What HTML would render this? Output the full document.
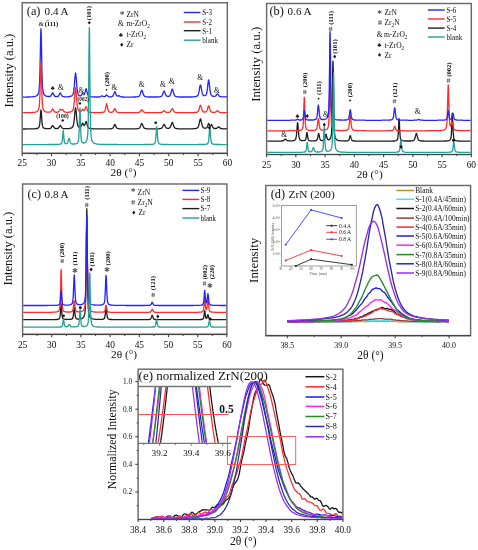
<!DOCTYPE html>
<html><head><meta charset="utf-8"><style>
html,body{margin:0;padding:0;background:#fff;}
svg{display:block;filter:blur(0.3px);font-family:"Liberation Serif",serif;}
</style></head><body>
<svg width="478" height="550" viewBox="0 0 478 550">
<rect width="478" height="550" fill="#fff"/>
<defs>
<clipPath id="ca"><rect x="23" y="3.5" width="203.8" height="149.3"/></clipPath>
<clipPath id="cb"><rect x="267.3" y="4.2" width="203.3" height="149.6"/></clipPath>
<clipPath id="cc"><rect x="23.3" y="184.7" width="202.9" height="149"/></clipPath>
<clipPath id="cd"><rect x="266.5" y="186.2" width="203.4" height="148.7"/></clipPath>
<clipPath id="ce"><rect x="138.8" y="369.9" width="203.4" height="148.9"/></clipPath>
<clipPath id="ci"><rect x="138.8" y="387.1" width="92.3" height="55.7"/></clipPath>
</defs>
<rect x="22.2" y="2.75" width="205.1" height="150.65" stroke="#6a6a6a" stroke-width="1.45" fill="none"/>
<line x1="22.2" y1="153.4" x2="227.3" y2="153.4" stroke="#444" stroke-width="1.2"/>
<line x1="22.2" y1="153.4" x2="22.2" y2="156.2" stroke="#444" stroke-width="1.1"/>
<text x="22.2" y="166.3" font-size="9.4" text-anchor="middle" fill="#111">25</text>
<line x1="51.52" y1="153.4" x2="51.52" y2="156.2" stroke="#444" stroke-width="1.1"/>
<text x="51.52" y="166.3" font-size="9.4" text-anchor="middle" fill="#111">30</text>
<line x1="80.83" y1="153.4" x2="80.83" y2="156.2" stroke="#444" stroke-width="1.1"/>
<text x="80.83" y="166.3" font-size="9.4" text-anchor="middle" fill="#111">35</text>
<line x1="110.15" y1="153.4" x2="110.15" y2="156.2" stroke="#444" stroke-width="1.1"/>
<text x="110.15" y="166.3" font-size="9.4" text-anchor="middle" fill="#111">40</text>
<line x1="139.46" y1="153.4" x2="139.46" y2="156.2" stroke="#444" stroke-width="1.1"/>
<text x="139.46" y="166.3" font-size="9.4" text-anchor="middle" fill="#111">45</text>
<line x1="168.78" y1="153.4" x2="168.78" y2="156.2" stroke="#444" stroke-width="1.1"/>
<text x="168.78" y="166.3" font-size="9.4" text-anchor="middle" fill="#111">50</text>
<line x1="198.09" y1="153.4" x2="198.09" y2="156.2" stroke="#444" stroke-width="1.1"/>
<text x="198.09" y="166.3" font-size="9.4" text-anchor="middle" fill="#111">55</text>
<line x1="227.41" y1="153.4" x2="227.41" y2="156.2" stroke="#444" stroke-width="1.1"/>
<text x="227.41" y="166.3" font-size="9.4" text-anchor="middle" fill="#111">60</text>
<line x1="36.86" y1="153.4" x2="36.86" y2="155" stroke="#444" stroke-width="1"/>
<line x1="66.17" y1="153.4" x2="66.17" y2="155" stroke="#444" stroke-width="1"/>
<line x1="95.49" y1="153.4" x2="95.49" y2="155" stroke="#444" stroke-width="1"/>
<line x1="124.8" y1="153.4" x2="124.8" y2="155" stroke="#444" stroke-width="1"/>
<line x1="154.12" y1="153.4" x2="154.12" y2="155" stroke="#444" stroke-width="1"/>
<line x1="183.43" y1="153.4" x2="183.43" y2="155" stroke="#444" stroke-width="1"/>
<line x1="212.75" y1="153.4" x2="212.75" y2="155" stroke="#444" stroke-width="1"/>
<text x="123.5" y="176.4" font-size="11.3" text-anchor="middle" fill="#111">2θ (°)</text>
<text x="13.1" y="70.6" font-size="12.6" text-anchor="middle" transform="rotate(-90 13.1 70.6)" fill="#111">Intensity (a.u.)</text>
<text x="26.8" y="14.6" font-size="12.3" fill="#111">(a)</text>
<text x="44.6" y="14.6" font-size="11.1" fill="#111">0.4 A</text>
<path d="M22.2,129.0 23.2,129.0 24.2,129.0 25.2,129.0 26.2,128.9 27.2,128.9 28.2,128.9 29.2,128.9 30.2,128.9 31.2,128.9 32.2,128.9 33.2,128.8 34.2,128.8 35.2,128.7 36.2,128.6 36.9,128.5 37.0,128.5 37.2,128.5 37.2,128.4 37.3,128.4 37.5,128.4 37.7,128.3 37.8,128.2 38.0,128.1 38.2,128.1 38.2,128.0 38.3,127.9 38.5,127.8 38.7,127.6 38.8,127.4 39.0,127.1 39.2,126.7 39.2,126.6 39.3,126.2 39.5,125.5 39.6,124.5 39.8,123.2 40.0,121.5 40.1,119.5 40.2,118.4 40.3,117.1 40.5,114.6 40.6,112.3 40.8,110.6 41.0,110.0 41.1,110.6 41.2,111.5 41.3,112.3 41.5,114.6 41.6,117.1 41.8,119.4 41.9,121.5 42.1,123.1 42.2,124.0 42.3,124.5 42.4,125.4 42.6,126.2 42.8,126.7 42.9,127.1 43.1,127.4 43.2,127.6 43.3,127.6 43.4,127.8 43.6,127.9 43.8,128.0 43.9,128.1 44.1,128.2 44.2,128.2 44.2,128.3 44.4,128.3 44.6,128.4 44.7,128.4 44.9,128.4 45.1,128.5 45.2,128.5 46.2,128.6 46.8,128.7 47.1,128.7 47.2,128.7 47.3,128.7 47.5,128.7 47.8,128.7 48.0,128.7 48.2,128.7 48.2,128.7 48.5,128.7 48.7,128.7 48.9,128.6 49.2,128.6 49.2,128.6 49.4,128.6 49.6,128.6 49.9,128.5 50.1,128.5 50.2,128.4 50.3,128.4 50.6,128.2 50.8,128.1 51.0,127.8 51.2,127.6 51.3,127.6 51.5,127.2 51.7,126.8 52.0,126.4 52.2,126.0 52.2,125.9 52.5,125.7 52.7,125.6 52.9,125.7 53.2,126.0 53.2,126.1 53.4,126.4 53.6,126.8 53.9,127.2 54.1,127.5 54.2,127.7 54.3,127.8 54.4,127.9 54.6,128.0 54.7,128.1 54.8,128.2 54.9,128.3 55.0,128.3 55.2,128.4 55.2,128.4 55.3,128.4 55.4,128.5 55.5,128.5 55.6,128.5 55.7,128.5 55.9,128.5 56.0,128.5 56.1,128.5 56.2,128.6 56.2,128.6 56.3,128.6 56.4,128.6 56.6,128.6 56.7,128.6 56.8,128.6 56.9,128.5 57.0,128.5 57.1,128.5 57.2,128.5 57.3,128.5 57.4,128.5 57.5,128.5 57.6,128.4 57.7,128.4 57.8,128.4 58.0,128.3 58.1,128.3 58.2,128.2 58.2,128.2 58.3,128.1 58.4,128.0 58.6,127.9 58.7,127.8 58.9,127.5 59.1,127.2 59.2,127.0 59.4,126.8 59.6,126.4 59.8,125.9 60.1,125.7 60.2,125.5 60.3,125.5 60.5,125.7 60.8,126.0 61.0,126.4 61.2,126.8 61.2,126.8 61.5,127.2 61.7,127.5 62.0,127.8 62.2,128.1 62.2,128.1 62.4,128.2 62.7,128.3 62.9,128.4 63.1,128.5 63.2,128.5 63.4,128.6 63.6,128.6 63.8,128.6 64.1,128.6 64.2,128.6 64.3,128.6 64.5,128.7 64.8,128.7 65.0,128.7 65.2,128.7 65.2,128.7 65.5,128.7 65.7,128.7 65.9,128.7 66.2,128.7 66.2,128.7 67.2,128.6 68.2,128.6 69.2,128.5 69.7,128.4 69.9,128.4 70.2,128.3 70.2,128.3 70.4,128.3 70.6,128.2 70.9,128.2 71.1,128.1 71.2,128.0 71.3,128.0 71.6,127.9 71.8,127.8 72.0,127.6 72.3,127.4 72.3,127.4 72.5,127.2 72.7,126.9 73.0,126.4 73.2,125.8 73.3,125.7 73.4,125.0 73.7,123.9 73.9,122.5 74.1,120.6 74.3,119.6 74.4,118.4 74.6,115.8 74.8,113.0 75.1,110.5 75.3,109.0 75.3,108.6 75.6,107.8 75.8,108.5 76.0,110.4 76.3,113.0 76.3,113.0 76.5,115.7 76.7,118.3 77.0,120.5 77.2,122.4 77.3,122.8 77.4,123.8 77.7,124.9 77.9,125.7 78.1,126.2 78.3,126.5 78.4,126.6 78.6,126.9 78.8,127.1 79.1,127.3 79.3,127.4 79.3,127.4 79.5,127.4 79.8,127.5 80.0,127.4 80.2,127.3 80.3,127.3 80.5,127.2 80.7,127.0 80.9,126.7 81.2,126.3 81.3,126.1 81.4,125.7 81.7,125.1 81.9,124.5 82.1,123.9 82.3,123.6 82.4,123.4 82.6,123.2 82.8,123.3 83.1,123.7 83.3,124.2 83.3,124.3 83.5,124.8 83.8,125.2 84.0,125.5 84.2,125.6 84.3,125.6 84.5,125.4 84.7,125.1 84.9,124.6 85.2,123.9 85.3,123.5 85.4,123.1 85.6,122.3 85.9,121.7 86.1,121.5 86.3,121.7 86.3,121.8 86.6,122.5 86.8,123.4 87.0,124.3 87.3,125.1 87.3,125.2 87.5,125.9 87.7,126.6 88.0,127.1 88.2,127.5 88.3,127.5 88.5,127.7 88.7,128.0 88.9,128.1 89.2,128.2 89.3,128.3 89.4,128.3 89.6,128.4 89.9,128.4 90.1,128.5 90.3,128.5 90.3,128.5 90.6,128.6 90.8,128.6 91.0,128.6 91.3,128.6 91.3,128.7 91.5,128.7 91.7,128.7 92.0,128.7 92.3,128.7 93.3,128.8 94.3,128.8 95.3,128.8 96.3,128.9 97.3,128.9 98.3,128.9 99.3,128.9 100.3,128.9 101.3,128.9 102.3,128.9 103.3,128.9 104.3,128.9 105.3,128.9 106.3,128.9 107.3,128.9 108.3,128.9 109.0,128.8 109.2,128.8 109.3,128.8 109.4,128.8 109.7,128.8 109.9,128.8 110.1,128.8 110.3,128.8 110.4,128.8 110.6,128.8 110.8,128.7 111.1,128.7 111.3,128.7 111.3,128.7 111.6,128.6 111.8,128.6 112.0,128.5 112.3,128.4 112.3,128.4 112.5,128.3 112.7,128.1 113.0,127.9 113.2,127.6 113.3,127.4 113.4,127.2 113.7,126.7 113.9,126.2 114.1,125.6 114.3,125.2 114.4,125.0 114.6,124.6 114.8,124.5 115.1,124.6 115.3,125.0 115.3,125.0 115.5,125.6 115.8,126.2 116.0,126.7 116.2,127.2 116.3,127.3 116.5,127.6 116.7,127.9 116.9,128.1 117.2,128.3 117.3,128.4 117.4,128.4 117.6,128.5 117.9,128.6 118.1,128.6 118.3,128.7 118.4,128.7 118.6,128.7 118.8,128.7 119.1,128.8 119.3,128.8 119.3,128.8 119.5,128.8 119.8,128.8 120.0,128.8 120.2,128.8 120.3,128.8 120.5,128.8 120.7,128.9 121.3,128.9 122.3,128.9 123.3,128.9 124.3,128.9 125.3,128.9 126.3,128.9 127.3,128.9 128.3,128.9 129.3,128.9 130.3,128.9 131.3,128.9 132.3,128.9 133.3,128.9 134.3,128.9 135.2,128.8 135.3,128.8 135.5,128.8 135.7,128.8 136.0,128.8 136.3,128.8 136.3,128.8 136.5,128.8 136.8,128.8 137.1,128.7 137.3,128.7 137.3,128.7 137.6,128.7 137.8,128.6 138.1,128.6 138.3,128.5 138.4,128.5 138.6,128.4 138.9,128.3 139.2,128.2 139.3,128.1 139.4,128.0 139.7,127.7 140.0,127.3 140.2,126.8 140.3,126.6 140.5,126.2 140.7,125.5 141.0,124.8 141.3,124.2 141.3,124.1 141.5,123.7 141.8,123.5 142.1,123.7 142.3,124.1 142.3,124.2 142.6,124.8 142.9,125.5 143.1,126.2 143.3,126.7 143.4,126.8 143.7,127.3 143.9,127.7 144.2,128.0 144.3,128.1 144.4,128.2 144.7,128.3 145.0,128.4 145.2,128.5 145.3,128.5 145.5,128.6 145.8,128.6 146.0,128.7 146.3,128.7 146.3,128.7 146.6,128.7 146.8,128.7 147.1,128.8 147.3,128.8 147.3,128.8 147.6,128.8 147.9,128.8 148.1,128.8 148.3,128.8 148.4,128.8 149.3,128.9 150.3,128.9 151.3,128.9 152.3,128.9 153.3,128.9 154.3,128.9 155.3,128.9 156.3,128.9 157.3,128.8 157.5,128.8 157.8,128.8 158.0,128.8 158.3,128.8 158.3,128.8 158.5,128.8 158.8,128.8 159.1,128.8 159.3,128.7 159.3,128.7 159.6,128.7 159.9,128.7 160.1,128.6 160.3,128.6 160.4,128.6 160.7,128.6 160.9,128.5 161.2,128.4 161.3,128.3 161.4,128.3 161.7,128.1 162.0,127.8 162.2,127.5 162.3,127.4 162.5,127.1 162.8,126.6 163.0,126.1 163.3,125.5 163.3,125.4 163.6,124.9 163.8,124.5 164.1,124.4 164.3,124.5 164.3,124.5 164.6,124.9 164.9,125.5 165.1,126.0 165.3,126.5 165.4,126.6 165.7,127.1 165.7,127.1 165.9,127.4 166.0,127.5 166.2,127.7 166.2,127.8 166.3,127.9 166.5,128.0 166.5,128.0 166.7,128.1 166.8,128.1 167.0,128.2 167.0,128.2 167.3,128.3 167.3,128.3 167.3,128.3 167.5,128.3 167.5,128.3 167.8,128.4 167.8,128.4 168.0,128.4 168.1,128.4 168.3,128.3 168.3,128.3 168.3,128.3 168.6,128.3 168.6,128.3 168.8,128.3 168.9,128.3 169.1,128.2 169.1,128.2 169.3,128.1 169.4,128.1 169.4,128.1 169.6,127.9 169.7,127.9 169.9,127.7 169.9,127.6 170.2,127.4 170.2,127.3 170.3,127.1 170.4,126.9 170.4,126.9 170.7,126.4 170.7,126.3 171.0,125.6 171.2,124.8 171.3,124.5 171.5,124.0 171.8,123.2 172.0,122.6 172.3,122.4 172.4,122.4 172.6,122.6 172.8,123.2 173.1,124.0 173.3,124.9 173.4,124.9 173.6,125.7 173.9,126.4 174.1,126.9 174.4,127.3 174.4,127.4 174.7,127.7 174.9,128.0 175.2,128.2 175.4,128.3 175.5,128.3 175.7,128.4 176.0,128.5 176.3,128.5 176.4,128.6 176.5,128.6 176.8,128.6 177.0,128.7 177.3,128.7 177.4,128.7 177.6,128.7 177.8,128.7 178.1,128.7 178.4,128.8 178.4,128.8 178.6,128.8 178.9,128.8 179.4,128.8 180.4,128.8 181.4,128.9 182.4,128.9 183.4,128.9 184.4,128.9 185.4,128.9 186.4,128.9 187.4,128.9 188.4,128.9 189.4,128.9 190.4,128.8 191.4,128.8 192.4,128.8 193.4,128.7 193.8,128.7 194.1,128.7 194.4,128.7 194.4,128.7 194.6,128.7 194.9,128.6 195.2,128.6 195.4,128.6 195.4,128.6 195.7,128.5 196.0,128.5 196.2,128.4 196.4,128.4 196.5,128.3 196.7,128.2 197.0,128.1 197.3,128.0 197.4,127.9 197.5,127.8 197.8,127.5 198.1,127.1 198.3,126.6 198.4,126.4 198.6,125.9 198.9,125.0 199.1,123.9 199.4,122.7 199.4,122.7 199.6,121.4 199.9,120.2 200.2,119.3 200.4,118.9 200.4,118.9 200.7,119.2 201.0,120.1 201.2,121.4 201.4,122.1 201.5,122.7 201.8,123.9 202.0,124.9 202.3,125.8 202.4,126.1 202.5,126.5 202.8,127.0 203.1,127.4 203.3,127.7 203.4,127.7 203.5,127.8 203.6,127.9 203.7,127.9 203.9,128.0 203.9,128.0 204.1,128.1 204.3,128.1 204.4,128.1 204.4,128.1 204.5,128.2 204.7,128.2 204.7,128.2 204.9,128.2 204.9,128.2 205.2,128.2 205.2,128.2 205.4,128.2 205.4,128.2 205.4,128.2 205.6,128.2 205.7,128.2 205.8,128.2 206.0,128.2 206.2,128.1 206.2,128.1 206.4,128.0 206.4,128.0 206.4,128.0 206.5,127.9 206.6,127.9 206.6,127.8 206.8,127.7 206.8,127.7 206.9,127.6 207.0,127.4 207.0,127.4 207.1,127.3 207.2,127.1 207.3,127.0 207.4,126.7 207.4,126.7 207.5,126.5 207.6,126.1 207.7,125.9 207.8,125.5 207.9,125.3 208.0,124.8 208.1,124.6 208.2,124.2 208.3,124.1 208.4,123.8 208.4,123.7 208.5,123.6 208.6,123.5 208.7,123.5 208.8,123.7 208.9,123.8 209.1,124.1 209.1,124.2 209.3,124.6 209.3,124.8 209.4,125.0 209.5,125.2 209.5,125.3 209.7,125.6 209.7,125.8 209.9,126.0 209.9,126.1 210.1,126.2 210.1,126.2 210.3,126.2 210.3,126.2 210.4,126.1 210.5,126.1 210.5,126.0 210.7,125.8 210.8,125.7 210.9,125.4 211.0,125.3 211.1,125.0 211.2,124.9 211.3,124.7 211.4,124.6 211.4,124.6 211.5,124.5 211.6,124.5 211.7,124.6 211.8,124.7 211.9,125.0 212.0,125.1 212.0,125.2 212.1,125.5 212.2,125.6 212.3,125.8 212.3,126.0 212.4,126.1 212.4,126.2 212.5,126.5 212.6,126.7 212.7,127.0 212.8,127.1 213.0,127.4 213.0,127.5 213.1,127.6 213.2,127.7 213.2,127.8 213.3,127.9 213.4,127.9 213.4,127.9 213.4,128.0 213.6,128.1 213.6,128.1 213.6,128.1 213.8,128.2 213.8,128.3 213.9,128.3 214.0,128.3 214.1,128.4 214.2,128.4 214.4,128.4 214.4,128.4 214.4,128.4 214.7,128.5 214.9,128.5 214.9,128.5 215.1,128.5 215.2,128.5 215.3,128.5 215.4,128.5 215.4,128.5 215.5,128.5 215.7,128.5 215.7,128.5 215.9,128.5 216.0,128.5 216.1,128.4 216.2,128.4 216.3,128.4 216.4,128.3 216.5,128.3 216.7,128.2 216.8,128.2 217.0,128.0 217.3,127.8 217.4,127.7 217.6,127.6 217.8,127.3 218.1,127.1 218.3,126.9 218.4,126.9 218.6,126.9 218.9,126.9 219.1,127.1 219.4,127.4 219.4,127.4 219.7,127.6 219.9,127.9 220.2,128.1 220.4,128.2 220.5,128.3 220.7,128.4 221.0,128.5 221.2,128.6 221.4,128.6 221.5,128.6 221.8,128.7 222.0,128.7 222.3,128.7 222.4,128.7 222.6,128.8 222.8,128.8 223.0,128.8 223.1,128.8 223.3,128.8 223.4,128.8 223.4,128.8 223.6,128.8 223.6,128.8 223.9,128.8 224.2,128.8 224.2,128.8 224.4,128.8 224.4,128.8 224.5,128.8 224.7,128.8 224.8,128.8 224.9,128.8 225.1,128.8 225.2,128.8 225.4,128.8 225.4,128.8 225.6,128.8 225.9,128.7 226.2,128.7 226.4,128.7 226.5,128.7 226.8,128.6 227.1,128.6 227.4,128.5" stroke="#1e1e1e" stroke-width="1.3" fill="none" stroke-linejoin="round" clip-path="url(#ca)"/>
<path d="M22.2,97.1 23.2,97.1 24.2,97.1 25.2,97.1 26.2,97.1 27.2,97.0 28.2,97.0 29.2,97.0 30.2,96.9 31.2,96.9 32.2,96.8 33.2,96.7 34.2,96.6 35.2,96.3 36.2,96.0 36.9,95.6 37.0,95.4 37.2,95.3 37.2,95.3 37.3,95.1 37.5,95.0 37.7,94.7 37.8,94.5 38.0,94.2 38.2,93.9 38.2,93.8 38.3,93.5 38.5,93.0 38.7,92.4 38.8,91.6 39.0,90.6 39.2,89.2 39.2,88.5 39.3,87.2 39.5,84.6 39.6,81.0 39.8,76.2 40.0,70.2 40.1,62.9 40.2,59.1 40.3,54.5 40.5,45.6 40.6,37.2 40.8,31.0 41.0,28.6 41.1,31.0 41.2,34.1 41.3,37.2 41.5,45.6 41.6,54.5 41.8,62.9 41.9,70.2 42.1,76.2 42.2,79.5 42.3,80.9 42.4,84.5 42.6,87.2 42.8,89.1 42.9,90.5 43.1,91.6 43.2,92.2 43.3,92.4 43.4,93.0 43.6,93.4 43.8,93.8 43.9,94.2 44.1,94.5 44.2,94.7 44.2,94.7 44.4,94.9 44.6,95.1 44.7,95.2 44.9,95.4 45.1,95.5 45.2,95.6 46.2,96.1 46.8,96.3 47.1,96.3 47.2,96.3 47.3,96.4 47.5,96.4 47.8,96.4 48.0,96.4 48.2,96.5 48.2,96.5 48.5,96.5 48.7,96.5 48.9,96.5 49.2,96.5 49.2,96.5 49.4,96.5 49.6,96.4 49.9,96.4 50.1,96.3 50.2,96.3 50.3,96.2 50.6,96.1 50.8,95.9 51.0,95.6 51.2,95.4 51.3,95.3 51.5,94.9 51.7,94.4 52.0,93.9 52.2,93.4 52.2,93.4 52.5,93.0 52.7,92.9 52.9,93.0 53.2,93.4 53.2,93.5 53.4,93.9 53.6,94.4 53.9,94.9 54.1,95.3 54.2,95.5 54.3,95.7 54.4,95.8 54.6,95.9 54.7,96.1 54.8,96.2 54.9,96.2 55.0,96.3 55.2,96.4 55.2,96.4 55.3,96.4 55.4,96.5 55.5,96.5 55.6,96.5 55.7,96.5 55.9,96.6 56.0,96.6 56.1,96.6 56.2,96.6 56.2,96.6 56.3,96.6 56.4,96.6 56.6,96.6 56.7,96.6 56.8,96.6 56.9,96.6 57.0,96.6 57.1,96.6 57.2,96.6 57.3,96.5 57.4,96.5 57.5,96.5 57.6,96.5 57.7,96.4 57.8,96.4 58.0,96.3 58.1,96.3 58.2,96.2 58.2,96.2 58.3,96.1 58.4,96.0 58.6,95.9 58.7,95.7 58.9,95.4 59.1,94.9 59.2,94.7 59.4,94.5 59.6,93.9 59.8,93.5 60.1,93.1 60.2,93.0 60.3,93.0 60.5,93.1 60.8,93.5 61.0,94.0 61.2,94.5 61.2,94.5 61.5,95.0 61.7,95.4 62.0,95.7 62.2,96.0 62.2,96.1 62.4,96.2 62.7,96.4 62.9,96.5 63.1,96.6 63.2,96.6 63.4,96.6 63.6,96.7 63.8,96.7 64.1,96.7 64.2,96.7 64.3,96.8 64.5,96.8 64.8,96.8 65.0,96.8 65.2,96.8 65.2,96.8 65.5,96.8 65.7,96.8 65.9,96.8 66.2,96.8 66.2,96.8 67.2,96.8 68.2,96.7 69.2,96.6 69.7,96.5 69.9,96.5 70.2,96.4 70.2,96.4 70.4,96.4 70.6,96.3 70.9,96.2 71.1,96.1 71.2,96.1 71.3,96.0 71.6,95.9 71.8,95.8 72.0,95.6 72.3,95.4 72.3,95.4 72.5,95.1 72.7,94.8 73.0,94.3 73.2,93.6 73.3,93.4 73.4,92.7 73.7,91.4 73.9,89.7 74.1,87.6 74.3,86.5 74.4,85.1 74.6,82.1 74.8,79.0 75.1,76.1 75.3,74.4 75.3,73.9 75.6,73.0 75.8,73.9 76.0,76.0 76.3,78.9 76.3,79.0 76.5,82.1 76.7,85.0 77.0,87.6 77.2,89.7 77.3,90.1 77.4,91.3 77.5,91.5 77.7,92.6 77.9,93.4 77.9,93.5 78.1,94.0 78.1,94.2 78.3,94.4 78.3,94.5 78.4,94.6 78.5,94.8 78.6,95.0 78.7,95.1 78.8,95.2 78.9,95.3 79.1,95.4 79.1,95.4 79.3,95.5 79.3,95.6 79.5,95.7 79.5,95.7 79.7,95.7 79.8,95.7 79.9,95.8 80.0,95.8 80.1,95.8 80.2,95.8 80.3,95.8 80.3,95.8 80.5,95.8 80.5,95.8 80.7,95.7 80.7,95.7 80.9,95.6 81.2,95.4 81.2,95.3 81.3,95.3 81.4,95.1 81.4,95.1 81.6,94.8 81.7,94.7 81.8,94.5 81.9,94.2 82.0,94.1 82.1,93.8 82.2,93.7 82.3,93.6 82.4,93.4 82.4,93.4 82.6,93.3 82.8,93.3 82.8,93.4 83.0,93.6 83.1,93.6 83.2,93.8 83.3,93.9 83.3,94.0 83.4,94.1 83.5,94.3 83.6,94.3 83.8,94.4 83.8,94.5 84.0,94.5 84.0,94.5 84.2,94.3 84.3,94.3 84.4,94.0 84.5,93.9 84.6,93.5 84.7,93.4 84.8,92.9 84.9,92.6 85.1,92.2 85.2,91.7 85.3,91.3 85.3,91.3 85.4,90.7 85.5,90.5 85.6,89.8 85.7,89.7 85.9,89.1 86.1,88.8 86.1,88.8 86.3,89.0 86.3,89.0 86.3,89.1 86.5,89.6 86.6,89.9 86.7,90.4 86.8,90.9 86.9,91.3 87.0,91.9 87.1,92.2 87.3,92.9 87.3,92.9 87.3,93.0 87.5,93.8 87.7,94.4 87.7,94.5 88.0,95.1 88.2,95.5 88.3,95.6 88.5,95.8 88.7,96.1 88.9,96.2 89.2,96.4 89.3,96.4 89.4,96.5 89.6,96.5 89.9,96.6 90.1,96.6 90.3,96.7 90.3,96.7 90.6,96.7 90.8,96.8 91.0,96.8 91.3,96.8 91.3,96.8 91.5,96.8 91.7,96.9 92.0,96.9 92.3,96.9 93.3,96.9 94.3,97.0 95.3,97.0 96.1,97.0 96.3,97.0 96.3,97.0 96.5,97.0 96.8,97.0 97.0,97.0 97.2,97.0 97.3,97.0 97.5,97.0 97.7,97.0 97.9,97.0 98.2,97.0 98.3,97.0 98.4,97.0 98.7,97.0 98.9,97.0 99.1,96.9 99.3,96.9 99.4,96.9 99.6,96.9 99.8,96.8 100.1,96.8 100.3,96.7 100.3,96.7 100.5,96.6 100.8,96.4 101.0,96.3 101.2,96.1 101.3,96.1 101.5,96.0 101.5,96.0 101.7,95.9 101.9,95.8 101.9,95.8 102.1,95.8 102.2,95.9 102.3,95.9 102.3,95.9 102.4,96.0 102.5,96.0 102.6,96.1 102.7,96.2 102.9,96.2 102.9,96.3 103.1,96.4 103.1,96.4 103.3,96.5 103.3,96.5 103.5,96.6 103.6,96.6 103.8,96.6 103.8,96.6 104.0,96.7 104.0,96.7 104.2,96.7 104.3,96.7 104.4,96.7 104.5,96.6 104.6,96.6 104.8,96.6 104.8,96.6 105.0,96.5 105.2,96.3 105.2,96.3 105.3,96.2 105.4,96.1 105.5,96.1 105.6,95.9 105.7,95.8 105.8,95.6 105.9,95.5 106.0,95.4 106.2,95.2 106.2,95.1 106.3,95.0 106.4,94.9 106.4,94.9 106.6,94.8 106.8,94.9 106.9,94.9 107.0,95.1 107.1,95.2 107.2,95.4 107.3,95.4 107.3,95.5 107.4,95.7 107.6,95.8 107.7,95.9 107.8,96.1 107.9,96.2 108.1,96.3 108.3,96.5 108.3,96.5 108.5,96.6 108.7,96.7 108.9,96.7 109.0,96.8 109.1,96.8 109.2,96.8 109.3,96.8 109.3,96.8 109.4,96.8 109.5,96.8 109.7,96.8 109.7,96.8 109.9,96.8 110.1,96.8 110.1,96.8 110.3,96.8 110.3,96.8 110.4,96.8 110.5,96.8 110.6,96.8 110.7,96.8 110.8,96.8 110.9,96.8 111.1,96.8 111.1,96.8 111.3,96.7 111.3,96.7 111.3,96.7 111.6,96.7 111.8,96.6 111.8,96.6 112.0,96.5 112.3,96.4 112.3,96.4 112.5,96.3 112.7,96.1 113.0,95.8 113.1,95.6 113.2,95.4 113.3,95.2 113.3,95.2 113.4,94.9 113.5,94.6 113.7,94.3 113.8,94.0 113.9,93.7 114.0,93.3 114.1,92.9 114.2,92.6 114.3,92.5 114.4,92.3 114.5,92.0 114.6,91.8 114.7,91.6 114.8,91.6 115.0,91.6 115.1,91.8 115.2,92.0 115.3,92.2 115.3,92.2 115.4,92.6 115.5,92.9 115.7,93.3 115.8,93.6 115.9,94.0 116.0,94.3 116.1,94.6 116.2,94.8 116.3,95.0 116.4,95.1 116.5,95.3 116.6,95.5 116.7,95.6 116.8,95.8 116.9,95.9 117.1,96.0 117.2,96.0 117.3,96.1 117.3,96.1 117.4,96.1 117.5,96.1 117.6,96.1 117.8,96.1 117.9,96.0 118.0,96.0 118.1,95.9 118.2,95.9 118.3,95.8 118.4,95.8 118.5,95.8 118.6,95.7 118.7,95.7 118.8,95.7 118.9,95.7 119.1,95.7 119.2,95.8 119.3,95.8 119.3,95.8 119.4,95.9 119.5,96.0 119.6,96.1 119.8,96.1 119.9,96.2 120.0,96.3 120.1,96.4 120.2,96.5 120.3,96.5 120.3,96.5 120.5,96.6 120.6,96.6 120.7,96.7 120.8,96.7 121.1,96.8 121.3,96.9 121.3,96.9 121.5,96.9 121.8,96.9 122.0,97.0 122.2,97.0 122.3,97.0 122.5,97.0 122.7,97.0 122.9,97.0 123.2,97.0 123.3,97.0 123.4,97.0 123.6,97.0 123.9,97.0 124.1,97.1 124.3,97.1 124.3,97.1 124.6,97.1 124.8,97.1 125.3,97.1 126.3,97.1 127.3,97.1 128.3,97.1 129.3,97.1 130.3,97.1 131.3,97.1 132.3,97.1 133.3,97.0 134.3,97.0 135.2,97.0 135.3,97.0 135.5,97.0 135.7,97.0 136.0,96.9 136.3,96.9 136.3,96.9 136.5,96.9 136.8,96.9 137.1,96.8 137.3,96.8 137.3,96.8 137.6,96.8 137.8,96.7 138.1,96.7 138.3,96.6 138.4,96.6 138.6,96.5 138.9,96.3 139.2,96.1 139.3,96.0 139.4,95.9 139.7,95.5 140.0,95.0 140.2,94.4 140.3,94.1 140.5,93.7 140.7,92.8 141.0,91.9 141.3,91.0 141.3,90.9 141.5,90.4 141.8,90.1 142.1,90.4 142.3,91.0 142.3,91.0 142.6,91.9 142.9,92.8 143.1,93.6 143.3,94.2 143.4,94.4 143.7,95.0 143.9,95.5 144.2,95.9 144.3,96.0 144.4,96.1 144.7,96.3 145.0,96.5 145.2,96.6 145.3,96.6 145.5,96.7 145.8,96.7 146.0,96.8 146.3,96.8 146.3,96.8 146.6,96.8 146.8,96.9 147.1,96.9 147.3,96.9 147.3,96.9 147.6,96.9 147.9,96.9 148.1,97.0 148.3,97.0 148.4,97.0 149.3,97.0 150.3,97.0 151.3,97.0 152.3,97.0 153.3,97.0 154.3,97.0 155.3,97.0 156.3,97.0 157.3,97.0 157.5,97.0 157.8,97.0 158.0,96.9 158.3,96.9 158.3,96.9 158.5,96.9 158.8,96.9 159.1,96.9 159.3,96.8 159.3,96.8 159.6,96.8 159.9,96.8 160.1,96.7 160.3,96.7 160.4,96.7 160.7,96.6 160.9,96.5 161.2,96.4 161.3,96.3 161.4,96.2 161.7,96.0 162.0,95.7 162.2,95.2 162.3,95.0 162.5,94.7 162.8,94.1 163.0,93.3 163.3,92.5 163.3,92.4 163.6,91.8 163.8,91.2 164.1,91.0 164.3,91.2 164.3,91.2 164.6,91.8 164.9,92.5 165.1,93.3 165.3,93.8 165.4,94.0 165.7,94.6 165.7,94.7 165.9,95.1 166.0,95.2 166.2,95.5 166.2,95.6 166.3,95.7 166.5,95.8 166.5,95.8 166.7,96.0 166.8,96.1 167.0,96.2 167.0,96.2 167.3,96.3 167.3,96.3 167.3,96.3 167.5,96.3 167.5,96.3 167.8,96.4 167.8,96.4 168.0,96.4 168.1,96.4 168.3,96.4 168.3,96.4 168.3,96.4 168.6,96.3 168.6,96.3 168.8,96.3 168.9,96.3 169.1,96.2 169.1,96.2 169.3,96.0 169.4,96.0 169.4,96.0 169.6,95.8 169.7,95.8 169.9,95.5 169.9,95.5 170.2,95.2 170.2,95.1 170.3,94.8 170.4,94.6 170.4,94.6 170.7,94.0 170.7,93.9 171.0,93.0 171.2,92.1 171.3,91.6 171.5,91.0 171.8,90.0 172.0,89.3 172.3,89.1 172.4,89.1 172.6,89.3 172.8,90.1 173.1,91.1 173.3,92.1 173.4,92.1 173.6,93.1 173.9,93.9 174.1,94.6 174.4,95.1 174.4,95.2 174.7,95.6 174.9,95.9 175.2,96.2 175.4,96.3 175.5,96.3 175.7,96.5 176.0,96.5 176.3,96.6 176.4,96.6 176.5,96.7 176.8,96.7 177.0,96.8 177.3,96.8 177.4,96.8 177.6,96.8 177.8,96.9 178.1,96.9 178.4,96.9 178.4,96.9 178.6,96.9 178.9,96.9 179.4,97.0 180.4,97.0 181.4,97.0 182.4,97.0 183.4,97.0 184.4,97.0 185.4,97.0 186.4,97.0 187.4,97.0 188.4,97.0 189.4,97.0 190.4,97.0 191.4,97.0 192.4,96.9 193.4,96.9 193.8,96.8 194.1,96.8 194.4,96.8 194.4,96.8 194.6,96.7 194.9,96.7 195.2,96.7 195.4,96.6 195.4,96.6 195.7,96.6 196.0,96.5 196.2,96.4 196.4,96.4 196.5,96.3 196.7,96.2 197.0,96.1 197.3,95.9 197.4,95.8 197.5,95.6 197.8,95.3 198.1,94.8 198.3,94.2 198.4,94.0 198.6,93.4 198.9,92.3 199.1,91.0 199.4,89.5 199.4,89.5 199.6,88.0 199.9,86.5 200.2,85.4 200.4,85.0 200.4,85.0 200.7,85.3 201.0,86.4 201.2,87.9 201.4,88.8 201.5,89.4 201.8,90.9 202.0,92.1 202.3,93.2 202.4,93.5 202.5,94.0 202.8,94.5 202.8,94.6 203.0,94.9 203.1,95.0 203.2,95.2 203.3,95.3 203.4,95.3 203.5,95.4 203.6,95.5 203.7,95.5 203.9,95.6 204.0,95.6 204.1,95.7 204.2,95.7 204.4,95.7 204.4,95.7 204.4,95.7 204.7,95.7 204.9,95.7 204.9,95.6 205.1,95.6 205.2,95.6 205.4,95.5 205.4,95.5 205.4,95.4 205.6,95.3 205.7,95.2 205.8,95.1 206.0,94.9 206.1,94.8 206.2,94.5 206.3,94.3 206.4,94.1 206.5,93.8 206.5,93.7 206.8,92.8 207.0,91.7 207.0,91.5 207.2,90.2 207.4,89.1 207.5,88.4 207.7,86.3 207.9,84.1 208.2,82.1 208.4,80.6 208.4,80.5 208.6,79.9 208.9,80.5 209.1,82.1 209.3,84.2 209.4,84.5 209.6,86.4 209.8,88.5 210.1,90.3 210.3,91.8 210.4,92.3 210.5,93.0 210.8,93.9 210.8,94.1 211.0,94.5 211.1,94.8 211.2,95.0 211.4,95.2 211.4,95.3 211.5,95.3 211.6,95.5 211.7,95.6 211.9,95.8 211.9,95.8 212.2,95.9 212.4,96.0 212.4,96.0 212.4,96.1 212.6,96.1 212.7,96.2 212.9,96.2 213.0,96.2 213.1,96.3 213.2,96.3 213.3,96.3 213.4,96.3 213.5,96.3 213.6,96.4 213.7,96.4 213.8,96.4 214.0,96.4 214.0,96.4 214.3,96.4 214.4,96.4 214.5,96.4 214.5,96.4 214.8,96.3 215.1,96.2 215.3,96.1 215.4,96.0 215.6,95.9 215.9,95.7 216.1,95.4 216.4,95.0 216.4,95.0 216.6,94.6 216.9,94.3 217.2,94.0 217.4,93.9 217.4,93.9 217.7,94.0 218.0,94.3 218.2,94.7 218.4,94.9 218.5,95.1 218.8,95.5 219.0,95.8 219.3,96.1 219.4,96.2 219.5,96.3 219.8,96.4 220.1,96.6 220.3,96.6 220.4,96.7 220.6,96.7 220.9,96.7 221.1,96.8 221.4,96.8 221.4,96.8 221.7,96.8 221.9,96.8 222.2,96.9 222.4,96.9 222.5,96.9 222.7,96.9 223.0,96.9 223.2,96.9 223.4,96.9 223.5,96.9 223.6,96.9 223.8,96.9 223.9,96.9 224.0,96.9 224.2,96.9 224.4,96.9 224.5,96.9 224.8,96.9 225.1,96.9 225.4,96.8 225.4,96.8 225.6,96.8 225.9,96.8 226.2,96.8 226.4,96.7 226.5,96.7 226.8,96.7 227.1,96.6 227.4,96.5" stroke="#2424ff" stroke-width="1.3" fill="none" stroke-linejoin="round" clip-path="url(#ca)"/>
<path d="M22.2,112.7 23.2,112.7 24.2,112.7 25.2,112.7 26.2,112.7 27.2,112.7 28.2,112.7 29.2,112.6 30.2,112.6 31.2,112.6 32.2,112.5 33.2,112.4 34.2,112.3 35.2,112.2 36.2,111.9 36.9,111.6 37.0,111.5 37.2,111.4 37.2,111.4 37.3,111.3 37.5,111.1 37.7,111.0 37.8,110.8 38.0,110.6 38.2,110.3 38.2,110.3 38.3,110.0 38.5,109.7 38.7,109.2 38.8,108.7 39.0,107.9 39.2,106.9 39.2,106.4 39.3,105.4 39.5,103.5 39.6,100.8 39.8,97.3 40.0,92.9 40.1,87.5 40.2,84.7 40.3,81.3 40.5,74.7 40.6,68.5 40.8,64.0 41.0,62.2 41.1,64.0 41.2,66.3 41.3,68.5 41.5,74.7 41.6,81.3 41.8,87.5 41.9,92.9 42.1,97.3 42.2,99.7 42.3,100.8 42.4,103.5 42.6,105.4 42.8,106.8 42.9,107.9 43.1,108.6 43.2,109.1 43.3,109.2 43.4,109.7 43.6,110.0 43.8,110.3 43.9,110.5 44.1,110.8 44.2,110.9 44.2,110.9 44.4,111.1 44.6,111.2 44.7,111.3 44.9,111.4 45.1,111.5 45.2,111.6 46.2,112.0 46.8,112.1 47.1,112.1 47.2,112.1 47.3,112.1 47.5,112.2 47.8,112.2 48.0,112.2 48.2,112.2 48.2,112.2 48.5,112.2 48.7,112.2 48.9,112.2 49.2,112.2 49.2,112.2 49.4,112.2 49.6,112.2 49.9,112.1 50.1,112.1 50.2,112.0 50.3,112.0 50.6,111.9 50.8,111.7 51.0,111.4 51.2,111.2 51.3,111.1 51.5,110.8 51.7,110.4 52.0,109.9 52.2,109.5 52.2,109.5 52.5,109.2 52.7,109.0 52.9,109.2 53.2,109.5 53.2,109.6 53.4,109.9 53.6,110.4 53.9,110.8 54.1,111.2 54.2,111.4 54.3,111.5 54.4,111.6 54.6,111.7 54.7,111.8 54.8,111.9 54.9,112.0 55.0,112.0 55.2,112.1 55.2,112.1 55.3,112.1 55.4,112.1 55.5,112.2 55.6,112.2 55.7,112.2 55.9,112.2 56.0,112.2 56.1,112.3 56.2,112.3 56.2,112.3 56.3,112.3 56.4,112.3 56.6,112.3 56.7,112.3 56.8,112.3 56.9,112.3 57.0,112.2 57.1,112.2 57.2,112.2 57.3,112.2 57.4,112.2 57.5,112.2 57.6,112.2 57.7,112.1 57.8,112.1 58.0,112.1 58.1,112.0 58.2,111.9 58.2,111.9 58.3,111.9 58.4,111.8 58.6,111.7 58.7,111.6 58.9,111.3 59.1,111.0 59.2,110.9 59.4,110.7 59.6,110.3 59.8,109.9 60.1,109.6 60.2,109.5 60.3,109.4 60.5,109.4 60.8,109.6 61.0,109.7 61.2,109.9 61.2,109.9 61.5,109.9 61.7,109.9 62.0,109.9 62.2,109.7 62.2,109.7 62.4,109.7 62.7,109.7 62.9,109.8 63.1,110.1 63.2,110.3 63.4,110.5 63.6,110.8 63.8,111.1 64.1,111.4 64.2,111.6 64.3,111.7 64.5,111.8 64.8,112.0 65.0,112.1 65.2,112.2 65.2,112.2 65.5,112.2 65.7,112.2 65.9,112.3 66.2,112.3 66.2,112.3 66.4,112.3 66.6,112.3 66.9,112.3 67.1,112.3 67.2,112.3 67.3,112.3 67.6,112.3 67.8,112.3 68.0,112.3 68.2,112.3 68.3,112.3 68.5,112.2 69.2,112.2 69.7,112.1 69.9,112.0 70.2,112.0 70.2,112.0 70.4,111.9 70.6,111.9 70.9,111.8 71.1,111.7 71.2,111.6 71.3,111.6 71.6,111.5 71.8,111.3 72.0,111.2 72.3,111.0 72.3,110.9 72.5,110.7 72.7,110.3 73.0,109.8 73.2,109.1 73.3,108.9 73.4,108.1 73.7,106.8 73.9,105.0 74.1,102.8 74.3,101.7 74.4,100.2 74.6,97.1 74.8,93.9 75.1,90.8 75.3,89.0 75.3,88.5 75.6,87.7 75.8,88.5 76.0,90.8 76.3,93.8 76.3,93.8 76.5,97.1 76.7,100.1 77.0,102.8 77.2,105.0 77.3,105.5 77.4,106.7 77.5,106.9 77.7,108.0 77.9,108.9 77.9,109.0 78.1,109.5 78.1,109.7 78.3,110.0 78.3,110.0 78.4,110.2 78.5,110.4 78.6,110.5 78.7,110.7 78.8,110.8 78.9,110.9 79.1,111.0 79.1,111.0 79.3,111.1 79.3,111.2 79.5,111.3 79.5,111.3 79.7,111.3 79.8,111.4 79.9,111.4 80.0,111.4 80.1,111.4 80.2,111.4 80.3,111.4 80.3,111.4 80.5,111.4 80.5,111.4 80.7,111.4 80.7,111.4 80.9,111.3 81.2,111.1 81.2,111.1 81.3,111.0 81.4,110.9 81.4,110.8 81.6,110.6 81.7,110.5 81.8,110.3 81.9,110.1 82.0,109.9 82.1,109.7 82.2,109.6 82.3,109.5 82.4,109.3 82.4,109.3 82.6,109.2 82.8,109.3 82.8,109.3 83.0,109.5 83.1,109.6 83.2,109.8 83.3,109.9 83.3,109.9 83.4,110.1 83.5,110.2 83.6,110.3 83.8,110.5 83.8,110.5 84.0,110.5 84.0,110.5 84.2,110.5 84.3,110.5 84.4,110.3 84.5,110.3 84.6,110.0 84.7,109.9 84.8,109.6 84.9,109.4 85.1,109.1 85.2,108.7 85.3,108.5 85.3,108.5 85.4,108.1 85.5,107.9 85.6,107.4 85.7,107.3 85.9,106.9 86.1,106.7 86.1,106.7 86.3,106.8 86.3,106.9 86.3,107.0 86.5,107.3 86.6,107.5 86.7,107.8 86.8,108.2 86.9,108.5 87.0,109.0 87.1,109.2 87.3,109.6 87.3,109.7 87.3,109.8 87.5,110.3 87.7,110.8 87.7,110.8 88.0,111.2 88.2,111.5 88.3,111.6 88.5,111.8 88.7,111.9 88.9,112.1 89.2,112.1 89.3,112.2 89.4,112.2 89.6,112.3 89.9,112.3 90.1,112.4 90.3,112.4 90.3,112.4 90.6,112.4 90.8,112.4 91.0,112.5 91.3,112.5 91.3,112.5 91.5,112.5 91.7,112.5 92.0,112.5 92.3,112.5 93.3,112.6 94.3,112.6 95.3,112.6 96.3,112.6 97.3,112.6 98.3,112.6 99.3,112.6 100.3,112.6 101.3,112.5 101.5,112.5 101.7,112.5 101.9,112.5 102.1,112.4 102.3,112.4 102.3,112.4 102.5,112.4 102.7,112.4 102.9,112.3 103.1,112.3 103.3,112.2 103.3,112.2 103.5,112.2 103.8,112.1 104.0,112.0 104.2,111.8 104.3,111.8 104.4,111.7 104.6,111.4 104.8,111.1 105.0,110.6 105.2,110.0 105.3,109.6 105.4,109.2 105.6,108.2 105.8,107.1 106.0,105.9 106.2,104.8 106.3,104.5 106.4,104.0 106.6,103.7 106.8,104.0 107.0,104.8 107.2,105.9 107.3,106.2 107.4,107.1 107.7,108.2 107.9,109.1 108.1,109.9 108.3,110.6 108.3,110.6 108.5,111.0 108.7,111.4 108.9,111.6 109.0,111.7 109.1,111.8 109.2,111.9 109.3,111.9 109.3,111.9 109.4,112.0 109.5,112.0 109.7,112.1 109.7,112.1 109.9,112.1 110.1,112.2 110.1,112.2 110.3,112.2 110.3,112.2 110.4,112.2 110.5,112.2 110.6,112.3 110.7,112.3 110.8,112.3 110.9,112.3 111.1,112.3 111.1,112.3 111.3,112.3 111.3,112.3 111.3,112.3 111.6,112.3 111.8,112.2 111.8,112.2 112.0,112.2 112.3,112.1 112.3,112.1 112.5,112.0 112.7,111.9 113.0,111.7 113.2,111.4 113.3,111.3 113.4,111.1 113.7,110.7 113.9,110.2 114.1,109.7 114.3,109.3 114.4,109.2 114.6,108.8 114.8,108.7 115.1,108.8 115.3,109.2 115.3,109.2 115.5,109.7 115.8,110.2 116.0,110.7 116.2,111.1 116.3,111.2 116.5,111.5 116.7,111.8 116.9,112.0 117.2,112.1 117.3,112.2 117.4,112.3 117.6,112.3 117.9,112.4 118.1,112.4 118.3,112.5 118.4,112.5 118.6,112.5 118.8,112.5 119.1,112.6 119.3,112.6 119.3,112.6 119.5,112.6 119.8,112.6 120.0,112.6 120.2,112.6 120.3,112.6 120.5,112.6 120.7,112.6 121.3,112.7 122.3,112.7 123.3,112.7 124.3,112.7 125.3,112.7 126.3,112.7 127.3,112.7 128.3,112.7 129.3,112.7 130.3,112.7 131.3,112.7 132.3,112.7 133.3,112.7 134.3,112.7 135.2,112.7 135.3,112.7 135.5,112.7 135.7,112.7 136.0,112.7 136.3,112.7 136.3,112.7 136.5,112.7 136.8,112.6 137.1,112.6 137.3,112.6 137.3,112.6 137.6,112.6 137.8,112.6 138.1,112.6 138.3,112.5 138.4,112.5 138.6,112.5 138.9,112.4 139.2,112.3 139.3,112.3 139.4,112.2 139.7,112.1 140.0,111.9 140.2,111.6 140.3,111.5 140.5,111.3 140.7,110.9 141.0,110.5 141.3,110.1 141.3,110.1 141.5,109.9 141.8,109.8 142.1,109.9 142.3,110.1 142.3,110.1 142.6,110.5 142.9,110.9 143.1,111.3 143.3,111.5 143.4,111.6 143.7,111.9 143.9,112.1 144.2,112.2 144.3,112.3 144.4,112.3 144.7,112.4 145.0,112.5 145.2,112.5 145.3,112.5 145.5,112.6 145.8,112.6 146.0,112.6 146.3,112.6 146.3,112.6 146.6,112.6 146.8,112.7 147.1,112.7 147.3,112.7 147.3,112.7 147.6,112.7 147.9,112.7 148.1,112.7 148.3,112.7 148.4,112.7 149.3,112.7 150.3,112.7 151.3,112.7 152.3,112.7 153.3,112.7 154.3,112.7 155.3,112.7 156.3,112.7 157.3,112.7 157.5,112.7 157.8,112.7 158.0,112.7 158.3,112.7 158.3,112.7 158.5,112.7 158.8,112.7 159.1,112.7 159.3,112.7 159.3,112.7 159.6,112.7 159.9,112.6 160.1,112.6 160.3,112.6 160.4,112.6 160.7,112.6 160.9,112.5 161.2,112.5 161.3,112.5 161.4,112.4 161.7,112.4 162.0,112.3 162.2,112.1 162.3,112.1 162.5,111.9 162.8,111.7 163.0,111.5 163.3,111.2 163.3,111.2 163.6,111.0 163.8,110.8 164.1,110.7 164.3,110.8 164.3,110.8 164.6,111.0 164.9,111.2 165.1,111.5 165.3,111.6 165.4,111.7 165.7,111.9 165.7,111.9 165.9,112.1 166.0,112.1 166.2,112.2 166.2,112.2 166.3,112.3 166.5,112.3 166.5,112.3 166.7,112.4 166.8,112.4 167.0,112.4 167.0,112.4 167.3,112.4 167.3,112.4 167.3,112.4 167.5,112.4 167.5,112.4 167.8,112.4 167.8,112.4 168.0,112.4 168.1,112.4 168.3,112.4 168.3,112.4 168.3,112.4 168.6,112.4 168.6,112.4 168.8,112.4 168.9,112.4 169.1,112.3 169.1,112.3 169.3,112.3 169.4,112.2 169.4,112.2 169.6,112.1 169.7,112.1 169.9,112.0 169.9,112.0 170.2,111.8 170.2,111.8 170.3,111.6 170.4,111.5 170.4,111.5 170.7,111.2 170.7,111.2 171.0,110.7 171.2,110.2 171.3,110.0 171.5,109.7 171.8,109.2 172.0,108.9 172.3,108.7 172.4,108.8 172.6,108.9 172.8,109.2 173.1,109.7 173.3,110.3 173.4,110.3 173.6,110.8 173.9,111.2 174.1,111.5 174.4,111.8 174.4,111.8 174.7,112.0 174.9,112.2 175.2,112.3 175.4,112.3 175.5,112.4 175.7,112.4 176.0,112.5 176.3,112.5 176.4,112.5 176.5,112.5 176.8,112.6 177.0,112.6 177.3,112.6 177.4,112.6 177.6,112.6 177.8,112.6 178.1,112.6 178.4,112.6 178.4,112.6 178.6,112.7 178.9,112.7 179.4,112.7 180.4,112.7 181.4,112.7 182.4,112.7 183.4,112.7 184.4,112.7 185.4,112.7 186.4,112.7 187.4,112.7 188.4,112.7 189.4,112.7 190.4,112.7 191.4,112.7 192.4,112.6 193.4,112.6 193.8,112.6 194.1,112.6 194.4,112.5 194.4,112.5 194.6,112.5 194.9,112.5 195.2,112.5 195.4,112.5 195.4,112.5 195.7,112.4 196.0,112.4 196.2,112.3 196.4,112.3 196.5,112.3 196.7,112.2 197.0,112.1 197.3,112.0 197.4,112.0 197.5,111.9 197.8,111.6 198.1,111.4 198.3,111.0 198.4,110.9 198.6,110.4 198.9,109.8 199.1,109.0 199.4,108.1 199.4,108.0 199.6,107.1 199.9,106.1 200.2,105.5 200.4,105.2 200.4,105.2 200.7,105.4 201.0,106.1 201.2,107.0 201.4,107.6 201.5,108.0 201.8,108.9 202.0,109.7 202.3,110.4 202.4,110.6 202.5,110.9 202.8,111.2 202.8,111.2 203.0,111.5 203.1,111.5 203.2,111.7 203.3,111.7 203.4,111.7 203.5,111.8 203.6,111.8 203.7,111.9 203.9,111.9 204.0,112.0 204.1,112.0 204.2,112.0 204.4,112.0 204.4,112.0 204.4,112.0 204.7,112.0 204.9,112.0 204.9,112.0 205.1,112.0 205.2,112.0 205.4,112.0 205.4,112.0 205.4,112.0 205.6,111.9 205.7,111.9 205.8,111.8 206.0,111.8 206.1,111.7 206.2,111.6 206.3,111.5 206.4,111.5 206.5,111.3 206.5,111.3 206.8,110.9 207.0,110.5 207.0,110.4 207.2,109.9 207.4,109.4 207.5,109.1 207.7,108.3 207.9,107.4 208.2,106.5 208.4,105.9 208.4,105.9 208.6,105.7 208.9,105.9 209.1,106.5 209.3,107.4 209.4,107.5 209.6,108.3 209.8,109.2 210.1,109.9 210.3,110.5 210.4,110.8 210.5,111.0 210.8,111.4 210.8,111.5 211.0,111.7 211.1,111.8 211.2,111.9 211.4,112.0 211.4,112.0 211.5,112.0 211.6,112.1 211.7,112.1 211.9,112.2 211.9,112.2 212.2,112.2 212.4,112.3 212.4,112.3 212.4,112.3 212.6,112.3 212.7,112.3 212.9,112.3 213.0,112.4 213.1,112.4 213.2,112.4 213.3,112.4 213.4,112.4 213.5,112.4 213.6,112.4 213.7,112.4 213.8,112.4 214.0,112.4 214.0,112.4 214.3,112.4 214.4,112.4 214.5,112.4 214.5,112.4 214.8,112.3 215.1,112.3 215.3,112.2 215.4,112.1 215.6,112.0 215.9,111.9 216.1,111.7 216.4,111.4 216.4,111.4 216.6,111.2 216.9,110.9 217.2,110.8 217.4,110.7 217.4,110.7 217.7,110.8 218.0,111.0 218.2,111.2 218.4,111.4 218.5,111.5 218.8,111.7 219.0,111.9 219.3,112.1 219.4,112.2 219.5,112.3 219.8,112.4 220.1,112.4 220.3,112.5 220.4,112.5 220.6,112.5 220.9,112.6 221.1,112.6 221.4,112.6 221.4,112.6 221.7,112.6 221.9,112.6 222.2,112.7 222.4,112.7 222.5,112.7 222.7,112.7 223.0,112.7 223.2,112.7 223.4,112.7 223.5,112.7 223.8,112.7 224.0,112.7 224.4,112.7 225.4,112.7 226.4,112.7 227.4,112.7" stroke="#ff2a2a" stroke-width="1.3" fill="none" stroke-linejoin="round" clip-path="url(#ca)"/>
<path d="M22.2,144.6 23.2,144.6 24.2,144.6 25.2,144.6 26.2,144.6 27.2,144.6 28.2,144.6 29.2,144.6 30.2,144.6 31.2,144.6 32.2,144.6 33.2,144.6 34.2,144.6 35.2,144.6 36.2,144.6 37.2,144.6 38.2,144.6 39.2,144.6 40.2,144.6 41.2,144.6 42.2,144.6 43.2,144.6 44.2,144.6 45.2,144.6 46.2,144.6 47.2,144.6 48.2,144.5 49.2,144.5 50.2,144.5 51.2,144.5 52.2,144.5 53.2,144.5 54.2,144.5 55.2,144.5 56.2,144.5 57.2,144.4 58.2,144.4 59.2,144.3 60.0,144.2 60.1,144.1 60.2,144.1 60.3,144.1 60.4,144.1 60.5,144.0 60.7,144.0 60.8,143.9 60.9,143.9 61.0,143.8 61.2,143.7 61.2,143.7 61.3,143.6 61.4,143.5 61.6,143.3 61.7,143.1 61.8,142.8 62.0,142.4 62.1,141.9 62.2,141.1 62.2,140.9 62.3,140.2 62.5,138.9 62.6,137.4 62.7,135.7 62.9,133.9 63.0,132.2 63.1,130.9 63.2,130.4 63.4,130.9 63.5,132.2 63.6,133.9 63.8,135.7 63.9,137.4 64.0,138.4 64.0,138.9 64.1,140.1 64.2,140.4 64.2,140.8 64.3,141.1 64.4,141.7 64.4,141.8 64.5,142.3 64.6,142.5 64.7,142.7 64.8,143.0 64.8,143.0 64.9,143.2 65.0,143.3 65.0,143.3 65.2,143.4 65.2,143.4 65.2,143.5 65.3,143.5 65.4,143.6 65.4,143.6 65.6,143.6 65.6,143.6 65.7,143.7 65.8,143.7 65.9,143.7 66.0,143.7 66.1,143.7 66.2,143.7 66.2,143.7 66.2,143.7 66.3,143.7 66.4,143.7 66.5,143.7 66.6,143.6 66.8,143.5 67.1,143.4 67.2,143.2 67.3,143.2 67.5,142.9 67.7,142.5 67.9,142.0 68.1,141.3 68.2,140.7 68.3,140.6 68.5,139.8 68.7,139.1 68.9,138.6 69.1,138.4 69.2,138.5 69.3,138.6 69.5,139.1 69.7,139.8 69.9,140.6 70.1,141.4 70.2,141.7 70.3,142.0 70.5,142.5 70.7,142.9 71.0,143.2 71.2,143.5 71.2,143.6 71.4,143.6 71.6,143.8 71.8,143.8 72.0,143.9 72.2,143.9 72.3,144.0 72.4,144.0 72.6,144.0 72.8,144.0 73.0,144.0 73.2,144.0 73.3,144.0 73.4,144.0 73.6,144.0 73.8,144.0 74.0,144.0 74.2,144.0 74.3,144.0 75.3,143.9 76.3,143.7 76.7,143.5 76.9,143.4 77.0,143.4 77.1,143.3 77.2,143.2 77.3,143.2 77.4,143.1 77.5,142.9 77.6,142.8 77.8,142.6 77.9,142.4 78.0,142.1 78.1,141.8 78.3,141.4 78.3,141.4 78.4,140.8 78.5,140.1 78.7,139.1 78.8,137.7 78.9,135.8 79.0,133.3 79.2,130.1 79.3,127.8 79.3,126.3 79.4,121.8 79.6,117.1 79.7,112.7 79.8,109.5 80.0,108.2 80.1,109.4 80.2,112.7 80.3,114.3 80.3,117.1 80.5,121.8 80.6,126.2 80.7,130.0 80.9,133.2 81.0,135.6 81.1,137.5 81.2,138.9 81.3,139.1 81.4,139.9 81.5,140.6 81.6,141.2 81.8,141.6 81.9,141.9 82.0,142.1 82.1,142.3 82.3,142.4 82.3,142.4 82.4,142.6 82.5,142.7 82.7,142.8 82.8,142.8 82.9,142.9 83.0,142.9 83.2,143.0 83.3,143.0 84.3,143.0 85.3,142.5 86.1,141.6 86.2,141.4 86.3,141.4 86.4,141.2 86.5,140.9 86.6,140.6 86.8,140.3 86.9,139.8 87.0,139.4 87.1,138.8 87.3,138.1 87.3,138.1 87.4,137.3 87.5,136.3 87.7,135.0 87.8,133.2 87.9,130.8 88.0,127.5 88.2,122.9 88.3,118.6 88.3,116.8 88.4,108.7 88.6,98.4 88.7,86.0 88.8,71.6 88.9,56.4 89.1,42.1 89.2,31.5 89.3,28.5 89.3,27.5 89.5,31.5 89.6,42.1 89.7,56.4 89.8,71.7 90.0,86.0 90.1,98.5 90.2,108.8 90.3,111.1 90.4,116.8 90.5,123.0 90.6,127.5 90.8,130.9 90.9,133.3 91.0,135.0 91.1,136.4 91.3,137.4 91.3,137.4 91.4,138.2 91.5,138.9 91.7,139.5 91.8,140.0 91.9,140.4 92.0,140.8 92.2,141.1 92.3,141.3 92.3,141.4 92.4,141.6 92.6,141.8 93.3,142.7 94.3,143.4 95.3,143.7 96.3,144.0 97.3,144.1 98.3,144.2 99.3,144.3 100.3,144.3 101.3,144.4 102.3,144.4 103.3,144.4 104.3,144.4 105.3,144.5 106.3,144.5 107.3,144.5 108.3,144.5 109.3,144.5 110.3,144.5 111.3,144.5 112.3,144.5 113.3,144.5 114.3,144.5 115.3,144.5 116.3,144.5 117.3,144.5 118.3,144.6 119.3,144.6 120.3,144.6 121.3,144.6 122.3,144.6 123.3,144.6 124.3,144.6 125.3,144.6 126.3,144.6 127.3,144.6 128.3,144.6 129.3,144.6 130.3,144.6 131.3,144.6 132.3,144.6 133.3,144.6 134.3,144.6 135.3,144.6 136.3,144.6 137.3,144.6 138.3,144.6 139.3,144.6 140.3,144.6 141.3,144.6 142.3,144.6 143.3,144.6 144.3,144.5 145.3,144.5 146.3,144.5 147.3,144.5 148.3,144.5 149.3,144.5 150.3,144.4 151.3,144.4 152.3,144.3 153.1,144.2 153.2,144.1 153.3,144.1 153.4,144.1 153.5,144.1 153.7,144.0 153.8,144.0 154.0,143.9 154.1,143.8 154.3,143.7 154.3,143.7 154.4,143.6 154.6,143.5 154.7,143.3 154.9,143.1 155.0,142.9 155.1,142.5 155.3,142.0 155.3,141.8 155.4,141.3 155.6,140.3 155.7,139.1 155.9,137.5 156.0,135.6 156.2,133.4 156.3,131.0 156.3,130.8 156.5,128.8 156.6,127.2 156.8,126.6 156.9,127.2 157.0,128.8 157.2,131.0 157.3,133.3 157.3,133.4 157.5,135.6 157.6,137.5 157.8,139.1 157.9,140.3 158.1,141.3 158.2,142.0 158.3,142.4 158.4,142.5 158.5,142.9 158.7,143.1 158.8,143.3 159.0,143.5 159.1,143.6 159.2,143.7 159.3,143.8 159.4,143.8 159.5,143.9 159.7,144.0 159.8,144.0 160.0,144.1 160.1,144.1 160.3,144.1 160.3,144.2 160.4,144.2 161.3,144.3 162.3,144.4 163.3,144.5 164.3,144.5 165.3,144.5 166.3,144.5 167.3,144.5 168.3,144.5 169.3,144.6 170.3,144.6 171.3,144.6 172.4,144.6 173.4,144.6 174.4,144.6 175.4,144.6 176.4,144.6 177.4,144.6 178.4,144.6 179.4,144.6 180.4,144.6 181.4,144.6 182.4,144.6 183.4,144.6 184.4,144.6 185.4,144.6 186.4,144.6 187.4,144.6 188.4,144.6 189.4,144.6 190.4,144.6 191.4,144.6 192.4,144.6 193.4,144.6 194.4,144.6 195.4,144.6 196.4,144.6 197.4,144.6 198.4,144.5 199.4,144.5 200.4,144.5 201.4,144.5 202.4,144.5 203.4,144.5 204.4,144.4 205.4,144.3 206.2,144.2 206.3,144.1 206.4,144.1 206.4,144.1 206.6,144.1 206.7,144.0 206.9,144.0 207.0,143.9 207.2,143.8 207.3,143.7 207.4,143.7 207.5,143.6 207.6,143.5 207.8,143.3 207.9,143.1 208.1,142.9 208.2,142.5 208.4,142.0 208.4,141.8 208.5,141.3 208.6,140.3 208.8,139.1 208.9,137.5 209.1,135.6 209.2,133.4 209.4,131.0 209.4,130.9 209.5,128.8 209.7,127.2 209.8,126.6 210.0,127.2 210.1,128.8 210.3,131.0 210.4,133.2 210.4,133.4 210.5,135.6 210.7,137.5 210.8,139.1 211.0,140.3 211.1,141.3 211.3,142.0 211.4,142.4 211.4,142.5 211.6,142.9 211.7,143.1 211.9,143.3 212.0,143.5 212.2,143.6 212.3,143.7 212.4,143.8 212.5,143.8 212.6,143.9 212.7,144.0 212.9,144.0 213.0,144.1 213.2,144.1 213.3,144.1 213.4,144.2 213.5,144.2 214.4,144.3 215.4,144.4 216.4,144.5 217.4,144.5 218.4,144.5 219.4,144.5 220.4,144.5 221.4,144.6 222.4,144.6 223.4,144.6 224.4,144.6 225.4,144.6 226.4,144.6 227.4,144.6" stroke="#22a198" stroke-width="1.3" fill="none" stroke-linejoin="round" clip-path="url(#ca)"/>
<text x="122" y="18.43" font-size="9.5" text-anchor="middle" fill="#111">*</text>
<text x="126.4" y="16.5" font-size="7.5" fill="#111">ZrN</text>
<text x="121" y="25.88" font-size="7.5" text-anchor="middle" fill="#111">&amp;</text>
<text x="126.4" y="26.2" font-size="7.5" fill="#111">m-ZrO<tspan font-size="5.2" dy="2">2</tspan></text>
<text x="121" y="36.67" font-size="6.5" text-anchor="middle" fill="#111">♣</text>
<text x="126.4" y="37.3" font-size="7.5" fill="#111">t-ZrO<tspan font-size="5.2" dy="2">2</tspan></text>
<path d="M121.7,42.76 L123.25,44.7 L121.7,46.64 L120.15,44.7Z" fill="#111"/>
<text x="126.4" y="47.4" font-size="7.5" fill="#111">Zr</text>
<line x1="183.8" y1="12.5" x2="200.5" y2="12.5" stroke="#2424ff" stroke-width="1.4"/>
<text x="0" y="0" font-size="8.1" transform="translate(202.3 15.3) scale(0.87 1)" fill="#111">S-3</text>
<line x1="183.8" y1="22" x2="200.5" y2="22" stroke="#ff2a2a" stroke-width="1.4"/>
<text x="0" y="0" font-size="8.1" transform="translate(202.3 24.8) scale(0.87 1)" fill="#111">S-2</text>
<line x1="183.8" y1="30.7" x2="200.5" y2="30.7" stroke="#1e1e1e" stroke-width="1.4"/>
<text x="0" y="0" font-size="8.1" transform="translate(202.3 33.5) scale(0.87 1)" fill="#111">S-1</text>
<line x1="183.8" y1="40.2" x2="200.5" y2="40.2" stroke="#22a198" stroke-width="1.4"/>
<text x="0" y="0" font-size="8.1" transform="translate(202.3 43) scale(0.87 1)" fill="#111">blank</text>
<text x="41.2" y="25.81" font-size="7" text-anchor="middle" fill="#111">&amp;</text>
<text x="51.45" y="25.8" font-size="6.6" text-anchor="middle" font-weight="bold" fill="#111">(111)</text>
<line x1="46.6" y1="20.3" x2="49" y2="20.3" stroke="#222" stroke-width="0.6"/>
<text x="91.18" y="13.1" font-size="6.6" text-anchor="middle" font-weight="bold" transform="rotate(-90 91.18 13.1)" fill="#111">(101)</text>
<path d="M89.3,20.99 L90.75,22.8 L89.3,24.61 L87.85,22.8Z" fill="#111"/>
<text x="52.6" y="89.9" font-size="6" text-anchor="middle" fill="#111">♣</text>
<text x="60.8" y="90.27" font-size="7.5" text-anchor="middle" fill="#111">&amp;</text>
<text x="81.5" y="92.67" font-size="7.5" text-anchor="middle" fill="#111">&amp;</text>
<text x="83.2" y="101" font-size="5.2" text-anchor="middle" font-weight="bold" fill="#111">(002)</text>
<circle cx="79.9" cy="103.4" r="1.2" fill="#111"/>
<text x="62.45" y="118.1" font-size="5.8" text-anchor="middle" font-weight="bold" fill="#111">(100)</text>
<circle cx="62.7" cy="120.4" r="1.2" fill="#111"/>
<text x="109.18" y="79.1" font-size="6.6" text-anchor="middle" font-weight="bold" transform="rotate(-90 109.18 79.1)" fill="#111">(200)</text>
<circle cx="106.5" cy="89.9" r="0.8" fill="#111"/>
<text x="114.5" y="90.47" font-size="7.5" text-anchor="middle" fill="#111">&amp;</text>
<text x="141.6" y="87.38" font-size="7.5" text-anchor="middle" fill="#111">&amp;</text>
<text x="162.8" y="87.38" font-size="7.5" text-anchor="middle" fill="#111">&amp;</text>
<text x="171.8" y="84.47" font-size="7.5" text-anchor="middle" fill="#111">&amp;</text>
<text x="200.1" y="80.27" font-size="7.5" text-anchor="middle" fill="#111">&amp;</text>
<text x="217" y="92.97" font-size="7.5" text-anchor="middle" fill="#111">&amp;</text>
<circle cx="155.7" cy="122.7" r="1.3" fill="#111"/>
<path d="M209.4,125.86 L210.95,127.8 L209.4,129.74 L207.85,127.8Z" fill="#111"/>
<rect x="266.6" y="3.5" width="204.7" height="151" stroke="#6a6a6a" stroke-width="1.45" fill="none"/>
<line x1="266.6" y1="154.5" x2="471.3" y2="154.5" stroke="#444" stroke-width="1.2"/>
<line x1="266.6" y1="154.5" x2="266.6" y2="157.3" stroke="#444" stroke-width="1.1"/>
<text x="266.6" y="167.6" font-size="9.4" text-anchor="middle" fill="#111">25</text>
<line x1="295.85" y1="154.5" x2="295.85" y2="157.3" stroke="#444" stroke-width="1.1"/>
<text x="295.85" y="167.6" font-size="9.4" text-anchor="middle" fill="#111">30</text>
<line x1="325.1" y1="154.5" x2="325.1" y2="157.3" stroke="#444" stroke-width="1.1"/>
<text x="325.1" y="167.6" font-size="9.4" text-anchor="middle" fill="#111">35</text>
<line x1="354.35" y1="154.5" x2="354.35" y2="157.3" stroke="#444" stroke-width="1.1"/>
<text x="354.35" y="167.6" font-size="9.4" text-anchor="middle" fill="#111">40</text>
<line x1="383.6" y1="154.5" x2="383.6" y2="157.3" stroke="#444" stroke-width="1.1"/>
<text x="383.6" y="167.6" font-size="9.4" text-anchor="middle" fill="#111">45</text>
<line x1="412.85" y1="154.5" x2="412.85" y2="157.3" stroke="#444" stroke-width="1.1"/>
<text x="412.85" y="167.6" font-size="9.4" text-anchor="middle" fill="#111">50</text>
<line x1="442.1" y1="154.5" x2="442.1" y2="157.3" stroke="#444" stroke-width="1.1"/>
<text x="442.1" y="167.6" font-size="9.4" text-anchor="middle" fill="#111">55</text>
<line x1="471.35" y1="154.5" x2="471.35" y2="157.3" stroke="#444" stroke-width="1.1"/>
<text x="471.35" y="167.6" font-size="9.4" text-anchor="middle" fill="#111">60</text>
<line x1="281.23" y1="154.5" x2="281.23" y2="156.1" stroke="#444" stroke-width="1"/>
<line x1="310.48" y1="154.5" x2="310.48" y2="156.1" stroke="#444" stroke-width="1"/>
<line x1="339.73" y1="154.5" x2="339.73" y2="156.1" stroke="#444" stroke-width="1"/>
<line x1="368.98" y1="154.5" x2="368.98" y2="156.1" stroke="#444" stroke-width="1"/>
<line x1="398.23" y1="154.5" x2="398.23" y2="156.1" stroke="#444" stroke-width="1"/>
<line x1="427.48" y1="154.5" x2="427.48" y2="156.1" stroke="#444" stroke-width="1"/>
<line x1="456.73" y1="154.5" x2="456.73" y2="156.1" stroke="#444" stroke-width="1"/>
<text x="369.7" y="178.4" font-size="11.3" text-anchor="middle" fill="#111">2θ (°)</text>
<text x="260" y="64.3" font-size="12.8" text-anchor="middle" transform="rotate(-90 260 64.3)" fill="#111">Intensity (a.u.)</text>
<text x="269.4" y="14.6" font-size="12.3" fill="#111">(b)</text>
<text x="287.6" y="14.6" font-size="11.1" fill="#111">0.6 A</text>
<path d="M266.6,141.2 267.6,141.2 268.6,141.2 269.6,141.2 270.6,141.2 271.6,141.2 272.6,141.2 273.6,141.2 274.6,141.2 275.6,141.1 276.6,141.1 277.6,141.1 278.6,141.1 278.7,141.1 279.0,141.1 279.3,141.1 279.5,141.1 279.6,141.1 279.8,141.1 280.1,141.1 280.3,141.1 280.6,141.1 280.7,141.1 280.8,141.1 281.1,141.0 281.4,141.0 281.6,141.0 281.7,141.0 281.9,141.0 282.2,141.0 282.4,140.9 282.7,140.9 282.7,140.9 283.0,140.8 283.2,140.7 283.5,140.5 283.7,140.4 283.7,140.3 284.0,140.1 284.3,139.9 284.5,139.6 284.7,139.5 284.8,139.4 285.1,139.2 285.3,139.1 285.6,139.2 285.7,139.2 285.8,139.4 286.1,139.6 286.4,139.9 286.6,140.1 286.7,140.1 286.9,140.3 287.2,140.5 287.4,140.6 287.7,140.7 287.7,140.7 288.0,140.8 288.2,140.8 288.5,140.9 288.7,140.9 288.7,140.9 289.0,140.9 289.3,140.9 289.5,140.9 289.7,140.9 289.8,140.9 290.1,140.9 290.3,140.9 290.6,140.9 290.7,140.9 290.8,140.9 291.1,140.9 291.4,140.9 291.6,140.9 291.7,140.9 291.9,140.9 292.7,140.8 293.2,140.7 293.4,140.7 293.6,140.6 293.7,140.6 293.7,140.6 293.9,140.5 294.1,140.5 294.3,140.4 294.4,140.3 294.6,140.2 294.7,140.2 294.8,140.1 295.0,140.0 295.1,139.8 295.3,139.6 295.5,139.4 295.7,139.0 295.7,138.9 295.9,138.5 296.0,137.7 296.2,136.8 296.4,135.5 296.6,133.9 296.7,132.1 296.7,131.9 296.9,129.6 297.1,127.2 297.3,124.9 297.4,123.3 297.6,122.6 297.7,122.9 297.8,123.3 298.0,124.9 298.1,127.2 298.3,129.6 298.5,131.9 298.7,133.8 298.7,134.4 298.8,135.5 299.0,136.7 299.2,137.7 299.4,138.4 299.5,138.9 299.7,139.3 299.7,139.3 299.9,139.6 300.1,139.8 300.2,140.0 300.4,140.1 300.6,140.2 300.7,140.3 300.8,140.3 300.9,140.4 301.1,140.4 301.3,140.5 301.5,140.5 301.6,140.6 301.7,140.6 301.8,140.6 302.0,140.6 302.7,140.7 303.3,140.7 303.5,140.7 303.6,140.7 303.7,140.7 303.7,140.7 303.9,140.7 304.0,140.6 304.2,140.6 304.3,140.6 304.5,140.6 304.6,140.5 304.7,140.5 304.8,140.5 304.9,140.4 305.1,140.3 305.2,140.2 305.4,140.0 305.5,139.8 305.6,139.4 305.7,139.2 305.8,139.0 305.9,138.4 306.1,137.7 306.2,136.8 306.4,135.7 306.5,134.6 306.7,133.6 306.7,133.2 306.8,132.8 307.0,132.5 307.1,132.8 307.3,133.6 307.4,134.6 307.6,135.7 307.7,136.8 307.8,137.1 307.8,137.7 308.0,138.4 308.1,139.0 308.3,139.5 308.4,139.8 308.6,140.1 308.7,140.2 308.8,140.3 308.9,140.4 309.0,140.5 309.2,140.5 309.3,140.6 309.5,140.6 309.6,140.7 309.7,140.7 309.8,140.7 309.9,140.7 310.0,140.8 310.2,140.8 310.3,140.8 310.5,140.8 310.6,140.8 310.8,140.9 311.8,140.9 312.8,140.9 313.8,140.9 314.3,140.9 314.5,140.8 314.6,140.8 314.8,140.8 314.8,140.8 315.0,140.8 315.2,140.8 315.3,140.7 315.5,140.7 315.7,140.7 315.8,140.7 315.9,140.6 316.0,140.6 316.2,140.5 316.4,140.4 316.6,140.3 316.7,140.2 316.8,140.1 316.9,139.9 317.1,139.6 317.3,139.3 317.4,138.7 317.6,138.1 317.8,137.3 318.0,136.3 318.1,135.4 318.3,134.4 318.5,133.8 318.7,133.5 318.8,133.6 318.8,133.8 319.0,134.4 319.2,135.3 319.4,136.3 319.5,137.2 319.7,138.0 319.8,138.3 319.9,138.7 320.1,139.2 320.2,139.6 320.4,139.9 320.6,140.1 320.8,140.2 320.8,140.2 320.9,140.3 321.1,140.4 321.3,140.4 321.5,140.5 321.6,140.5 321.6,140.5 321.8,140.5 321.8,140.5 321.8,140.5 321.9,140.5 322.0,140.5 322.1,140.5 322.2,140.5 322.3,140.5 322.4,140.5 322.5,140.5 322.5,140.5 322.6,140.5 322.7,140.5 322.8,140.5 322.8,140.5 322.9,140.5 323.0,140.5 323.1,140.5 323.2,140.5 323.3,140.4 323.5,140.4 323.7,140.3 323.8,140.2 323.9,140.2 324.0,140.0 324.2,139.9 324.4,139.6 324.6,139.3 324.7,138.8 324.8,138.6 324.9,138.2 325.1,137.5 325.3,136.7 325.5,135.9 325.6,135.1 325.8,134.4 325.8,134.4 326.0,134.2 326.2,134.4 326.3,135.0 326.5,135.8 326.7,136.6 326.8,137.2 326.9,137.4 327.0,138.0 327.2,138.6 327.4,139.0 327.6,139.3 327.7,139.5 327.8,139.6 327.9,139.6 328.1,139.7 328.3,139.7 328.4,139.8 328.6,139.7 328.8,139.7 328.8,139.7 329.0,139.6 329.1,139.6 329.3,139.5 329.5,139.4 329.7,139.2 329.8,139.1 329.8,139.1 329.8,139.0 329.9,139.0 330.0,138.8 330.0,138.8 330.2,138.6 330.2,138.6 330.3,138.4 330.4,138.3 330.4,138.2 330.6,137.9 330.7,137.6 330.8,137.2 330.8,137.1 330.9,136.7 331.1,136.2 331.2,135.5 331.3,134.6 331.5,133.4 331.6,131.7 331.7,129.5 331.8,126.4 332.0,122.2 332.1,116.6 332.2,109.6 332.4,101.1 332.5,91.3 332.6,80.9 332.7,71.1 332.8,65.0 332.9,63.8 333.0,61.1 333.1,63.8 333.3,71.1 333.4,80.9 333.5,91.3 333.6,101.1 333.8,109.6 333.8,114.0 333.9,116.7 334.0,122.2 334.2,126.4 334.3,129.5 334.4,131.8 334.5,133.4 334.7,134.6 334.8,135.6 334.9,135.9 334.9,136.3 335.1,136.8 335.2,137.3 335.3,137.7 335.4,138.0 335.6,138.3 335.7,138.6 335.8,138.8 335.9,138.8 336.0,139.0 336.1,139.1 336.2,139.3 336.9,139.8 337.9,140.3 338.9,140.6 339.9,140.7 340.9,140.8 341.9,140.9 342.9,140.9 343.9,140.9 344.9,141.0 345.9,140.9 345.9,140.9 346.0,140.9 346.2,140.9 346.4,140.9 346.6,140.9 346.7,140.9 346.9,140.9 346.9,140.9 347.1,140.8 347.3,140.8 347.4,140.8 347.6,140.8 347.8,140.7 347.9,140.7 348.0,140.6 348.1,140.6 348.3,140.5 348.5,140.3 348.7,140.1 348.9,139.8 348.9,139.7 349.0,139.4 349.2,138.9 349.4,138.4 349.6,137.7 349.7,137.0 349.9,136.3 349.9,136.3 350.1,135.8 350.3,135.6 350.4,135.8 350.6,136.3 350.8,137.0 350.9,137.5 351.0,137.7 351.1,138.4 351.3,139.0 351.5,139.4 351.7,139.8 351.8,140.1 351.9,140.2 352.0,140.3 352.2,140.5 352.4,140.6 352.5,140.7 352.7,140.7 352.9,140.8 352.9,140.8 353.1,140.8 353.2,140.9 353.4,140.9 353.6,140.9 353.8,140.9 353.9,141.0 353.9,141.0 354.1,141.0 354.3,141.0 354.5,141.0 354.6,141.0 354.9,141.0 355.9,141.1 356.9,141.1 357.9,141.1 358.9,141.1 359.9,141.1 360.9,141.1 361.9,141.1 363.0,141.1 364.0,141.2 365.0,141.2 366.0,141.2 367.0,141.2 368.0,141.2 369.0,141.2 370.0,141.2 371.0,141.2 372.0,141.2 373.0,141.2 374.0,141.2 375.0,141.2 376.0,141.2 377.0,141.2 378.0,141.2 379.0,141.2 380.0,141.2 381.0,141.2 382.0,141.2 383.0,141.2 384.0,141.2 385.0,141.2 386.0,141.1 387.0,141.1 388.0,141.1 389.0,141.1 390.1,141.1 391.1,141.1 392.1,141.1 393.1,141.0 394.1,141.0 395.1,140.8 395.9,140.7 396.0,140.6 396.1,140.6 396.1,140.6 396.3,140.5 396.4,140.4 396.5,140.4 396.7,140.3 396.8,140.2 396.9,140.1 397.0,140.0 397.1,139.9 397.2,139.8 397.3,139.6 397.4,139.3 397.6,139.0 397.7,138.5 397.8,137.9 397.9,137.0 398.1,135.9 398.1,135.8 398.2,134.3 398.3,132.3 398.5,129.9 398.6,127.2 398.7,124.2 398.8,121.5 399.0,119.4 399.1,118.7 399.1,118.7 399.2,119.4 399.4,121.5 399.5,124.2 399.6,127.2 399.7,129.9 399.9,132.3 400.0,134.3 400.1,135.4 400.1,135.8 400.3,137.0 400.4,137.9 400.5,138.5 400.6,139.0 400.8,139.3 400.9,139.6 401.0,139.8 401.1,139.9 401.2,140.0 401.3,140.1 401.4,140.2 401.5,140.3 401.7,140.4 401.8,140.4 401.9,140.5 402.1,140.5 402.1,140.6 402.2,140.6 402.3,140.6 403.1,140.8 404.1,140.9 405.1,141.0 406.1,141.0 407.1,141.0 408.1,141.0 409.1,141.0 410.1,141.0 410.5,141.0 410.7,141.0 411.0,140.9 411.1,140.9 411.2,140.9 411.4,140.9 411.7,140.9 411.9,140.9 412.1,140.8 412.1,140.8 412.4,140.8 412.6,140.7 412.9,140.7 413.1,140.6 413.1,140.6 413.3,140.5 413.6,140.4 413.8,140.3 414.0,140.0 414.1,139.9 414.3,139.7 414.5,139.3 414.7,138.8 415.0,138.1 415.1,137.5 415.2,137.3 415.4,136.4 415.7,135.4 415.9,134.4 416.1,133.7 416.1,133.7 416.4,133.5 416.6,133.7 416.8,134.4 417.1,135.4 417.2,135.8 417.3,136.4 417.5,137.3 417.8,138.1 418.0,138.8 418.2,139.2 418.2,139.4 418.5,139.8 418.7,140.1 418.9,140.3 419.2,140.4 419.2,140.4 419.4,140.6 419.6,140.6 419.9,140.7 420.1,140.8 420.2,140.8 420.3,140.8 420.6,140.8 420.8,140.9 421.0,140.9 421.2,140.9 421.3,140.9 421.5,141.0 421.7,141.0 422.0,141.0 422.2,141.0 422.2,141.0 423.2,141.0 424.2,141.1 425.2,141.1 426.2,141.1 427.2,141.1 428.2,141.1 429.2,141.1 430.2,141.1 431.2,141.1 432.2,141.1 433.2,141.2 434.2,141.2 435.2,141.2 436.2,141.1 437.2,141.1 438.2,141.1 439.2,141.1 440.2,141.1 441.2,141.1 442.2,141.1 443.2,141.1 444.3,141.1 445.3,141.0 446.3,141.0 447.3,140.9 448.3,140.8 449.1,140.5 449.2,140.5 449.3,140.5 449.4,140.4 449.5,140.4 449.6,140.3 449.8,140.2 449.9,140.1 450.0,140.0 450.1,139.8 450.3,139.7 450.3,139.7 450.4,139.5 450.5,139.2 450.7,138.9 450.8,138.5 450.9,137.9 451.1,137.1 451.2,136.0 451.3,135.0 451.3,134.6 451.4,132.6 451.6,130.2 451.7,127.2 451.8,123.8 452.0,120.1 452.1,116.7 452.2,114.1 452.3,113.4 452.3,113.2 452.5,114.1 452.6,116.7 452.7,120.1 452.9,123.8 453.0,127.2 453.1,130.2 453.2,132.6 453.3,133.4 453.4,134.6 453.5,136.0 453.6,137.1 453.8,137.9 453.9,138.5 454.0,138.9 454.1,139.2 454.3,139.5 454.3,139.5 454.4,139.7 454.5,139.9 454.7,140.0 454.8,140.1 454.9,140.2 455.0,140.3 455.2,140.4 455.3,140.4 455.3,140.4 455.4,140.5 455.6,140.5 456.3,140.8 457.3,140.9 458.3,141.0 459.3,141.1 460.3,141.1 461.3,141.1 462.3,141.1 463.3,141.1 464.3,141.1 465.3,141.2 466.3,141.2 467.3,141.2 468.3,141.2 469.3,141.2 470.3,141.2 471.4,141.2" stroke="#1e1e1e" stroke-width="1.3" fill="none" stroke-linejoin="round" clip-path="url(#cb)"/>
<path d="M266.6,130.8 267.6,130.8 268.6,130.8 269.6,130.8 270.6,130.8 271.6,130.8 272.6,130.8 273.6,130.8 274.6,130.8 275.6,130.8 276.6,130.8 277.6,130.8 278.6,130.8 279.6,130.8 280.7,130.8 281.7,130.8 282.7,130.8 283.7,130.8 284.7,130.8 285.7,130.8 286.7,130.8 287.7,130.8 288.7,130.7 289.7,130.7 290.7,130.7 291.7,130.7 292.7,130.7 293.7,130.7 294.7,130.7 295.7,130.7 296.7,130.6 297.7,130.6 298.7,130.5 299.7,130.4 300.7,130.1 301.1,130.0 301.2,129.9 301.4,129.9 301.5,129.8 301.6,129.7 301.7,129.6 301.8,129.6 301.9,129.5 302.0,129.3 302.1,129.2 302.3,129.0 302.4,128.7 302.5,128.4 302.7,128.0 302.7,127.8 302.8,127.5 302.9,126.8 303.0,125.9 303.2,124.6 303.3,122.8 303.4,120.5 303.6,117.6 303.7,114.0 303.7,112.6 303.8,109.9 303.9,105.5 304.1,101.4 304.2,98.4 304.3,97.2 304.5,98.4 304.6,101.4 304.7,105.5 304.7,106.2 304.8,109.9 305.0,114.0 305.1,117.6 305.2,120.5 305.4,122.8 305.5,124.6 305.6,125.9 305.7,126.8 305.7,126.8 305.9,127.5 306.0,128.0 306.1,128.4 306.3,128.7 306.4,128.9 306.5,129.1 306.6,129.3 306.7,129.4 306.8,129.4 306.9,129.5 307.0,129.6 307.2,129.7 307.3,129.8 307.4,129.9 307.6,129.9 307.8,130.0 308.8,130.3 309.8,130.4 310.8,130.5 311.8,130.5 312.8,130.5 313.8,130.4 314.0,130.4 314.2,130.3 314.3,130.3 314.5,130.3 314.7,130.3 314.8,130.2 314.9,130.2 315.0,130.2 315.2,130.1 315.4,130.1 315.6,130.0 315.7,129.9 315.8,129.9 315.9,129.8 316.1,129.7 316.3,129.5 316.4,129.3 316.6,128.9 316.8,128.5 316.8,128.4 317.0,127.8 317.1,127.0 317.3,125.9 317.5,124.6 317.7,123.2 317.8,122.1 317.8,121.6 318.0,120.1 318.2,119.0 318.4,118.6 318.5,119.0 318.7,120.1 318.8,120.7 318.9,121.6 319.1,123.2 319.2,124.6 319.4,125.9 319.6,127.0 319.8,127.8 319.8,127.9 320.0,128.4 320.1,128.9 320.3,129.2 320.5,129.4 320.7,129.6 320.8,129.7 320.8,129.7 321.0,129.8 321.2,129.9 321.4,130.0 321.5,130.0 321.7,130.1 321.8,130.1 321.9,130.1 322.1,130.1 322.2,130.2 322.4,130.2 322.6,130.2 322.8,130.2 322.8,130.2 323.8,130.2 324.8,130.1 325.8,129.9 326.8,129.3 326.9,129.3 327.0,129.2 327.1,129.0 327.2,128.9 327.4,128.7 327.5,128.5 327.6,128.3 327.8,128.1 327.8,127.9 327.9,127.8 328.0,127.4 328.1,127.0 328.3,126.5 328.4,125.8 328.5,124.9 328.7,123.6 328.8,121.9 328.8,121.2 328.9,119.5 329.0,116.3 329.2,112.1 329.3,106.7 329.4,100.2 329.6,92.7 329.7,84.8 329.8,77.3 329.8,76.5 329.9,71.8 330.1,69.7 330.2,71.8 330.3,77.3 330.5,84.8 330.6,92.8 330.7,100.2 330.8,106.3 330.8,106.7 331.0,112.1 331.1,116.3 331.2,119.5 331.4,121.9 331.5,123.6 331.6,124.9 331.7,125.8 331.8,126.3 331.9,126.5 332.0,127.0 332.1,127.5 332.3,127.8 332.4,128.1 332.5,128.4 332.6,128.6 332.8,128.8 332.8,128.9 332.9,128.9 333.0,129.1 333.2,129.2 333.3,129.3 333.8,129.7 334.9,130.1 335.9,130.3 336.9,130.4 337.9,130.5 338.9,130.5 339.9,130.6 340.9,130.6 341.9,130.6 342.9,130.6 343.9,130.5 344.9,130.5 345.9,130.4 345.9,130.4 346.0,130.3 346.2,130.3 346.4,130.3 346.6,130.2 346.7,130.2 346.9,130.1 346.9,130.1 347.1,130.1 347.3,130.0 347.4,129.9 347.6,129.8 347.8,129.7 347.9,129.6 348.0,129.5 348.1,129.3 348.3,128.9 348.5,128.5 348.7,127.9 348.9,127.1 348.9,126.8 349.0,126.0 349.2,124.6 349.4,123.0 349.6,121.1 349.7,119.1 349.9,117.2 349.9,117.2 350.1,115.8 350.3,115.3 350.4,115.8 350.6,117.2 350.8,119.1 350.9,120.6 351.0,121.1 351.1,123.0 351.3,124.7 351.5,126.0 351.7,127.1 351.8,127.9 351.9,128.2 352.0,128.5 352.2,128.9 352.4,129.3 352.5,129.5 352.7,129.7 352.9,129.8 352.9,129.8 353.1,129.9 353.2,130.0 353.4,130.1 353.6,130.2 353.8,130.2 353.9,130.3 353.9,130.3 354.1,130.3 354.3,130.3 354.5,130.4 354.6,130.4 354.9,130.4 355.9,130.5 356.9,130.6 357.9,130.7 358.9,130.7 359.9,130.7 360.9,130.7 361.9,130.7 363.0,130.7 364.0,130.7 365.0,130.7 366.0,130.7 367.0,130.8 368.0,130.8 369.0,130.8 370.0,130.8 371.0,130.8 372.0,130.8 373.0,130.8 374.0,130.8 375.0,130.8 376.0,130.8 377.0,130.8 378.0,130.8 379.0,130.8 380.0,130.8 381.0,130.8 382.0,130.8 383.0,130.8 384.0,130.8 385.0,130.8 386.0,130.8 387.0,130.7 388.0,130.7 389.0,130.7 390.1,130.7 390.3,130.7 390.5,130.7 390.7,130.7 390.9,130.7 391.0,130.6 391.1,130.6 391.2,130.6 391.4,130.6 391.6,130.6 391.7,130.6 391.9,130.5 392.1,130.5 392.1,130.5 392.3,130.5 392.4,130.4 392.6,130.4 392.8,130.3 393.0,130.1 393.1,130.0 393.1,130.0 393.3,129.7 393.5,129.4 393.7,129.0 393.8,128.5 394.0,128.0 394.1,127.8 394.2,127.4 394.4,126.8 394.5,126.4 394.7,126.3 394.9,126.4 395.1,126.8 395.1,126.9 395.2,127.4 395.4,128.0 395.6,128.5 395.8,129.0 395.9,129.4 396.1,129.6 396.1,129.7 396.3,130.0 396.5,130.1 396.6,130.3 396.8,130.4 397.0,130.4 397.1,130.4 397.2,130.5 397.3,130.5 397.5,130.5 397.7,130.6 397.9,130.6 398.0,130.6 398.1,130.6 398.2,130.6 398.4,130.6 398.6,130.7 398.8,130.7 398.9,130.7 399.1,130.7 399.1,130.7 400.1,130.7 401.1,130.7 402.1,130.7 403.1,130.8 404.1,130.8 405.1,130.8 406.1,130.8 407.1,130.8 408.1,130.8 409.1,130.8 410.1,130.8 411.1,130.8 412.1,130.8 413.1,130.8 414.1,130.8 415.1,130.8 416.1,130.8 417.2,130.8 418.2,130.8 419.2,130.8 420.2,130.8 421.2,130.8 422.2,130.8 423.2,130.8 424.2,130.8 425.2,130.8 426.2,130.8 427.2,130.8 428.2,130.7 429.2,130.7 430.2,130.7 431.2,130.7 432.2,130.7 433.2,130.7 434.2,130.7 435.2,130.7 436.2,130.7 437.2,130.7 438.2,130.6 439.2,130.6 440.2,130.5 441.2,130.5 442.2,130.3 443.2,130.2 444.3,129.8 444.6,129.7 444.7,129.6 444.9,129.5 445.0,129.4 445.2,129.2 445.3,129.1 445.3,129.1 445.5,128.9 445.6,128.7 445.8,128.5 445.9,128.2 446.0,127.9 446.2,127.5 446.3,127.3 446.3,127.0 446.5,126.3 446.6,125.3 446.8,124.0 446.9,122.2 447.1,119.8 447.1,118.7 447.2,116.7 447.3,115.6 447.3,113.5 447.4,112.6 447.5,107.8 447.5,106.7 447.7,102.2 447.7,98.6 447.8,96.2 448.0,90.6 448.1,86.4 448.2,85.5 448.2,84.9 448.3,84.9 448.4,85.9 448.4,86.4 448.5,90.5 448.6,91.5 448.7,96.1 448.8,99.6 448.8,102.0 449.0,107.5 449.1,112.3 449.2,114.0 449.3,116.3 449.3,116.3 449.4,118.8 449.4,119.4 449.6,121.7 449.6,122.0 449.7,123.3 449.8,124.1 449.9,124.5 450.0,125.3 450.1,125.7 450.2,125.9 450.3,126.0 450.3,126.0 450.4,126.1 450.4,126.1 450.6,126.0 450.6,126.0 450.7,125.8 450.8,125.6 450.9,125.5 451.0,125.0 451.2,124.5 451.2,124.3 451.3,124.1 451.3,123.9 451.4,123.4 451.5,123.3 451.6,122.7 451.6,122.6 451.8,122.2 451.8,122.0 451.9,121.9 452.0,121.8 452.2,122.2 452.3,122.3 452.5,123.0 452.7,124.0 452.9,125.1 453.1,126.2 453.3,127.1 453.3,127.1 453.5,127.8 453.7,128.4 453.9,128.9 454.1,129.2 454.3,129.5 454.3,129.5 454.5,129.7 454.7,129.8 454.9,129.9 455.1,130.0 455.3,130.1 455.3,130.1 455.5,130.1 455.7,130.2 455.9,130.2 456.1,130.3 456.3,130.3 456.3,130.3 456.5,130.4 456.8,130.4 457.0,130.4 457.2,130.4 457.3,130.4 458.3,130.5 459.3,130.6 460.3,130.6 461.3,130.7 462.3,130.7 463.3,130.7 464.3,130.7 465.3,130.7 466.3,130.7 467.3,130.7 468.3,130.7 469.3,130.7 470.3,130.8 471.4,130.8" stroke="#ff2a2a" stroke-width="1.3" fill="none" stroke-linejoin="round" clip-path="url(#cb)"/>
<path d="M266.6,120.3 267.6,120.3 268.6,120.3 269.6,120.3 270.6,120.3 271.6,120.3 272.6,120.3 273.6,120.3 274.6,120.3 275.6,120.3 276.6,120.3 277.6,120.3 278.6,120.3 279.6,120.3 280.7,120.3 281.7,120.3 282.7,120.3 283.7,120.3 284.7,120.3 285.7,120.3 286.7,120.3 287.7,120.3 288.7,120.3 289.7,120.3 290.7,120.2 291.7,120.2 292.7,120.2 293.2,120.2 293.4,120.2 293.6,120.2 293.7,120.2 293.7,120.2 293.9,120.2 294.1,120.2 294.3,120.2 294.4,120.2 294.6,120.2 294.7,120.2 294.8,120.2 295.0,120.2 295.1,120.2 295.3,120.1 295.5,120.1 295.7,120.1 295.7,120.1 295.9,120.1 296.0,120.0 296.2,120.0 296.4,119.9 296.6,119.8 296.7,119.7 296.7,119.7 296.9,119.6 297.1,119.5 297.3,119.3 297.4,119.2 297.6,119.2 297.7,119.2 297.8,119.2 298.0,119.3 298.1,119.4 298.3,119.6 298.5,119.7 298.7,119.8 298.7,119.8 298.8,119.9 299.0,119.9 299.2,120.0 299.4,120.0 299.5,120.0 299.7,120.0 299.7,120.0 299.9,120.0 300.1,120.0 300.2,120.0 300.4,120.0 300.6,120.0 300.7,120.0 300.7,120.0 300.8,120.0 300.8,120.0 300.9,120.0 301.0,120.0 301.1,119.9 301.3,119.9 301.3,119.9 301.4,119.9 301.5,119.9 301.6,119.8 301.6,119.8 301.7,119.8 301.7,119.8 301.8,119.8 301.8,119.8 302.0,119.7 302.1,119.6 302.3,119.6 302.4,119.5 302.6,119.3 302.7,119.1 302.7,119.1 302.9,118.8 303.0,118.5 303.2,118.0 303.3,117.3 303.5,116.5 303.6,115.5 303.7,114.4 303.7,114.3 303.9,113.1 304.0,111.9 304.2,111.0 304.3,110.7 304.5,111.0 304.6,111.9 304.7,112.8 304.8,113.1 304.9,114.3 305.1,115.5 305.2,116.5 305.4,117.3 305.5,118.0 305.6,118.5 305.7,118.7 305.8,118.8 305.9,119.1 306.1,119.3 306.2,119.4 306.4,119.5 306.5,119.6 306.7,119.7 306.7,119.7 306.8,119.7 307.0,119.8 307.1,119.8 307.3,119.9 307.4,119.9 307.6,119.9 307.7,119.9 307.8,119.9 307.8,119.9 308.0,120.0 308.8,120.0 309.8,120.0 310.8,120.0 311.8,120.0 312.8,120.0 313.8,119.9 314.0,119.8 314.2,119.8 314.3,119.8 314.5,119.7 314.7,119.7 314.8,119.7 314.9,119.6 315.0,119.6 315.2,119.5 315.4,119.4 315.6,119.4 315.7,119.3 315.8,119.2 315.9,119.1 316.1,118.9 316.3,118.7 316.4,118.4 316.6,118.0 316.8,117.4 316.8,117.4 317.0,116.6 317.1,115.6 317.3,114.2 317.5,112.6 317.7,110.8 317.8,109.5 317.8,108.8 318.0,107.0 318.2,105.6 318.4,105.1 318.5,105.6 318.7,107.0 318.8,107.7 318.9,108.8 319.1,110.8 319.2,112.6 319.4,114.2 319.6,115.5 319.8,116.5 319.8,116.6 320.0,117.3 320.1,117.9 320.3,118.3 320.5,118.6 320.7,118.8 320.8,119.0 320.8,119.0 321.0,119.1 321.2,119.2 321.4,119.3 321.5,119.3 321.7,119.4 321.8,119.4 321.9,119.4 322.1,119.5 322.2,119.5 322.4,119.5 322.6,119.5 322.8,119.5 322.8,119.5 323.8,119.5 324.8,119.3 325.8,119.0 326.8,118.2 326.9,118.1 327.0,118.0 327.1,117.8 327.2,117.6 327.4,117.3 327.5,117.1 327.6,116.8 327.8,116.4 327.8,116.2 327.9,116.0 328.0,115.5 328.1,114.8 328.3,114.1 328.4,113.0 328.5,111.7 328.7,109.9 328.8,107.4 328.8,106.4 328.9,103.9 329.0,99.3 329.2,93.2 329.3,85.4 329.4,76.0 329.6,65.1 329.7,53.6 329.8,42.8 329.8,41.5 329.9,34.7 330.1,31.7 330.2,34.7 330.3,42.8 330.5,53.6 330.6,65.1 330.7,76.0 330.8,84.8 330.8,85.4 331.0,93.2 331.1,99.3 331.2,104.0 331.4,107.4 331.5,109.9 331.6,111.7 331.7,113.1 331.8,113.8 331.9,114.1 332.0,114.9 332.1,115.5 332.3,116.0 332.4,116.4 332.5,116.8 332.6,117.1 332.8,117.4 332.8,117.5 332.9,117.6 333.0,117.8 333.2,118.0 333.3,118.2 333.8,118.7 334.9,119.3 335.9,119.6 336.9,119.8 337.9,119.9 338.9,120.0 339.9,120.0 340.9,120.0 341.9,120.1 342.9,120.1 343.9,120.1 344.9,120.0 345.9,120.0 345.9,120.0 346.0,119.9 346.2,119.9 346.4,119.9 346.6,119.9 346.7,119.8 346.9,119.8 346.9,119.8 347.1,119.8 347.3,119.7 347.4,119.6 347.6,119.6 347.8,119.5 347.9,119.4 348.0,119.4 348.1,119.2 348.3,119.0 348.5,118.7 348.7,118.3 348.9,117.7 348.9,117.6 349.0,117.0 349.2,116.1 349.4,115.0 349.6,113.7 349.7,112.3 349.9,111.0 349.9,111.0 350.1,110.1 350.3,109.7 350.4,110.1 350.6,111.0 350.8,112.3 350.9,113.3 351.0,113.7 351.1,115.0 351.3,116.1 351.5,117.0 351.7,117.8 351.8,118.3 351.9,118.5 352.0,118.7 352.2,119.0 352.4,119.2 352.5,119.4 352.7,119.5 352.9,119.6 352.9,119.6 353.1,119.7 353.2,119.7 353.4,119.8 353.6,119.8 353.8,119.9 353.9,119.9 353.9,119.9 354.1,119.9 354.3,120.0 354.5,120.0 354.6,120.0 354.9,120.0 355.9,120.1 356.9,120.2 357.9,120.2 358.9,120.2 359.9,120.2 360.9,120.2 361.9,120.2 363.0,120.2 364.0,120.2 365.0,120.2 366.0,120.3 367.0,120.3 368.0,120.3 369.0,120.3 370.0,120.3 371.0,120.3 372.0,120.3 373.0,120.3 374.0,120.3 375.0,120.3 376.0,120.3 377.0,120.3 378.0,120.3 379.0,120.3 380.0,120.3 381.0,120.3 382.0,120.2 383.0,120.2 384.0,120.2 385.0,120.2 386.0,120.2 387.0,120.2 388.0,120.2 389.0,120.1 390.1,120.0 390.3,120.0 390.5,120.0 390.7,119.9 390.9,119.9 391.0,119.9 391.1,119.9 391.2,119.8 391.4,119.8 391.6,119.7 391.7,119.7 391.9,119.6 392.1,119.5 392.1,119.5 392.3,119.4 392.4,119.3 392.6,119.1 392.8,118.8 393.0,118.5 393.1,118.2 393.1,118.0 393.3,117.3 393.5,116.5 393.7,115.4 393.8,114.0 394.0,112.5 394.1,112.0 394.2,110.9 394.4,109.3 394.5,108.2 394.7,107.8 394.9,108.2 395.1,109.3 395.1,109.4 395.2,110.9 395.4,112.5 395.6,114.0 395.8,115.4 395.9,116.5 396.1,117.1 396.1,117.3 396.3,118.0 396.5,118.5 396.6,118.8 396.8,119.1 397.0,119.3 397.1,119.3 397.2,119.4 397.3,119.5 397.5,119.6 397.7,119.7 397.9,119.7 398.0,119.8 398.1,119.8 398.2,119.8 398.4,119.9 398.6,119.9 398.8,119.9 398.9,120.0 399.1,120.0 399.1,120.0 400.1,120.1 401.1,120.1 402.1,120.2 403.1,120.2 404.1,120.2 405.1,120.2 406.1,120.2 407.1,120.2 408.1,120.3 409.1,120.3 410.1,120.3 411.1,120.3 412.1,120.3 412.9,120.3 413.1,120.3 413.1,120.3 413.3,120.3 413.6,120.3 413.8,120.2 414.0,120.2 414.1,120.2 414.3,120.2 414.5,120.2 414.7,120.2 415.0,120.2 415.1,120.2 415.2,120.2 415.4,120.2 415.7,120.2 415.9,120.2 416.1,120.2 416.1,120.2 416.4,120.2 416.6,120.1 416.8,120.1 417.1,120.0 417.2,120.0 417.3,120.0 417.5,119.9 417.8,119.8 418.0,119.7 418.2,119.6 418.2,119.6 418.5,119.5 418.7,119.5 418.9,119.5 419.2,119.6 419.2,119.6 419.4,119.7 419.6,119.8 419.9,119.9 420.1,120.0 420.2,120.0 420.3,120.0 420.6,120.1 420.8,120.1 421.0,120.2 421.2,120.2 421.3,120.2 421.5,120.2 421.7,120.2 422.0,120.2 422.2,120.2 422.2,120.2 422.4,120.2 422.7,120.2 422.9,120.2 423.1,120.2 423.2,120.2 423.4,120.3 423.6,120.3 423.8,120.3 424.1,120.3 424.2,120.3 424.3,120.3 424.6,120.3 425.2,120.3 426.2,120.3 427.2,120.3 428.2,120.3 429.2,120.3 430.2,120.3 431.2,120.3 432.2,120.3 433.2,120.3 434.2,120.3 435.2,120.3 436.2,120.3 437.2,120.3 438.2,120.2 439.2,120.2 440.2,120.2 441.2,120.2 442.2,120.2 443.2,120.1 444.3,120.1 444.6,120.0 444.7,120.0 444.9,120.0 445.0,120.0 445.2,119.9 445.3,119.9 445.3,119.9 445.5,119.9 445.6,119.8 445.8,119.8 445.9,119.7 446.0,119.6 446.2,119.6 446.3,119.5 446.3,119.5 446.5,119.3 446.6,119.1 446.8,118.8 446.9,118.5 447.1,118.0 447.2,117.3 447.3,117.1 447.4,116.5 447.5,115.4 447.7,114.3 447.8,113.0 448.0,111.9 448.1,111.0 448.2,110.7 448.3,110.7 448.4,111.0 448.5,111.8 448.7,113.0 448.7,113.2 448.8,114.2 448.9,114.7 449.0,115.3 449.1,116.0 449.1,116.3 449.2,117.0 449.3,117.2 449.3,117.2 449.4,117.8 449.6,118.3 449.6,118.4 449.7,118.6 449.8,118.7 449.9,118.9 449.9,119.0 450.0,119.0 450.1,119.1 450.1,119.1 450.3,119.2 450.3,119.2 450.4,119.2 450.5,119.2 450.6,119.2 450.6,119.2 450.7,119.2 450.8,119.2 450.9,119.2 451.0,119.1 451.0,119.1 451.2,118.9 451.3,118.8 451.3,118.8 451.3,118.7 451.5,118.5 451.5,118.4 451.6,118.2 451.7,117.9 451.8,117.7 451.9,117.3 451.9,117.2 452.0,116.6 452.2,115.8 452.3,115.4 452.4,114.9 452.6,114.0 452.7,113.4 452.9,113.2 453.1,113.4 453.3,114.1 453.3,114.1 453.4,114.9 453.6,115.8 453.8,116.7 454.0,117.5 454.2,118.1 454.3,118.5 454.3,118.6 454.5,118.9 454.7,119.2 454.9,119.4 455.0,119.6 455.2,119.7 455.3,119.7 455.4,119.7 455.6,119.8 455.7,119.9 455.9,119.9 456.1,119.9 456.3,120.0 456.3,120.0 456.4,120.0 456.6,120.0 456.8,120.0 457.0,120.1 457.1,120.1 457.3,120.1 457.3,120.1 458.3,120.2 459.3,120.2 460.3,120.2 461.3,120.2 462.3,120.2 463.3,120.3 464.3,120.3 465.3,120.3 466.3,120.3 467.3,120.3 468.3,120.3 469.3,120.3 470.3,120.3 471.4,120.3" stroke="#2424ff" stroke-width="1.3" fill="none" stroke-linejoin="round" clip-path="url(#cb)"/>
<path d="M266.6,152.4 267.6,152.4 268.6,152.4 269.6,152.4 270.6,152.4 271.6,152.4 272.6,152.4 273.6,152.4 274.6,152.4 275.6,152.4 276.6,152.4 277.6,152.4 278.6,152.4 279.6,152.4 280.7,152.4 281.7,152.4 282.7,152.4 283.7,152.4 284.7,152.4 285.7,152.4 286.7,152.4 287.7,152.4 288.7,152.4 289.7,152.4 290.7,152.4 291.7,152.4 292.7,152.4 293.7,152.4 294.7,152.4 295.7,152.4 296.7,152.3 297.7,152.3 298.7,152.3 299.7,152.3 300.7,152.3 301.7,152.3 302.7,152.2 303.7,152.1 304.0,152.1 304.2,152.1 304.3,152.1 304.4,152.0 304.6,152.0 304.7,152.0 304.7,152.0 304.8,151.9 304.9,151.9 305.1,151.8 305.2,151.8 305.3,151.7 305.5,151.6 305.6,151.5 305.7,151.3 305.7,151.3 305.8,151.1 306.0,150.9 306.1,150.5 306.2,149.9 306.4,149.2 306.5,148.4 306.6,147.3 306.7,146.1 306.7,146.0 306.9,144.8 307.0,143.5 307.1,142.6 307.3,142.3 307.4,142.6 307.5,143.5 307.6,144.7 307.8,145.8 307.8,146.0 307.9,147.3 308.0,148.3 308.2,149.2 308.3,149.8 308.3,149.9 308.4,150.4 308.5,150.6 308.5,150.8 308.7,151.1 308.7,151.1 308.8,151.2 308.8,151.3 308.9,151.4 308.9,151.4 309.1,151.5 309.1,151.5 309.2,151.6 309.3,151.6 309.3,151.6 309.4,151.7 309.5,151.7 309.6,151.7 309.7,151.8 309.7,151.8 309.8,151.8 309.8,151.8 309.9,151.8 310.0,151.8 310.1,151.8 310.1,151.8 310.2,151.8 310.3,151.8 310.3,151.8 310.5,151.8 310.5,151.8 310.7,151.8 310.8,151.8 310.9,151.7 311.1,151.6 311.4,151.5 311.6,151.4 311.8,151.1 311.8,151.1 312.0,150.8 312.2,150.4 312.4,150.0 312.6,149.4 312.8,148.9 312.8,148.8 313.0,148.3 313.2,147.9 313.4,147.7 313.6,147.9 313.8,148.2 313.8,148.3 314.0,148.8 314.2,149.4 314.4,150.0 314.6,150.5 314.8,150.8 314.8,150.9 315.0,151.2 315.2,151.4 315.4,151.6 315.7,151.7 315.8,151.8 315.9,151.8 316.1,151.8 316.3,151.9 316.5,151.9 316.7,152.0 316.8,152.0 316.9,152.0 317.1,152.0 317.3,152.0 317.5,152.0 317.7,152.0 317.8,152.0 317.9,152.0 318.1,152.0 318.3,152.0 318.5,152.0 318.8,152.0 319.8,151.9 320.8,151.7 321.0,151.6 321.1,151.6 321.3,151.5 321.4,151.5 321.5,151.4 321.6,151.3 321.8,151.2 321.8,151.2 321.9,151.1 322.0,151.0 322.2,150.9 322.3,150.7 322.4,150.5 322.5,150.2 322.7,149.8 322.8,149.3 322.8,149.3 322.9,148.6 323.1,147.6 323.2,146.3 323.3,144.5 323.5,142.3 323.6,139.7 323.7,136.6 323.8,134.0 323.8,133.3 324.0,130.3 324.1,128.0 324.2,127.1 324.4,128.0 324.5,130.2 324.6,133.3 324.7,136.6 324.8,138.4 324.9,139.6 325.0,142.3 325.1,144.5 325.3,146.2 325.4,147.5 325.5,148.4 325.6,149.1 325.8,149.6 325.8,149.8 325.9,150.0 326.0,150.3 326.2,150.5 326.3,150.7 326.4,150.8 326.5,150.9 326.7,151.0 326.8,151.1 326.8,151.1 326.9,151.1 327.1,151.2 327.2,151.2 327.3,151.3 327.4,151.3 327.8,151.3 328.8,151.2 329.8,150.8 330.4,150.4 330.5,150.2 330.6,150.1 330.8,149.9 330.8,149.8 330.9,149.7 331.0,149.4 331.1,149.2 331.3,148.8 331.4,148.5 331.5,148.0 331.7,147.4 331.8,146.7 331.8,146.4 331.9,145.8 332.0,144.6 332.2,143.0 332.3,140.8 332.4,137.7 332.6,133.5 332.7,128.0 332.8,121.0 332.8,119.1 332.9,112.6 333.1,102.8 333.2,92.5 333.3,82.7 333.5,75.5 333.6,72.8 333.7,75.5 333.8,82.7 333.8,83.2 334.0,92.5 334.1,102.8 334.2,112.6 334.4,121.1 334.5,128.0 334.6,133.5 334.7,137.7 334.9,140.4 334.9,140.8 335.0,143.1 335.1,144.7 335.3,145.9 335.4,146.8 335.5,147.5 335.6,148.1 335.8,148.5 335.9,148.8 335.9,148.9 336.0,149.3 336.2,149.5 336.3,149.8 336.4,150.0 336.5,150.2 336.7,150.4 336.8,150.5 336.9,150.6 337.9,151.3 338.9,151.7 339.9,151.9 340.9,152.0 341.9,152.1 342.9,152.1 343.9,152.2 344.9,152.2 345.9,152.3 346.9,152.3 347.9,152.3 348.9,152.3 349.9,152.3 350.9,152.3 351.9,152.3 352.9,152.3 353.9,152.3 354.9,152.3 355.9,152.3 356.9,152.4 357.9,152.4 358.9,152.4 359.9,152.4 360.9,152.4 361.9,152.4 363.0,152.4 364.0,152.4 365.0,152.4 366.0,152.4 367.0,152.4 368.0,152.4 369.0,152.4 370.0,152.4 371.0,152.4 372.0,152.4 373.0,152.4 374.0,152.4 375.0,152.4 376.0,152.4 377.0,152.4 378.0,152.4 379.0,152.4 380.0,152.4 381.0,152.4 382.0,152.4 383.0,152.4 384.0,152.4 385.0,152.4 386.0,152.4 387.0,152.4 388.0,152.4 389.0,152.4 390.1,152.4 391.1,152.3 392.1,152.3 393.1,152.3 394.1,152.3 395.1,152.3 396.1,152.2 397.1,152.1 397.2,152.1 397.3,152.1 397.5,152.1 397.6,152.0 397.8,152.0 397.9,152.0 398.1,151.9 398.1,151.9 398.2,151.9 398.4,151.8 398.5,151.7 398.7,151.6 398.8,151.5 399.0,151.4 399.1,151.2 399.1,151.2 399.2,150.9 399.4,150.6 399.5,150.1 399.7,149.4 399.8,148.6 400.0,147.5 400.1,146.5 400.1,146.1 400.3,144.6 400.4,143.0 400.6,141.5 400.7,140.3 400.9,139.9 401.0,140.3 401.1,140.9 401.1,141.5 401.3,143.0 401.4,144.6 401.6,146.1 401.7,147.5 401.9,148.6 402.0,149.4 402.1,149.8 402.2,150.1 402.3,150.6 402.5,150.9 402.6,151.2 402.8,151.4 402.9,151.5 403.1,151.6 403.1,151.7 403.2,151.7 403.3,151.8 403.5,151.9 403.6,151.9 403.8,152.0 403.9,152.0 404.1,152.0 404.1,152.0 404.2,152.1 404.4,152.1 404.5,152.1 405.1,152.2 406.1,152.3 407.1,152.3 408.1,152.3 409.1,152.3 410.1,152.3 411.1,152.4 412.1,152.4 413.1,152.4 414.1,152.4 415.1,152.4 416.1,152.4 417.2,152.4 418.2,152.4 419.2,152.4 420.2,152.4 421.2,152.4 422.2,152.4 423.2,152.4 424.2,152.4 425.2,152.4 426.2,152.4 427.2,152.4 428.2,152.4 429.2,152.4 430.2,152.4 431.2,152.4 432.2,152.4 433.2,152.4 434.2,152.4 435.2,152.4 436.2,152.4 437.2,152.4 438.2,152.4 439.2,152.4 440.2,152.4 441.2,152.4 442.2,152.4 443.2,152.4 444.3,152.4 445.3,152.3 446.3,152.3 447.3,152.3 448.3,152.3 449.3,152.2 450.1,152.2 450.3,152.1 450.3,152.1 450.4,152.1 450.6,152.1 450.7,152.1 450.9,152.0 451.0,152.0 451.2,151.9 451.3,151.9 451.3,151.9 451.5,151.8 451.6,151.8 451.8,151.7 451.9,151.5 452.0,151.4 452.2,151.2 452.3,151.0 452.3,150.9 452.5,150.5 452.6,149.9 452.8,149.2 452.9,148.3 453.1,147.1 453.2,145.9 453.3,145.2 453.4,144.5 453.5,143.2 453.7,142.3 453.8,141.9 453.9,142.3 454.1,143.2 454.2,144.5 454.3,144.9 454.4,145.9 454.5,147.1 454.7,148.3 454.8,149.2 455.0,149.9 455.1,150.5 455.3,150.9 455.3,150.9 455.4,151.2 455.6,151.4 455.7,151.5 455.8,151.7 456.0,151.8 456.1,151.8 456.3,151.9 456.3,151.9 456.4,151.9 456.6,152.0 456.7,152.0 456.9,152.1 457.0,152.1 457.2,152.1 457.3,152.1 457.3,152.1 457.5,152.2 458.3,152.2 459.3,152.3 460.3,152.3 461.3,152.3 462.3,152.4 463.3,152.4 464.3,152.4 465.3,152.4 466.3,152.4 467.3,152.4 468.3,152.4 469.3,152.4 470.3,152.4 471.4,152.4" stroke="#22a198" stroke-width="1.3" fill="none" stroke-linejoin="round" clip-path="url(#cb)"/>
<text x="379.6" y="17.23" font-size="9.5" text-anchor="middle" fill="#111">*</text>
<text x="384.5" y="15.1" font-size="7.5" fill="#111">ZrN</text>
<path d="M379.32,20.26 L378.93,24.94 M381.07,20.26 L380.68,24.94 M378.05,21.78 L381.95,21.78 M378.05,23.42 L381.95,23.42" stroke="#6a6a6a" stroke-width="0.75" fill="none"/>
<text x="384.5" y="25.3" font-size="7.5" fill="#111">Zr<tspan font-size="5.2" dy="2">2</tspan><tspan dy="-2">N</tspan></text>
<text x="379.6" y="36.77" font-size="7.5" text-anchor="middle" fill="#111">&amp;</text>
<text x="384" y="37" font-size="7.5" fill="#111">m-ZrO<tspan font-size="5.2" dy="2">2</tspan></text>
<text x="379.5" y="47.48" font-size="6.5" text-anchor="middle" fill="#111">♣</text>
<text x="384.5" y="47.9" font-size="7.5" fill="#111">t-ZrO<tspan font-size="5.2" dy="2">2</tspan></text>
<path d="M379.5,52.96 L381.05,54.9 L379.5,56.84 L377.95,54.9Z" fill="#111"/>
<text x="384.5" y="57.6" font-size="7.5" fill="#111">Zr</text>
<line x1="427.9" y1="10" x2="444.7" y2="10" stroke="#2424ff" stroke-width="1.4"/>
<text x="0" y="0" font-size="8.1" transform="translate(446.6 12.8) scale(0.87 1)" fill="#111">S-6</text>
<line x1="427.9" y1="19" x2="444.7" y2="19" stroke="#ff2a2a" stroke-width="1.4"/>
<text x="0" y="0" font-size="8.1" transform="translate(446.6 21.8) scale(0.87 1)" fill="#111">S-5</text>
<line x1="427.9" y1="28.1" x2="444.7" y2="28.1" stroke="#1e1e1e" stroke-width="1.4"/>
<text x="0" y="0" font-size="8.1" transform="translate(446.6 30.9) scale(0.87 1)" fill="#111">S-4</text>
<line x1="427.9" y1="37" x2="444.7" y2="37" stroke="#22a198" stroke-width="1.4"/>
<text x="0" y="0" font-size="8.1" transform="translate(446.6 39.8) scale(0.87 1)" fill="#111">blank</text>
<text x="333.08" y="17.9" font-size="6.6" text-anchor="middle" font-weight="bold" transform="rotate(-90 333.08 17.9)" fill="#111">(111)</text>
<path d="M329.97,26.74 L329.61,31.06 M331.59,26.74 L331.23,31.06 M328.8,28.14 L332.4,28.14 M328.8,29.66 L332.4,29.66" stroke="#6a6a6a" stroke-width="0.75" fill="none"/>
<text x="337.48" y="46.5" font-size="6.6" text-anchor="middle" font-weight="bold" transform="rotate(-90 337.48 46.5)" fill="#111">(101)</text>
<path d="M334.7,54.66 L336.25,56.6 L334.7,58.54 L333.15,56.6Z" fill="#111"/>
<text x="307.48" y="80" font-size="6.6" text-anchor="middle" font-weight="bold" transform="rotate(-90 307.48 80)" fill="#111">(200)</text>
<path d="M304.17,89.84 L303.81,94.16 M305.79,89.84 L305.43,94.16 M303,91.24 L306.6,91.24 M303,92.76 L306.6,92.76" stroke="#6a6a6a" stroke-width="0.75" fill="none"/>
<text x="321.18" y="88.1" font-size="6.6" text-anchor="middle" font-weight="bold" transform="rotate(-90 321.18 88.1)" fill="#111">(111)</text>
<circle cx="318.6" cy="98.6" r="0.9" fill="#111"/>
<text x="352.18" y="90" font-size="6.6" text-anchor="middle" font-weight="bold" transform="rotate(-90 352.18 90)" fill="#111">(200)</text>
<circle cx="350" cy="100.5" r="0.9" fill="#111"/>
<text x="396.88" y="90" font-size="6.6" text-anchor="middle" font-weight="bold" transform="rotate(-90 396.88 90)" fill="#111">(121)</text>
<path d="M393.87,99.04 L393.51,103.36 M395.49,99.04 L395.13,103.36 M392.7,100.44 L396.3,100.44 M392.7,101.96 L396.3,101.96" stroke="#6a6a6a" stroke-width="0.75" fill="none"/>
<text x="450.88" y="69.6" font-size="6.6" text-anchor="middle" font-weight="bold" transform="rotate(-90 450.88 69.6)" fill="#111">(002)</text>
<path d="M447.87,78.34 L447.51,82.66 M449.49,78.34 L449.13,82.66 M446.7,79.74 L450.3,79.74 M446.7,81.26 L450.3,81.26" stroke="#6a6a6a" stroke-width="0.75" fill="none"/>
<text x="297.5" y="118.1" font-size="6" text-anchor="middle" fill="#111">♣</text>
<path d="M307.2,114.06 L308.75,116 L307.2,117.94 L305.65,116Z" fill="#111"/>
<text x="326" y="117.27" font-size="7.5" text-anchor="middle" fill="#111">&amp;</text>
<path d="M324.3,122.86 L325.85,124.8 L324.3,126.74 L322.75,124.8Z" fill="#111"/>
<text x="417.7" y="114.47" font-size="7.5" text-anchor="middle" fill="#111">&amp;</text>
<text x="284.2" y="137.47" font-size="7.5" text-anchor="middle" fill="#111">&amp;</text>
<circle cx="401" cy="147" r="1.4" fill="#111"/>
<circle cx="453.4" cy="140.4" r="1.4" fill="#111"/>
<rect x="22.6" y="184" width="204.3" height="150.4" stroke="#6a6a6a" stroke-width="1.45" fill="none"/>
<line x1="22.6" y1="334.4" x2="226.9" y2="334.4" stroke="#444" stroke-width="1.2"/>
<line x1="22.6" y1="334.4" x2="22.6" y2="337.2" stroke="#444" stroke-width="1.1"/>
<text x="22.6" y="347.6" font-size="9.4" text-anchor="middle" fill="#111">25</text>
<line x1="51.78" y1="334.4" x2="51.78" y2="337.2" stroke="#444" stroke-width="1.1"/>
<text x="51.78" y="347.6" font-size="9.4" text-anchor="middle" fill="#111">30</text>
<line x1="80.97" y1="334.4" x2="80.97" y2="337.2" stroke="#444" stroke-width="1.1"/>
<text x="80.97" y="347.6" font-size="9.4" text-anchor="middle" fill="#111">35</text>
<line x1="110.16" y1="334.4" x2="110.16" y2="337.2" stroke="#444" stroke-width="1.1"/>
<text x="110.16" y="347.6" font-size="9.4" text-anchor="middle" fill="#111">40</text>
<line x1="139.34" y1="334.4" x2="139.34" y2="337.2" stroke="#444" stroke-width="1.1"/>
<text x="139.34" y="347.6" font-size="9.4" text-anchor="middle" fill="#111">45</text>
<line x1="168.52" y1="334.4" x2="168.52" y2="337.2" stroke="#444" stroke-width="1.1"/>
<text x="168.52" y="347.6" font-size="9.4" text-anchor="middle" fill="#111">50</text>
<line x1="197.71" y1="334.4" x2="197.71" y2="337.2" stroke="#444" stroke-width="1.1"/>
<text x="197.71" y="347.6" font-size="9.4" text-anchor="middle" fill="#111">55</text>
<line x1="226.89" y1="334.4" x2="226.89" y2="337.2" stroke="#444" stroke-width="1.1"/>
<text x="226.89" y="347.6" font-size="9.4" text-anchor="middle" fill="#111">60</text>
<line x1="37.19" y1="334.4" x2="37.19" y2="336" stroke="#444" stroke-width="1"/>
<line x1="66.38" y1="334.4" x2="66.38" y2="336" stroke="#444" stroke-width="1"/>
<line x1="95.56" y1="334.4" x2="95.56" y2="336" stroke="#444" stroke-width="1"/>
<line x1="124.75" y1="334.4" x2="124.75" y2="336" stroke="#444" stroke-width="1"/>
<line x1="153.93" y1="334.4" x2="153.93" y2="336" stroke="#444" stroke-width="1"/>
<line x1="183.12" y1="334.4" x2="183.12" y2="336" stroke="#444" stroke-width="1"/>
<line x1="212.3" y1="334.4" x2="212.3" y2="336" stroke="#444" stroke-width="1"/>
<text x="124" y="358" font-size="11.3" text-anchor="middle" fill="#111">2θ (°)</text>
<text x="11.8" y="248.6" font-size="12.6" text-anchor="middle" transform="rotate(-90 11.8 248.6)" fill="#111">Intensity (a.u.)</text>
<text x="27.5" y="197.7" font-size="12.3" fill="#111">(c)</text>
<text x="44.6" y="197.7" font-size="11.1" fill="#111">0.8 A</text>
<path d="M22.6,319.7 23.6,319.7 24.6,319.7 25.6,319.7 26.6,319.7 27.6,319.7 28.6,319.7 29.6,319.7 30.6,319.7 31.6,319.7 32.6,319.7 33.6,319.7 34.6,319.7 35.6,319.7 36.6,319.7 37.6,319.7 38.6,319.7 39.6,319.7 40.6,319.7 41.6,319.7 42.6,319.7 43.6,319.7 44.6,319.7 45.6,319.7 46.6,319.7 47.6,319.7 48.6,319.6 49.6,319.6 50.6,319.6 51.6,319.6 52.6,319.6 53.6,319.6 54.6,319.6 55.6,319.5 56.6,319.5 57.7,319.3 57.9,319.3 58.0,319.3 58.2,319.2 58.3,319.2 58.4,319.1 58.6,319.1 58.7,319.1 58.7,319.0 58.8,319.0 58.9,318.9 59.1,318.8 59.2,318.7 59.3,318.6 59.5,318.4 59.6,318.1 59.7,318.0 59.7,317.8 59.8,317.4 60.0,316.8 60.1,315.9 60.2,314.8 60.4,313.5 60.5,311.8 60.6,309.9 60.7,309.2 60.7,307.8 60.9,305.9 61.0,304.5 61.1,303.9 61.3,304.5 61.4,305.9 61.5,307.8 61.6,309.9 61.7,310.1 61.8,311.8 61.9,313.5 62.0,314.8 62.2,315.9 62.3,316.7 62.4,317.3 62.5,317.8 62.7,318.1 62.7,318.1 62.8,318.3 62.9,318.5 63.1,318.7 63.2,318.8 63.3,318.9 63.4,318.9 63.6,319.0 63.7,319.0 63.7,319.1 63.8,319.1 63.9,319.1 64.1,319.2 64.2,319.2 64.3,319.2 64.7,319.3 65.7,319.4 66.7,319.4 67.7,319.4 68.7,319.4 69.7,319.4 70.6,319.3 70.7,319.3 70.8,319.2 70.9,319.2 71.0,319.2 71.2,319.2 71.3,319.1 71.5,319.1 71.6,319.0 71.7,319.0 71.8,319.0 71.9,318.9 72.1,318.8 72.2,318.7 72.4,318.6 72.5,318.4 72.7,318.1 72.7,318.1 72.8,317.8 72.9,317.3 73.1,316.7 73.2,315.9 73.4,314.8 73.5,313.5 73.7,312.0 73.8,310.5 74.0,309.0 74.1,307.9 74.3,307.5 74.4,307.9 74.5,309.0 74.7,310.2 74.7,310.5 74.8,312.0 75.0,313.5 75.1,314.8 75.3,315.8 75.4,316.6 75.6,317.3 75.7,317.6 75.7,317.7 75.9,318.0 76.0,318.3 76.2,318.5 76.3,318.6 76.4,318.7 76.6,318.8 76.7,318.8 76.7,318.8 76.9,318.9 77.0,318.9 77.2,319.0 77.3,319.0 77.5,319.0 77.6,319.0 77.7,319.0 77.8,319.0 77.9,319.1 78.7,319.1 79.7,319.0 80.7,318.9 81.7,318.6 82.7,318.1 83.6,317.1 83.7,316.9 83.7,316.9 83.9,316.6 84.0,316.4 84.1,316.1 84.2,315.7 84.4,315.3 84.5,314.9 84.6,314.3 84.7,314.0 84.8,313.7 84.9,312.9 85.0,311.9 85.1,310.7 85.3,309.0 85.4,306.7 85.5,303.6 85.7,299.2 85.7,297.6 85.8,293.4 85.9,285.7 86.0,276.0 86.2,264.2 86.3,250.6 86.4,236.1 86.6,222.5 86.7,212.4 86.7,211.7 86.8,208.7 86.9,212.4 87.1,222.5 87.2,236.1 87.3,250.6 87.4,264.2 87.6,276.0 87.7,285.0 87.7,285.7 87.8,293.4 88.0,299.3 88.1,303.6 88.2,306.7 88.3,309.0 88.5,310.7 88.6,311.9 88.7,312.6 88.7,312.9 88.9,313.7 89.0,314.3 89.1,314.9 89.2,315.3 89.4,315.7 89.5,316.1 89.6,316.4 89.7,316.5 89.8,316.7 89.9,316.9 90.0,317.1 90.7,317.9 91.7,318.5 92.7,318.9 93.7,319.1 94.7,319.2 95.7,319.3 96.7,319.4 97.7,319.4 98.7,319.4 99.7,319.4 100.7,319.4 101.7,319.4 102.4,319.3 102.6,319.3 102.7,319.2 102.7,319.2 102.9,319.2 103.0,319.2 103.2,319.1 103.3,319.1 103.4,319.0 103.6,319.0 103.7,318.9 103.7,318.9 103.9,318.8 104.0,318.7 104.2,318.6 104.3,318.4 104.5,318.1 104.6,317.8 104.7,317.4 104.8,317.3 104.9,316.6 105.0,315.7 105.2,314.6 105.3,313.3 105.5,311.7 105.6,310.1 105.7,309.1 105.8,308.5 105.9,307.3 106.1,306.9 106.2,307.4 106.4,308.5 106.5,310.1 106.7,311.7 106.7,312.5 106.8,313.3 106.9,314.6 107.1,315.7 107.2,316.6 107.4,317.3 107.5,317.8 107.7,318.1 107.7,318.2 107.8,318.4 108.0,318.6 108.1,318.7 108.3,318.9 108.4,319.0 108.5,319.0 108.7,319.1 108.7,319.1 108.8,319.1 109.0,319.2 109.1,319.2 109.3,319.3 109.4,319.3 109.6,319.3 109.7,319.3 109.7,319.3 110.7,319.5 111.7,319.5 112.7,319.6 113.7,319.6 114.7,319.6 115.7,319.6 116.7,319.6 117.7,319.6 118.7,319.6 119.7,319.6 120.7,319.7 121.7,319.7 122.7,319.7 123.7,319.7 124.7,319.7 125.7,319.7 126.8,319.7 127.8,319.7 128.8,319.7 129.8,319.7 130.8,319.7 131.8,319.7 132.8,319.7 133.8,319.7 134.8,319.7 135.8,319.7 136.8,319.7 137.8,319.7 138.8,319.7 139.8,319.7 140.8,319.7 141.8,319.7 142.8,319.7 143.8,319.7 144.8,319.7 145.8,319.6 146.8,319.6 147.8,319.6 147.8,319.6 148.0,319.6 148.2,319.6 148.3,319.6 148.5,319.5 148.7,319.5 148.8,319.5 148.9,319.5 149.0,319.5 149.2,319.5 149.4,319.5 149.6,319.4 149.7,319.4 149.8,319.4 149.9,319.3 150.1,319.3 150.3,319.2 150.4,319.1 150.6,318.9 150.8,318.6 150.8,318.6 151.0,318.3 151.1,318.0 151.3,317.5 151.5,316.9 151.7,316.4 151.8,316.0 151.8,315.8 152.0,315.4 152.2,315.3 152.4,315.4 152.5,315.8 152.7,316.4 152.8,316.6 152.9,317.0 153.1,317.5 153.2,318.0 153.4,318.3 153.6,318.6 153.8,318.9 153.8,318.9 153.9,319.1 154.1,319.2 154.3,319.3 154.5,319.3 154.6,319.4 154.8,319.4 154.8,319.4 155.0,319.5 155.2,319.5 155.3,319.5 155.5,319.5 155.7,319.5 155.8,319.5 155.9,319.5 156.0,319.6 156.2,319.6 156.4,319.6 156.6,319.6 156.8,319.6 157.8,319.6 158.8,319.6 159.8,319.7 160.8,319.7 161.8,319.7 162.8,319.7 163.8,319.7 164.8,319.7 165.8,319.7 166.8,319.7 167.8,319.7 168.8,319.7 169.8,319.7 170.8,319.7 171.8,319.7 172.8,319.7 173.8,319.7 174.8,319.7 175.8,319.7 176.8,319.7 177.8,319.7 178.8,319.7 179.8,319.7 180.8,319.7 181.8,319.7 182.8,319.7 183.8,319.7 184.8,319.7 185.8,319.7 186.8,319.7 187.8,319.7 188.8,319.7 189.8,319.7 190.8,319.7 191.8,319.7 192.8,319.7 193.8,319.7 194.8,319.7 195.9,319.7 196.9,319.6 197.9,319.6 198.9,319.6 199.9,319.6 200.9,319.5 201.5,319.5 201.6,319.4 201.8,319.4 201.9,319.4 201.9,319.4 202.0,319.4 202.1,319.3 202.3,319.3 202.4,319.3 202.5,319.2 202.7,319.2 202.8,319.1 202.9,319.0 202.9,319.0 203.0,318.9 203.2,318.8 203.3,318.6 203.4,318.3 203.6,318.0 203.7,317.5 203.8,316.9 203.9,316.6 203.9,316.1 204.1,315.1 204.2,314.0 204.3,313.3 204.3,312.8 204.4,312.0 204.5,311.7 204.6,311.0 204.6,310.9 204.7,310.6 204.8,310.8 204.9,310.9 204.9,310.9 205.0,311.7 205.0,311.9 205.1,312.7 205.2,313.2 205.2,313.9 205.3,314.5 205.4,315.0 205.4,315.6 205.5,315.9 205.6,316.6 205.6,316.7 205.7,317.3 205.7,317.3 205.9,317.7 205.9,317.7 205.9,317.7 206.0,318.0 206.0,318.1 206.1,318.2 206.2,318.3 206.3,318.3 206.3,318.3 206.4,318.4 206.5,318.3 206.5,318.3 206.6,318.3 206.6,318.2 206.8,318.1 206.8,318.1 206.9,317.9 206.9,317.8 206.9,317.8 207.0,317.5 207.0,317.4 207.2,317.1 207.2,317.0 207.3,316.6 207.3,316.4 207.4,316.1 207.5,315.8 207.5,315.6 207.6,315.2 207.7,315.1 207.8,314.8 207.8,314.8 207.9,314.7 207.9,314.7 208.1,314.9 208.2,315.3 208.4,315.9 208.5,316.6 208.7,317.2 208.8,317.7 208.9,317.9 208.9,318.1 209.1,318.4 209.2,318.7 209.4,318.9 209.5,319.0 209.7,319.1 209.8,319.2 209.9,319.2 210.0,319.3 210.1,319.3 210.3,319.4 210.4,319.4 210.6,319.4 210.7,319.4 210.8,319.5 210.9,319.5 211.0,319.5 211.1,319.5 211.3,319.5 211.4,319.5 211.6,319.5 211.9,319.6 212.9,319.6 213.9,319.6 214.9,319.6 215.9,319.7 216.9,319.7 217.9,319.7 218.9,319.7 219.9,319.7 220.9,319.7 221.9,319.7 222.9,319.7 223.9,319.7 224.9,319.7 225.9,319.7 226.9,319.7" stroke="#1e1e1e" stroke-width="1.3" fill="none" stroke-linejoin="round" clip-path="url(#cc)"/>
<path d="M22.6,312.4 23.6,312.4 24.6,312.4 25.6,312.4 26.6,312.4 27.6,312.4 28.6,312.4 29.6,312.4 30.6,312.4 31.6,312.4 32.6,312.4 33.6,312.4 34.6,312.4 35.6,312.4 36.6,312.4 37.6,312.4 38.6,312.4 39.6,312.4 40.6,312.4 41.6,312.4 42.6,312.4 43.6,312.4 44.6,312.3 45.6,312.3 46.6,312.3 47.6,312.3 48.6,312.3 49.6,312.3 50.6,312.3 51.6,312.3 52.6,312.2 53.6,312.2 54.6,312.2 55.6,312.1 56.6,311.9 57.7,311.7 58.2,311.4 58.3,311.3 58.4,311.2 58.6,311.1 58.7,311.0 58.7,311.0 58.8,310.8 58.9,310.7 59.0,310.5 59.1,310.3 59.3,310.1 59.4,309.7 59.5,309.4 59.6,308.9 59.7,308.6 59.7,308.2 59.8,307.4 60.0,306.1 60.1,304.5 60.2,302.2 60.3,299.3 60.4,295.5 60.5,290.9 60.7,285.8 60.7,285.7 60.8,280.1 60.9,274.9 61.0,271.0 61.1,269.5 61.2,271.0 61.4,274.9 61.5,280.1 61.6,285.7 61.7,288.7 61.7,290.9 61.8,295.5 61.9,299.3 62.1,302.2 62.2,304.5 62.3,306.1 62.4,307.3 62.5,308.2 62.6,308.9 62.7,308.9 62.8,309.4 62.9,309.7 63.0,310.0 63.1,310.3 63.2,310.5 63.3,310.7 63.5,310.8 63.6,310.9 63.7,311.0 63.7,311.1 63.8,311.2 63.9,311.3 64.0,311.3 64.7,311.6 65.7,311.9 66.7,312.0 67.7,312.0 68.7,312.1 69.7,312.0 70.6,311.9 70.7,311.9 70.8,311.9 70.9,311.9 71.0,311.9 71.2,311.8 71.3,311.8 71.5,311.8 71.6,311.7 71.7,311.7 71.8,311.7 71.9,311.6 72.1,311.5 72.2,311.4 72.4,311.3 72.5,311.1 72.7,310.9 72.7,310.8 72.8,310.6 72.9,310.1 73.1,309.5 73.2,308.7 73.4,307.7 73.5,306.5 73.7,305.1 73.8,303.6 74.0,302.2 74.1,301.2 74.3,300.8 74.4,301.2 74.5,302.2 74.7,303.4 74.7,303.6 74.8,305.1 75.0,306.5 75.1,307.7 75.3,308.7 75.4,309.5 75.6,310.1 75.7,310.4 75.7,310.5 75.9,310.8 76.0,311.1 76.2,311.2 76.3,311.4 76.4,311.4 76.6,311.5 76.7,311.6 76.7,311.6 76.9,311.6 77.0,311.7 77.2,311.7 77.3,311.7 77.5,311.8 77.6,311.8 77.7,311.8 77.8,311.8 77.9,311.8 78.7,311.8 79.7,311.8 80.7,311.7 81.7,311.4 82.7,311.0 83.6,310.1 83.7,310.0 83.7,310.0 83.9,309.8 84.0,309.5 84.1,309.3 84.2,309.0 84.4,308.6 84.5,308.3 84.6,307.8 84.7,307.5 84.8,307.2 84.9,306.6 85.0,305.7 85.1,304.7 85.3,303.2 85.4,301.3 85.5,298.6 85.7,294.9 85.7,293.5 85.8,289.9 85.9,283.3 86.0,275.0 86.2,264.9 86.3,253.2 86.4,240.8 86.6,229.2 86.7,220.6 86.7,219.9 86.8,217.4 86.9,220.6 87.1,229.2 87.2,240.8 87.3,253.2 87.4,264.9 87.6,275.0 87.7,282.7 87.7,283.3 87.8,289.9 88.0,294.9 88.1,298.6 88.2,301.3 88.3,303.2 88.5,304.7 88.6,305.7 88.7,306.4 88.7,306.6 88.9,307.3 89.0,307.8 89.1,308.3 89.2,308.7 89.4,309.0 89.5,309.3 89.6,309.6 89.7,309.7 89.8,309.8 89.9,310.0 90.0,310.2 90.7,310.9 91.7,311.4 92.7,311.7 93.7,311.9 94.7,312.0 95.7,312.1 96.7,312.1 97.7,312.2 98.7,312.2 99.7,312.2 100.7,312.2 101.7,312.2 102.4,312.1 102.6,312.1 102.7,312.1 102.7,312.1 102.9,312.1 103.0,312.1 103.2,312.1 103.3,312.0 103.4,312.0 103.6,312.0 103.7,311.9 103.7,311.9 103.9,311.9 104.0,311.8 104.2,311.7 104.3,311.6 104.5,311.5 104.6,311.3 104.7,311.1 104.8,311.0 104.9,310.7 105.0,310.2 105.2,309.6 105.3,308.8 105.5,308.0 105.6,307.1 105.7,306.5 105.8,306.2 105.9,305.6 106.1,305.3 106.2,305.6 106.4,306.2 106.5,307.1 106.7,308.0 106.7,308.4 106.8,308.8 106.9,309.6 107.1,310.2 107.2,310.7 107.4,311.0 107.5,311.3 107.7,311.5 107.7,311.6 107.8,311.7 108.0,311.8 108.1,311.9 108.3,311.9 108.4,312.0 108.5,312.0 108.7,312.0 108.7,312.0 108.8,312.1 109.0,312.1 109.1,312.1 109.3,312.1 109.4,312.2 109.6,312.2 109.7,312.2 109.7,312.2 110.7,312.3 111.7,312.3 112.7,312.3 113.7,312.3 114.7,312.3 115.7,312.3 116.7,312.3 117.7,312.4 118.7,312.4 119.7,312.4 120.7,312.4 121.7,312.4 122.7,312.4 123.7,312.4 124.7,312.4 125.7,312.4 126.8,312.4 127.8,312.4 128.8,312.4 129.8,312.4 130.8,312.4 131.8,312.4 132.8,312.4 133.8,312.4 134.8,312.4 135.8,312.4 136.8,312.4 137.8,312.4 138.8,312.4 139.8,312.4 140.8,312.4 141.8,312.4 142.8,312.4 143.8,312.4 144.8,312.4 145.8,312.4 146.8,312.3 147.8,312.3 147.8,312.3 148.0,312.3 148.2,312.3 148.3,312.3 148.5,312.3 148.7,312.3 148.8,312.3 148.9,312.3 149.0,312.3 149.2,312.2 149.4,312.2 149.6,312.2 149.7,312.2 149.8,312.2 149.9,312.1 150.1,312.1 150.3,312.0 150.4,311.9 150.6,311.8 150.8,311.6 150.8,311.6 151.0,311.4 151.1,311.1 151.3,310.8 151.5,310.4 151.7,310.0 151.8,309.7 151.8,309.6 152.0,309.3 152.2,309.2 152.4,309.3 152.5,309.6 152.7,310.0 152.8,310.2 152.9,310.4 153.1,310.8 153.2,311.1 153.4,311.4 153.6,311.6 153.8,311.8 153.8,311.8 153.9,311.9 154.1,312.0 154.3,312.1 154.5,312.1 154.6,312.2 154.8,312.2 154.8,312.2 155.0,312.2 155.2,312.2 155.3,312.3 155.5,312.3 155.7,312.3 155.8,312.3 155.9,312.3 156.0,312.3 156.2,312.3 156.4,312.3 156.6,312.3 156.8,312.3 157.8,312.3 158.8,312.4 159.8,312.4 160.8,312.4 161.8,312.4 162.8,312.4 163.8,312.4 164.8,312.4 165.8,312.4 166.8,312.4 167.8,312.4 168.8,312.4 169.8,312.4 170.8,312.4 171.8,312.4 172.8,312.4 173.8,312.4 174.8,312.4 175.8,312.4 176.8,312.4 177.8,312.4 178.8,312.4 179.8,312.4 180.8,312.4 181.8,312.4 182.8,312.4 183.8,312.4 184.8,312.4 185.8,312.4 186.8,312.4 187.8,312.4 188.8,312.4 189.8,312.4 190.8,312.4 191.8,312.4 192.8,312.4 193.8,312.3 194.8,312.3 195.9,312.3 196.9,312.3 197.9,312.3 198.9,312.2 199.9,312.2 200.9,312.1 201.5,312.0 201.6,312.0 201.8,311.9 201.9,311.9 201.9,311.9 202.0,311.8 202.1,311.8 202.3,311.7 202.4,311.7 202.5,311.6 202.7,311.5 202.8,311.4 202.9,311.3 202.9,311.3 203.0,311.1 203.2,310.9 203.3,310.6 203.4,310.2 203.6,309.6 203.7,308.9 203.8,307.9 203.9,307.5 203.9,306.7 204.1,305.2 204.2,303.5 204.3,302.4 204.3,301.6 204.4,300.4 204.5,299.9 204.6,298.8 204.6,298.6 204.7,298.1 204.8,298.6 204.9,298.7 204.9,298.7 205.0,299.8 205.0,300.2 205.1,301.5 205.2,302.2 205.2,303.2 205.3,304.2 205.4,304.9 205.4,305.9 205.5,306.3 205.6,307.3 205.6,307.5 205.7,308.3 205.7,308.4 205.9,309.0 205.9,309.0 205.9,309.0 206.0,309.4 206.0,309.5 206.1,309.6 206.2,309.7 206.3,309.7 206.3,309.7 206.4,309.7 206.5,309.6 206.5,309.5 206.6,309.2 206.6,309.2 206.8,308.7 206.8,308.7 206.9,308.2 206.9,308.0 206.9,307.9 207.0,307.1 207.0,306.9 207.2,306.0 207.2,305.7 207.3,304.8 207.3,304.2 207.4,303.5 207.5,302.6 207.5,302.1 207.6,301.2 207.7,300.8 207.8,300.1 207.8,300.0 207.9,299.7 207.9,299.7 208.1,300.1 208.2,301.3 208.4,302.8 208.5,304.4 208.7,306.0 208.8,307.3 208.9,307.9 208.9,308.4 209.1,309.3 209.2,310.0 209.4,310.4 209.5,310.8 209.7,311.1 209.8,311.3 209.9,311.3 210.0,311.4 210.1,311.5 210.3,311.6 210.4,311.7 210.6,311.8 210.7,311.8 210.8,311.9 210.9,311.9 211.0,311.9 211.1,311.9 211.3,312.0 211.4,312.0 211.6,312.0 211.9,312.1 212.9,312.2 213.9,312.2 214.9,312.3 215.9,312.3 216.9,312.3 217.9,312.3 218.9,312.3 219.9,312.4 220.9,312.4 221.9,312.4 222.9,312.4 223.9,312.4 224.9,312.4 225.9,312.4 226.9,312.4" stroke="#ff2a2a" stroke-width="1.3" fill="none" stroke-linejoin="round" clip-path="url(#cc)"/>
<path d="M22.6,305.5 23.6,305.5 24.6,305.5 25.6,305.5 26.6,305.5 27.6,305.5 28.6,305.5 29.6,305.5 30.6,305.5 31.6,305.5 32.6,305.5 33.6,305.5 34.6,305.5 35.6,305.5 36.6,305.5 37.6,305.5 38.6,305.5 39.6,305.5 40.6,305.5 41.6,305.5 42.6,305.5 43.6,305.5 44.6,305.5 45.6,305.5 46.6,305.5 47.6,305.4 48.6,305.4 49.6,305.4 50.6,305.4 51.6,305.4 52.6,305.4 53.6,305.4 54.6,305.4 55.6,305.3 56.6,305.3 57.7,305.1 57.9,305.1 58.0,305.1 58.2,305.0 58.3,305.0 58.4,305.0 58.6,304.9 58.7,304.9 58.7,304.9 58.8,304.8 58.9,304.7 59.1,304.6 59.2,304.5 59.3,304.4 59.5,304.2 59.6,304.0 59.7,303.9 59.7,303.7 59.8,303.3 60.0,302.7 60.1,302.0 60.2,301.0 60.4,299.7 60.5,298.1 60.6,296.3 60.7,295.7 60.7,294.4 60.9,292.6 61.0,291.3 61.1,290.8 61.3,291.3 61.4,292.6 61.5,294.4 61.6,296.3 61.7,296.6 61.8,298.1 61.9,299.7 62.0,300.9 62.2,301.9 62.3,302.7 62.4,303.3 62.5,303.7 62.7,304.0 62.7,304.0 62.8,304.2 62.9,304.4 63.1,304.5 63.2,304.6 63.3,304.7 63.4,304.7 63.6,304.8 63.7,304.8 63.7,304.9 63.8,304.9 63.9,304.9 64.1,305.0 64.2,305.0 64.3,305.0 64.7,305.1 65.7,305.1 66.7,305.2 67.7,305.1 68.7,305.1 69.7,304.9 70.6,304.7 70.7,304.6 70.8,304.6 70.9,304.5 71.0,304.5 71.2,304.4 71.3,304.3 71.5,304.2 71.6,304.1 71.7,304.0 71.8,303.9 71.9,303.7 72.1,303.5 72.2,303.2 72.4,302.9 72.5,302.4 72.7,301.8 72.7,301.7 72.8,301.0 72.9,299.8 73.1,298.2 73.2,296.1 73.4,293.4 73.5,290.2 73.7,286.5 73.8,282.5 74.0,278.8 74.1,276.1 74.3,275.0 74.4,276.1 74.5,278.8 74.7,282.0 74.7,282.5 74.8,286.5 75.0,290.2 75.1,293.4 75.3,296.0 75.4,298.1 75.6,299.7 75.7,300.6 75.7,300.9 75.9,301.8 76.0,302.4 76.2,302.8 76.3,303.2 76.4,303.4 76.6,303.6 76.7,303.7 76.7,303.8 76.9,303.9 77.0,304.1 77.2,304.2 77.3,304.3 77.5,304.3 77.6,304.4 77.7,304.4 77.8,304.4 77.9,304.5 78.7,304.7 79.7,304.7 80.7,304.7 81.7,304.5 82.7,304.1 83.6,303.3 83.7,303.2 83.7,303.1 83.9,302.9 84.0,302.7 84.1,302.5 84.2,302.2 84.4,301.9 84.5,301.5 84.6,301.1 84.7,300.8 84.8,300.6 84.9,299.9 85.0,299.1 85.1,298.1 85.3,296.7 85.4,294.9 85.5,292.3 85.7,288.8 85.7,287.5 85.8,284.1 85.9,277.9 86.0,270.0 86.2,260.4 86.3,249.4 86.4,237.6 86.6,226.6 86.7,218.5 86.7,217.9 86.8,215.4 86.9,218.5 87.1,226.6 87.2,237.7 87.3,249.4 87.4,260.4 87.6,270.0 87.7,277.3 87.7,277.9 87.8,284.1 88.0,288.9 88.1,292.4 88.2,294.9 88.3,296.8 88.5,298.1 88.6,299.2 88.7,299.7 88.7,299.9 88.9,300.6 89.0,301.1 89.1,301.5 89.2,301.9 89.4,302.2 89.5,302.5 89.6,302.8 89.7,302.9 89.8,303.0 89.9,303.2 90.0,303.3 90.7,304.0 91.7,304.5 92.7,304.8 93.7,304.9 94.7,305.0 95.7,305.1 96.7,305.1 97.7,305.2 98.7,305.1 99.7,305.1 100.7,305.0 101.7,304.9 102.4,304.7 102.6,304.6 102.7,304.6 102.7,304.6 102.9,304.5 103.0,304.4 103.2,304.3 103.3,304.2 103.4,304.1 103.6,304.0 103.7,303.8 103.7,303.8 103.9,303.6 104.0,303.3 104.2,303.0 104.3,302.5 104.5,301.9 104.6,301.1 104.7,300.2 104.8,299.9 104.9,298.3 105.0,296.3 105.2,293.6 105.3,290.4 105.5,286.7 105.6,282.8 105.7,280.5 105.8,279.2 105.9,276.4 106.1,275.4 106.2,276.4 106.4,279.2 106.5,282.8 106.7,286.8 106.7,288.5 106.8,290.4 106.9,293.6 107.1,296.3 107.2,298.3 107.4,299.9 107.5,301.1 107.7,301.9 107.7,302.2 107.8,302.6 108.0,303.0 108.1,303.4 108.3,303.6 108.4,303.8 108.5,304.0 108.7,304.2 108.7,304.2 108.8,304.3 109.0,304.4 109.1,304.5 109.3,304.6 109.4,304.6 109.6,304.7 109.7,304.8 109.7,304.8 110.7,305.0 111.7,305.2 112.7,305.2 113.7,305.3 114.7,305.3 115.7,305.4 116.7,305.4 117.7,305.4 118.7,305.4 119.7,305.4 120.7,305.4 121.7,305.4 122.7,305.4 123.7,305.4 124.7,305.4 125.7,305.5 126.8,305.5 127.8,305.5 128.8,305.5 129.8,305.5 130.8,305.5 131.8,305.5 132.8,305.5 133.8,305.5 134.8,305.5 135.8,305.5 136.8,305.5 137.8,305.5 138.8,305.5 139.8,305.5 140.8,305.5 141.8,305.5 142.8,305.5 143.8,305.5 144.8,305.5 145.8,305.4 146.8,305.4 147.8,305.4 147.8,305.4 148.0,305.4 148.2,305.4 148.3,305.4 148.5,305.4 148.7,305.4 148.8,305.4 148.9,305.4 149.0,305.3 149.2,305.3 149.4,305.3 149.6,305.3 149.7,305.3 149.8,305.3 149.9,305.2 150.1,305.2 150.3,305.1 150.4,305.0 150.6,304.9 150.8,304.7 150.8,304.7 151.0,304.5 151.1,304.2 151.3,303.9 151.5,303.5 151.7,303.1 151.8,302.8 151.8,302.7 152.0,302.4 152.2,302.3 152.4,302.4 152.5,302.7 152.7,303.1 152.8,303.3 152.9,303.5 153.1,303.9 153.2,304.2 153.4,304.5 153.6,304.7 153.8,304.9 153.8,304.9 153.9,305.0 154.1,305.1 154.3,305.2 154.5,305.2 154.6,305.3 154.8,305.3 154.8,305.3 155.0,305.3 155.2,305.3 155.3,305.3 155.5,305.4 155.7,305.4 155.8,305.4 155.9,305.4 156.0,305.4 156.2,305.4 156.4,305.4 156.6,305.4 156.8,305.4 157.8,305.4 158.8,305.5 159.8,305.5 160.8,305.5 161.8,305.5 162.8,305.5 163.8,305.5 164.8,305.5 165.8,305.5 166.8,305.5 167.8,305.5 168.8,305.5 169.8,305.5 170.8,305.5 171.8,305.5 172.8,305.5 173.8,305.5 174.8,305.5 175.8,305.5 176.8,305.5 177.8,305.5 178.8,305.5 179.8,305.5 180.8,305.5 181.8,305.5 182.8,305.5 183.8,305.5 184.8,305.5 185.8,305.5 186.8,305.5 187.8,305.5 188.8,305.5 189.8,305.5 190.8,305.5 191.8,305.5 192.8,305.5 193.8,305.4 194.8,305.4 195.9,305.4 196.9,305.4 197.9,305.4 198.9,305.3 199.9,305.3 200.9,305.2 201.5,305.1 201.6,305.0 201.8,305.0 201.9,305.0 201.9,305.0 202.0,304.9 202.1,304.9 202.3,304.8 202.4,304.7 202.5,304.7 202.7,304.6 202.8,304.5 202.9,304.4 202.9,304.3 203.0,304.2 203.2,303.9 203.3,303.6 203.4,303.2 203.6,302.6 203.7,301.8 203.8,300.8 203.9,300.4 203.9,299.5 204.1,297.9 204.2,296.1 204.3,294.9 204.3,294.2 204.4,292.8 204.5,292.3 204.6,291.1 204.6,291.0 204.7,290.5 204.8,290.9 204.9,291.1 204.9,291.1 205.0,292.2 205.0,292.7 205.1,294.0 205.2,294.8 205.2,295.9 205.3,296.9 205.4,297.6 205.4,298.7 205.5,299.1 205.6,300.2 205.6,300.4 205.7,301.3 205.7,301.3 205.9,302.0 205.9,302.0 205.9,302.1 206.0,302.5 206.0,302.5 206.1,302.7 206.2,302.8 206.3,302.9 206.3,302.9 206.4,302.8 206.5,302.7 206.5,302.7 206.6,302.5 206.6,302.4 206.8,302.0 206.8,301.9 206.9,301.5 206.9,301.3 206.9,301.3 207.0,300.5 207.0,300.4 207.2,299.5 207.2,299.2 207.3,298.4 207.3,297.8 207.4,297.1 207.5,296.4 207.5,295.9 207.6,295.0 207.7,294.7 207.8,294.0 207.8,293.9 207.9,293.7 207.9,293.7 208.1,294.1 208.2,295.1 208.4,296.6 208.5,298.1 208.7,299.5 208.8,300.8 208.9,301.3 208.9,301.8 209.1,302.6 209.2,303.2 209.4,303.7 209.5,304.0 209.7,304.2 209.8,304.4 209.9,304.5 210.0,304.6 210.1,304.7 210.3,304.8 210.4,304.8 210.6,304.9 210.7,304.9 210.8,305.0 210.9,305.0 211.0,305.0 211.1,305.1 211.3,305.1 211.4,305.1 211.6,305.2 211.9,305.2 212.9,305.3 213.9,305.4 214.9,305.4 215.9,305.4 216.9,305.4 217.9,305.4 218.9,305.4 219.9,305.5 220.9,305.5 221.9,305.5 222.9,305.5 223.9,305.5 224.9,305.5 225.9,305.5 226.9,305.5" stroke="#2424ff" stroke-width="1.3" fill="none" stroke-linejoin="round" clip-path="url(#cc)"/>
<path d="M22.6,327.2 23.6,327.2 24.6,327.2 25.6,327.2 26.6,327.2 27.6,327.2 28.6,327.2 29.6,327.2 30.6,327.2 31.6,327.2 32.6,327.2 33.6,327.2 34.6,327.2 35.6,327.2 36.6,327.2 37.6,327.2 38.6,327.2 39.6,327.2 40.6,327.2 41.6,327.2 42.6,327.2 43.6,327.2 44.6,327.2 45.6,327.2 46.6,327.2 47.6,327.2 48.6,327.2 49.6,327.2 50.6,327.2 51.6,327.2 52.6,327.2 53.6,327.2 54.6,327.1 55.6,327.1 56.6,327.1 57.7,327.1 58.7,327.1 59.7,327.0 60.2,327.0 60.4,327.0 60.5,326.9 60.6,326.9 60.7,326.9 60.8,326.9 60.9,326.9 61.0,326.8 61.1,326.8 61.3,326.8 61.4,326.7 61.5,326.7 61.7,326.6 61.7,326.6 61.8,326.5 61.9,326.4 62.0,326.2 62.2,326.0 62.3,325.7 62.4,325.3 62.6,324.7 62.7,324.2 62.7,324.1 62.8,323.2 62.9,322.3 63.1,321.3 63.2,320.3 63.3,319.6 63.5,319.3 63.6,319.6 63.7,319.9 63.7,320.3 63.8,321.2 64.0,322.2 64.1,323.2 64.2,323.8 64.2,324.0 64.4,324.7 64.4,324.9 64.5,325.2 64.6,325.6 64.6,325.7 64.7,325.8 64.7,326.0 64.8,326.1 64.9,326.2 65.0,326.3 65.0,326.3 65.1,326.4 65.2,326.5 65.3,326.5 65.4,326.6 65.4,326.6 65.5,326.6 65.6,326.7 65.6,326.7 65.7,326.7 65.8,326.7 65.8,326.7 65.9,326.7 66.0,326.7 66.2,326.7 66.2,326.8 66.3,326.8 66.4,326.8 66.4,326.8 66.5,326.8 66.6,326.7 66.7,326.7 66.7,326.7 66.8,326.7 67.0,326.7 67.3,326.6 67.5,326.5 67.7,326.4 67.7,326.4 67.9,326.2 68.1,326.0 68.3,325.7 68.5,325.4 68.7,325.1 68.7,325.0 68.9,324.7 69.1,324.5 69.3,324.4 69.5,324.5 69.7,324.7 69.7,324.7 69.9,325.0 70.1,325.4 70.3,325.7 70.5,326.0 70.7,326.2 70.7,326.3 70.9,326.4 71.1,326.6 71.3,326.7 71.5,326.8 71.7,326.8 71.7,326.8 72.0,326.8 72.2,326.9 72.4,326.9 72.6,326.9 72.7,326.9 72.8,326.9 73.0,326.9 73.2,326.9 73.4,326.9 73.6,326.9 73.7,326.9 73.8,326.9 74.0,326.9 74.2,326.9 74.4,326.9 74.7,326.9 75.7,326.9 76.7,326.7 76.9,326.7 77.0,326.6 77.1,326.6 77.3,326.6 77.4,326.5 77.5,326.5 77.7,326.4 77.7,326.4 77.8,326.3 77.9,326.2 78.0,326.1 78.2,326.0 78.3,325.9 78.4,325.7 78.6,325.4 78.7,325.0 78.7,325.0 78.8,324.6 78.9,323.9 79.1,323.0 79.2,321.8 79.3,320.2 79.5,318.4 79.6,316.3 79.7,314.5 79.7,314.0 79.8,311.9 80.0,310.3 80.1,309.7 80.2,310.3 80.4,311.9 80.5,314.0 80.6,316.2 80.7,317.5 80.7,318.4 80.9,320.2 81.0,321.7 81.1,322.9 81.3,323.8 81.4,324.5 81.5,325.0 81.6,325.3 81.7,325.4 81.8,325.6 81.9,325.8 82.0,325.9 82.1,326.0 82.3,326.1 82.4,326.2 82.5,326.3 82.7,326.3 82.7,326.3 82.8,326.4 82.9,326.4 83.0,326.4 83.2,326.4 83.3,326.5 83.7,326.5 84.7,326.5 85.7,326.2 86.5,325.8 86.6,325.7 86.7,325.7 86.8,325.6 86.9,325.5 87.0,325.4 87.2,325.2 87.3,325.0 87.4,324.8 87.5,324.5 87.7,324.2 87.7,324.1 87.8,323.8 87.9,323.3 88.1,322.7 88.2,321.9 88.3,320.8 88.4,319.3 88.6,317.1 88.7,314.4 88.7,314.3 88.8,310.5 89.0,305.8 89.1,300.0 89.2,293.3 89.3,286.3 89.5,279.6 89.6,274.7 89.7,272.9 89.7,272.8 89.9,274.7 90.0,279.6 90.1,286.3 90.2,293.3 90.4,300.0 90.5,305.8 90.6,310.6 90.7,312.9 90.8,314.3 90.9,317.2 91.0,319.3 91.1,320.8 91.3,321.9 91.4,322.8 91.5,323.4 91.7,323.9 91.7,324.0 91.8,324.2 91.9,324.6 92.0,324.8 92.2,325.1 92.3,325.2 92.4,325.4 92.6,325.6 92.7,325.7 92.7,325.7 92.8,325.8 92.9,325.9 93.7,326.3 94.7,326.6 95.7,326.8 96.7,326.9 97.7,327.0 98.7,327.0 99.7,327.1 100.7,327.1 101.7,327.1 102.7,327.1 103.7,327.1 104.7,327.1 105.7,327.1 106.7,327.1 107.7,327.1 108.7,327.2 109.7,327.2 110.7,327.2 111.7,327.2 112.7,327.2 113.7,327.2 114.7,327.2 115.7,327.2 116.7,327.2 117.7,327.2 118.7,327.2 119.7,327.2 120.7,327.2 121.7,327.2 122.7,327.2 123.7,327.2 124.7,327.2 125.7,327.2 126.8,327.2 127.8,327.2 128.8,327.2 129.8,327.2 130.8,327.2 131.8,327.2 132.8,327.2 133.8,327.2 134.8,327.2 135.8,327.2 136.8,327.2 137.8,327.2 138.8,327.2 139.8,327.2 140.8,327.2 141.8,327.2 142.8,327.2 143.8,327.2 144.8,327.2 145.8,327.2 146.8,327.2 147.8,327.2 148.8,327.2 149.8,327.1 150.8,327.1 151.8,327.1 152.8,327.0 152.9,327.0 153.1,327.0 153.2,327.0 153.3,327.0 153.5,327.0 153.6,326.9 153.8,326.9 153.8,326.9 153.9,326.9 154.1,326.8 154.2,326.8 154.4,326.8 154.5,326.7 154.7,326.6 154.8,326.5 154.8,326.5 155.0,326.4 155.1,326.2 155.2,325.9 155.4,325.5 155.5,325.0 155.7,324.4 155.8,323.8 155.8,323.6 156.0,322.7 156.1,321.8 156.3,320.9 156.4,320.2 156.6,320.0 156.7,320.2 156.8,320.6 156.9,320.9 157.0,321.8 157.1,322.7 157.3,323.6 157.4,324.4 157.6,325.0 157.7,325.5 157.8,325.7 157.9,325.9 158.0,326.2 158.2,326.4 158.3,326.5 158.5,326.6 158.6,326.7 158.7,326.8 158.8,326.8 158.9,326.8 159.0,326.9 159.2,326.9 159.3,326.9 159.5,326.9 159.6,327.0 159.8,327.0 159.8,327.0 159.9,327.0 160.1,327.0 160.2,327.0 160.8,327.1 161.8,327.1 162.8,327.1 163.8,327.2 164.8,327.2 165.8,327.2 166.8,327.2 167.8,327.2 168.8,327.2 169.8,327.2 170.8,327.2 171.8,327.2 172.8,327.2 173.8,327.2 174.8,327.2 175.8,327.2 176.8,327.2 177.8,327.2 178.8,327.2 179.8,327.2 180.8,327.2 181.8,327.2 182.8,327.2 183.8,327.2 184.8,327.2 185.8,327.2 186.8,327.2 187.8,327.2 188.8,327.2 189.8,327.2 190.8,327.2 191.8,327.2 192.8,327.2 193.8,327.2 194.8,327.2 195.9,327.2 196.9,327.2 197.9,327.2 198.9,327.2 199.9,327.2 200.9,327.2 201.9,327.2 202.9,327.2 203.9,327.1 204.9,327.1 205.7,327.1 205.9,327.0 205.9,327.0 206.0,327.0 206.2,327.0 206.3,327.0 206.5,327.0 206.6,327.0 206.8,326.9 206.9,326.9 206.9,326.9 207.0,326.9 207.2,326.8 207.3,326.8 207.5,326.7 207.6,326.6 207.8,326.5 207.9,326.4 207.9,326.3 208.1,326.1 208.2,325.7 208.4,325.3 208.5,324.8 208.7,324.1 208.8,323.3 208.9,323.0 208.9,322.5 209.1,321.8 209.2,321.2 209.4,321.0 209.5,321.2 209.7,321.8 209.8,322.5 209.9,322.8 210.0,323.3 210.1,324.1 210.3,324.8 210.4,325.3 210.6,325.7 210.7,326.1 210.8,326.3 210.9,326.3 211.0,326.5 211.1,326.6 211.3,326.7 211.4,326.8 211.6,326.8 211.7,326.9 211.9,326.9 211.9,326.9 212.0,326.9 212.2,327.0 212.3,327.0 212.4,327.0 212.6,327.0 212.7,327.0 212.9,327.0 212.9,327.0 213.0,327.1 213.9,327.1 214.9,327.1 215.9,327.2 216.9,327.2 217.9,327.2 218.9,327.2 219.9,327.2 220.9,327.2 221.9,327.2 222.9,327.2 223.9,327.2 224.9,327.2 225.9,327.2 226.9,327.2" stroke="#22a198" stroke-width="1.3" fill="none" stroke-linejoin="round" clip-path="url(#cc)"/>
<text x="133.2" y="195.03" font-size="9.5" text-anchor="middle" fill="#111">*</text>
<text x="137.6" y="195" font-size="7.6" fill="#111">ZrN</text>
<path d="M132.52,199.96 L132.13,204.64 M134.27,199.96 L133.88,204.64 M131.25,201.48 L135.15,201.48 M131.25,203.12 L135.15,203.12" stroke="#6a6a6a" stroke-width="0.75" fill="none"/>
<text x="137.6" y="205.1" font-size="7.6" fill="#111">Zr<tspan font-size="5.2" dy="2">2</tspan><tspan dy="-2">N</tspan></text>
<path d="M133.8,210.66 L135.35,212.6 L133.8,214.54 L132.25,212.6Z" fill="#111"/>
<text x="138.4" y="215.1" font-size="7.6" fill="#111">Zr</text>
<line x1="182.4" y1="190.4" x2="199.3" y2="190.4" stroke="#2424ff" stroke-width="1.4"/>
<text x="0" y="0" font-size="8.1" transform="translate(200.5 193.2) scale(0.87 1)" fill="#111">S-9</text>
<line x1="182.4" y1="199.4" x2="199.3" y2="199.4" stroke="#ff2a2a" stroke-width="1.4"/>
<text x="0" y="0" font-size="8.1" transform="translate(200.5 202.2) scale(0.87 1)" fill="#111">S-8</text>
<line x1="182.4" y1="208.6" x2="199.3" y2="208.6" stroke="#1e1e1e" stroke-width="1.4"/>
<text x="0" y="0" font-size="8.1" transform="translate(200.5 211.4) scale(0.87 1)" fill="#111">S-7</text>
<line x1="182.4" y1="218" x2="199.3" y2="218" stroke="#22a198" stroke-width="1.4"/>
<text x="0" y="0" font-size="8.1" transform="translate(200.5 220.8) scale(0.87 1)" fill="#111">blank</text>
<text x="64.18" y="250" font-size="6.6" text-anchor="middle" font-weight="bold" transform="rotate(-90 64.18 250)" fill="#111">(200)</text>
<path d="M61.57,258.84 L61.21,263.16 M63.19,258.84 L62.83,263.16 M60.4,260.24 L64,260.24 M60.4,261.76 L64,261.76" stroke="#6a6a6a" stroke-width="0.75" fill="none"/>
<text x="76.88" y="258.6" font-size="6.6" text-anchor="middle" font-weight="bold" transform="rotate(-90 76.88 258.6)" fill="#111">(111)</text>
<text x="75.2" y="272.72" font-size="7" text-anchor="middle" fill="#5a5a5a">✱</text>
<text x="88.88" y="192.9" font-size="6.6" text-anchor="middle" font-weight="bold" transform="rotate(-90 88.88 192.9)" fill="#111">(111)</text>
<path d="M86.07,202.84 L85.71,207.16 M87.69,202.84 L87.33,207.16 M84.9,204.24 L88.5,204.24 M84.9,205.76 L88.5,205.76" stroke="#6a6a6a" stroke-width="0.75" fill="none"/>
<text x="94.38" y="259.4" font-size="6.6" text-anchor="middle" font-weight="bold" transform="rotate(-90 94.38 259.4)" fill="#111">(101)</text>
<path d="M91.1,267.56 L92.65,269.5 L91.1,271.44 L89.55,269.5Z" fill="#111"/>
<text x="109.58" y="258.4" font-size="6.6" text-anchor="middle" font-weight="bold" transform="rotate(-90 109.58 258.4)" fill="#111">(200)</text>
<text x="106.8" y="272.32" font-size="7" text-anchor="middle" fill="#5a5a5a">✱</text>
<text x="155.38" y="283.2" font-size="6.6" text-anchor="middle" font-weight="bold" transform="rotate(-90 155.38 283.2)" fill="#111">(121)</text>
<path d="M152.57,292.84 L152.21,297.16 M154.19,292.84 L153.83,297.16 M151.4,294.24 L155,294.24 M151.4,295.76 L155,295.76" stroke="#6a6a6a" stroke-width="0.75" fill="none"/>
<text x="206.88" y="272.2" font-size="6.6" text-anchor="middle" font-weight="bold" transform="rotate(-90 206.88 272.2)" fill="#111">(002)</text>
<path d="M203.87,281.34 L203.51,285.66 M205.49,281.34 L205.13,285.66 M202.7,282.74 L206.3,282.74 M202.7,284.26 L206.3,284.26" stroke="#6a6a6a" stroke-width="0.75" fill="none"/>
<text x="213.88" y="272.2" font-size="6.6" text-anchor="middle" font-weight="bold" transform="rotate(-90 213.88 272.2)" fill="#111">(220)</text>
<text x="210.1" y="287.52" font-size="7" text-anchor="middle" fill="#5a5a5a">✱</text>
<circle cx="63.5" cy="315.8" r="1.4" fill="#111"/>
<circle cx="80.3" cy="307.7" r="1.4" fill="#111"/>
<path d="M157.8,314.56 L159.35,316.5 L157.8,318.44 L156.25,316.5Z" fill="#111"/>
<path d="M210.1,317.06 L211.65,319 L210.1,320.94 L208.55,319Z" fill="#111"/>
<rect x="265.8" y="185.5" width="204.8" height="150.1" stroke="#6a6a6a" stroke-width="1.45" fill="none"/>
<line x1="265.8" y1="335.6" x2="470.6" y2="335.6" stroke="#444" stroke-width="1.2"/>
<line x1="287.3" y1="335.6" x2="287.3" y2="338.2" stroke="#444" stroke-width="1.1"/>
<text x="287.3" y="347.6" font-size="7.9" text-anchor="middle" fill="#111">38.5</text>
<line x1="341.2" y1="335.6" x2="341.2" y2="338.2" stroke="#444" stroke-width="1.1"/>
<text x="341.2" y="347.6" font-size="7.9" text-anchor="middle" fill="#111">39.0</text>
<line x1="395.1" y1="335.6" x2="395.1" y2="338.2" stroke="#444" stroke-width="1.1"/>
<text x="395.1" y="347.6" font-size="7.9" text-anchor="middle" fill="#111">39.5</text>
<line x1="449" y1="335.6" x2="449" y2="338.2" stroke="#444" stroke-width="1.1"/>
<text x="449" y="347.6" font-size="7.9" text-anchor="middle" fill="#111">40.0</text>
<line x1="314.25" y1="335.6" x2="314.25" y2="337.1" stroke="#444" stroke-width="1"/>
<line x1="368.15" y1="335.6" x2="368.15" y2="337.1" stroke="#444" stroke-width="1"/>
<line x1="422.05" y1="335.6" x2="422.05" y2="337.1" stroke="#444" stroke-width="1"/>
<text x="370.5" y="359.3" font-size="11.5" text-anchor="middle" fill="#111">2θ (°)</text>
<text x="258.2" y="260.3" font-size="12.9" text-anchor="middle" transform="rotate(-90 258.2 260.3)" fill="#111">Intensity</text>
<text x="270.7" y="198" font-size="12.3" fill="#111">(d)</text>
<text x="288.6" y="198" font-size="11.3" fill="#111">ZrN (200)</text>
<path d="M287.3,321.8 288.4,321.8 289.5,321.8 290.5,321.8 291.6,321.8 292.7,321.8 293.8,321.8 294.8,321.8 295.9,321.8 297.0,321.8 298.1,321.8 299.2,321.8 300.2,321.8 301.3,321.8 302.4,321.8 303.5,321.8 304.5,321.8 305.6,321.8 306.7,321.8 307.8,321.8 308.9,321.8 309.9,321.8 311.0,321.8 312.1,321.8 313.2,321.8 314.2,321.7 315.3,321.8 316.4,321.8 317.5,321.8 318.6,321.8 319.6,321.8 320.7,321.8 321.8,321.8 322.9,321.8 324.0,321.8 325.0,321.8 326.1,321.8 327.2,321.8 328.3,321.8 329.3,321.8 330.4,321.8 331.5,321.8 332.6,321.8 333.7,321.7 334.7,321.7 335.8,321.7 336.9,321.7 338.0,321.8 339.0,321.8 340.1,321.8 341.2,321.8 342.3,321.8 343.4,321.7 344.4,321.7 345.5,321.7 346.6,321.7 347.7,321.7 348.7,321.7 349.8,321.7 350.9,321.7 352.0,321.7 353.1,321.6 354.1,321.6 355.2,321.6 356.3,321.6 357.4,321.6 358.4,321.6 359.5,321.6 360.6,321.6 361.7,321.5 362.8,321.6 363.8,321.5 364.9,321.5 366.0,321.6 367.1,321.6 368.1,321.5 369.2,321.5 370.3,321.5 371.4,321.4 372.5,321.3 373.5,321.2 374.6,321.3 375.7,321.4 376.8,321.5 377.9,321.5 378.9,321.4 380.0,321.3 381.1,321.3 382.2,321.4 383.2,321.3 384.3,321.2 385.4,321.3 386.5,321.3 387.6,321.3 388.6,321.4 389.7,321.4 390.8,321.4 391.9,321.5 392.9,321.5 394.0,321.5 395.1,321.5 396.2,321.6 397.3,321.7 398.3,321.7 399.4,321.7 400.5,321.7 401.6,321.7 402.6,321.7 403.7,321.7 404.8,321.7 405.9,321.7 407.0,321.7 408.0,321.7 409.1,321.7 410.2,321.8 411.3,321.8 412.3,321.8 413.4,321.8 414.5,321.8 415.6,321.8 416.7,321.8 417.7,321.7 418.8,321.7 419.9,321.7 421.0,321.8 422.1,321.8 423.1,321.8 424.2,321.8 425.3,321.8 426.4,321.8 427.4,321.8 428.5,321.8 429.6,321.8 430.7,321.7 431.8,321.7 432.8,321.8 433.9,321.8 435.0,321.8 436.1,321.8 437.1,321.8 438.2,321.8 439.3,321.8 440.4,321.7 441.5,321.8 442.5,321.8 443.6,321.8 444.7,321.8 445.8,321.8 446.8,321.8 447.9,321.8 449.0,321.8" stroke="#a59a1a" stroke-width="1.35" fill="none" stroke-linejoin="round" clip-path="url(#cd)"/>
<path d="M287.3,321.8 288.4,321.8 289.5,321.8 290.5,321.7 291.6,321.8 292.7,321.8 293.8,321.8 294.8,321.8 295.9,321.8 297.0,321.8 298.1,321.8 299.2,321.8 300.2,321.8 301.3,321.8 302.4,321.8 303.5,321.8 304.5,321.8 305.6,321.8 306.7,321.8 307.8,321.8 308.9,321.8 309.9,321.8 311.0,321.8 312.1,321.8 313.2,321.8 314.2,321.8 315.3,321.7 316.4,321.7 317.5,321.7 318.6,321.8 319.6,321.8 320.7,321.8 321.8,321.8 322.9,321.8 324.0,321.8 325.0,321.8 326.1,321.8 327.2,321.8 328.3,321.8 329.3,321.8 330.4,321.8 331.5,321.8 332.6,321.8 333.7,321.8 334.7,321.8 335.8,321.8 336.9,321.8 338.0,321.7 339.0,321.7 340.1,321.7 341.2,321.7 342.3,321.7 343.4,321.7 344.4,321.7 345.5,321.7 346.6,321.6 347.7,321.6 348.7,321.7 349.8,321.7 350.9,321.7 352.0,321.7 353.1,321.6 354.1,321.5 355.2,321.4 356.3,321.5 357.4,321.5 358.4,321.4 359.5,321.3 360.6,321.3 361.7,321.3 362.8,321.4 363.8,321.3 364.9,321.2 366.0,321.0 367.1,321.0 368.1,321.0 369.2,321.0 370.3,321.0 371.4,320.8 372.5,320.8 373.5,320.9 374.6,321.0 375.7,320.9 376.8,320.8 377.9,320.9 378.9,321.0 380.0,320.9 381.1,320.8 382.2,320.8 383.2,320.8 384.3,320.9 385.4,321.1 386.5,321.0 387.6,320.9 388.6,320.9 389.7,321.1 390.8,321.2 391.9,321.1 392.9,321.2 394.0,321.3 395.1,321.3 396.2,321.3 397.3,321.4 398.3,321.4 399.4,321.4 400.5,321.5 401.6,321.5 402.6,321.5 403.7,321.5 404.8,321.6 405.9,321.6 407.0,321.6 408.0,321.6 409.1,321.6 410.2,321.6 411.3,321.7 412.3,321.7 413.4,321.8 414.5,321.8 415.6,321.8 416.7,321.8 417.7,321.8 418.8,321.8 419.9,321.7 421.0,321.7 422.1,321.7 423.1,321.7 424.2,321.7 425.3,321.7 426.4,321.8 427.4,321.8 428.5,321.8 429.6,321.8 430.7,321.8 431.8,321.8 432.8,321.8 433.9,321.8 435.0,321.8 436.1,321.8 437.1,321.8 438.2,321.8 439.3,321.7 440.4,321.7 441.5,321.8 442.5,321.8 443.6,321.8 444.7,321.8 445.8,321.7 446.8,321.7 447.9,321.8 449.0,321.7" stroke="#2ee8f2" stroke-width="1.35" fill="none" stroke-linejoin="round" clip-path="url(#cd)"/>
<path d="M287.3,321.8 288.4,321.7 289.5,321.7 290.5,321.6 291.6,321.6 292.7,321.6 293.8,321.6 294.8,321.6 295.9,321.7 297.0,321.6 298.1,321.5 299.2,321.5 300.2,321.4 301.3,321.4 302.4,321.6 303.5,321.7 304.5,321.6 305.6,321.5 306.7,321.4 307.8,321.5 308.9,321.5 309.9,321.5 311.0,321.6 312.1,321.6 313.2,321.6 314.2,321.4 315.3,321.3 316.4,321.4 317.5,321.5 318.6,321.6 319.6,321.5 320.7,321.3 321.8,321.3 322.9,321.3 324.0,321.3 325.0,321.3 326.1,321.2 327.2,321.4 328.3,321.4 329.3,321.2 330.4,321.2 331.5,321.2 332.6,321.2 333.7,321.1 334.7,321.0 335.8,320.8 336.9,320.8 338.0,320.9 339.0,320.8 340.1,320.7 341.2,320.7 342.3,320.7 343.4,320.5 344.4,320.5 345.5,320.5 346.6,320.3 347.7,320.1 348.7,319.9 349.8,319.9 350.9,319.7 352.0,319.4 353.1,319.3 354.1,319.1 355.2,318.6 356.3,318.4 357.4,318.5 358.4,318.2 359.5,317.4 360.6,316.8 361.7,316.7 362.8,316.4 363.8,315.4 364.9,314.8 366.0,314.6 367.1,314.0 368.1,313.3 369.2,312.9 370.3,312.4 371.4,311.8 372.5,311.1 373.5,310.8 374.6,310.4 375.7,309.8 376.8,309.5 377.9,309.3 378.9,308.8 380.0,308.3 381.1,307.8 382.2,307.5 383.2,307.8 384.3,308.4 385.4,308.7 386.5,308.5 387.6,308.5 388.6,309.2 389.7,309.4 390.8,309.3 391.9,309.9 392.9,310.7 394.0,311.2 395.1,312.1 396.2,313.4 397.3,314.3 398.3,314.6 399.4,314.8 400.5,315.3 401.6,315.6 402.6,315.9 403.7,316.6 404.8,317.5 405.9,318.3 407.0,318.6 408.0,318.8 409.1,318.8 410.2,318.9 411.3,319.1 412.3,319.3 413.4,319.5 414.5,319.8 415.6,320.1 416.7,320.2 417.7,320.4 418.8,320.4 419.9,320.4 421.0,320.6 422.1,320.9 423.1,320.9 424.2,320.8 425.3,321.0 426.4,321.0 427.4,321.0 428.5,321.0 429.6,320.9 430.7,320.9 431.8,321.2 432.8,321.3 433.9,321.1 435.0,321.2 436.1,321.4 437.1,321.5 438.2,321.5 439.3,321.4 440.4,321.4 441.5,321.3 442.5,321.2 443.6,321.2 444.7,321.3 445.8,321.4 446.8,321.4 447.9,321.2 449.0,321.2" stroke="#151515" stroke-width="1.35" fill="none" stroke-linejoin="round" clip-path="url(#cd)"/>
<path d="M287.3,321.7 288.4,321.7 289.5,321.7 290.5,321.7 291.6,321.8 292.7,321.8 293.8,321.8 294.8,321.8 295.9,321.7 297.0,321.7 298.1,321.7 299.2,321.8 300.2,321.8 301.3,321.8 302.4,321.7 303.5,321.8 304.5,321.8 305.6,321.8 306.7,321.8 307.8,321.7 308.9,321.7 309.9,321.7 311.0,321.7 312.1,321.7 313.2,321.7 314.2,321.7 315.3,321.6 316.4,321.7 317.5,321.7 318.6,321.7 319.6,321.6 320.7,321.6 321.8,321.6 322.9,321.7 324.0,321.7 325.0,321.7 326.1,321.6 327.2,321.6 328.3,321.5 329.3,321.5 330.4,321.6 331.5,321.6 332.6,321.6 333.7,321.6 334.7,321.6 335.8,321.6 336.9,321.6 338.0,321.5 339.0,321.5 340.1,321.5 341.2,321.4 342.3,321.4 343.4,321.4 344.4,321.3 345.5,321.2 346.6,321.1 347.7,321.1 348.7,321.1 349.8,321.1 350.9,321.1 352.0,321.0 353.1,320.9 354.1,320.8 355.2,320.7 356.3,320.7 357.4,320.6 358.4,320.6 359.5,320.6 360.6,320.5 361.7,320.2 362.8,320.0 363.8,319.9 364.9,319.9 366.0,319.8 367.1,319.8 368.1,319.7 369.2,319.4 370.3,319.3 371.4,319.3 372.5,319.2 373.5,319.1 374.6,319.0 375.7,318.9 376.8,318.9 377.9,318.7 378.9,318.6 380.0,318.6 381.1,318.6 382.2,318.7 383.2,318.8 384.3,319.0 385.4,319.1 386.5,319.1 387.6,319.3 388.6,319.2 389.7,319.1 390.8,319.2 391.9,319.5 392.9,319.8 394.0,319.9 395.1,320.0 396.2,320.2 397.3,320.3 398.3,320.2 399.4,320.3 400.5,320.5 401.6,320.6 402.6,320.6 403.7,320.7 404.8,320.8 405.9,320.8 407.0,320.9 408.0,321.0 409.1,321.1 410.2,321.2 411.3,321.2 412.3,321.2 413.4,321.3 414.5,321.3 415.6,321.4 416.7,321.4 417.7,321.4 418.8,321.3 419.9,321.4 421.0,321.4 422.1,321.4 423.1,321.5 424.2,321.6 425.3,321.6 426.4,321.6 427.4,321.6 428.5,321.6 429.6,321.6 430.7,321.6 431.8,321.6 432.8,321.7 433.9,321.7 435.0,321.6 436.1,321.6 437.1,321.7 438.2,321.7 439.3,321.7 440.4,321.6 441.5,321.6 442.5,321.6 443.6,321.6 444.7,321.6 445.8,321.7 446.8,321.7 447.9,321.7 449.0,321.7" stroke="#9a3a3a" stroke-width="1.35" fill="none" stroke-linejoin="round" clip-path="url(#cd)"/>
<path d="M287.3,321.4 288.4,321.4 289.5,321.5 290.5,321.7 291.6,321.7 292.7,321.5 293.8,321.6 294.8,321.8 295.9,321.7 297.0,321.6 298.1,321.6 299.2,321.6 300.2,321.6 301.3,321.5 302.4,321.4 303.5,321.5 304.5,321.6 305.6,321.6 306.7,321.5 307.8,321.5 308.9,321.5 309.9,321.5 311.0,321.6 312.1,321.6 313.2,321.6 314.2,321.6 315.3,321.6 316.4,321.5 317.5,321.3 318.6,321.3 319.6,321.5 320.7,321.4 321.8,321.3 322.9,321.3 324.0,321.3 325.0,321.3 326.1,321.4 327.2,321.4 328.3,321.3 329.3,321.2 330.4,321.2 331.5,321.1 332.6,321.0 333.7,321.0 334.7,321.2 335.8,321.3 336.9,321.3 338.0,321.3 339.0,321.3 340.1,321.2 341.2,321.1 342.3,321.1 343.4,321.2 344.4,321.0 345.5,320.7 346.6,320.8 347.7,320.8 348.7,320.4 349.8,320.2 350.9,320.1 352.0,320.0 353.1,319.8 354.1,319.6 355.2,319.4 356.3,319.0 357.4,318.6 358.4,318.3 359.5,317.9 360.6,317.6 361.7,317.4 362.8,317.1 363.8,316.5 364.9,316.2 366.0,315.9 367.1,315.1 368.1,314.7 369.2,314.2 370.3,313.7 371.4,313.2 372.5,312.3 373.5,311.3 374.6,310.5 375.7,310.3 376.8,310.2 377.9,309.4 378.9,308.5 380.0,308.3 381.1,308.7 382.2,309.2 383.2,309.1 384.3,309.4 385.4,309.8 386.5,309.9 387.6,310.4 388.6,310.8 389.7,311.1 390.8,311.4 391.9,311.5 392.9,311.7 394.0,312.8 395.1,313.7 396.2,314.1 397.3,314.4 398.3,314.9 399.4,315.4 400.5,316.1 401.6,316.6 402.6,317.0 403.7,317.4 404.8,317.5 405.9,317.9 407.0,318.4 408.0,318.6 409.1,318.7 410.2,319.2 411.3,319.6 412.3,319.9 413.4,320.0 414.5,319.9 415.6,320.2 416.7,320.3 417.7,320.4 418.8,320.7 419.9,320.7 421.0,320.6 422.1,320.6 423.1,320.9 424.2,321.1 425.3,321.1 426.4,321.1 427.4,321.3 428.5,321.2 429.6,321.1 430.7,321.3 431.8,321.5 432.8,321.3 433.9,321.2 435.0,321.3 436.1,321.2 437.1,321.3 438.2,321.5 439.3,321.5 440.4,321.5 441.5,321.3 442.5,321.4 443.6,321.4 444.7,321.3 445.8,321.3 446.8,321.6 447.9,321.7 449.0,321.6" stroke="#ff2a2a" stroke-width="1.35" fill="none" stroke-linejoin="round" clip-path="url(#cd)"/>
<path d="M287.3,321.3 288.4,321.4 289.5,321.3 290.5,321.3 291.6,321.3 292.7,321.3 293.8,321.4 294.8,321.5 295.9,321.4 297.0,321.3 298.1,321.3 299.2,321.3 300.2,321.3 301.3,321.4 302.4,321.3 303.5,321.3 304.5,321.2 305.6,321.1 306.7,321.1 307.8,321.1 308.9,321.0 309.9,321.0 311.0,320.9 312.1,320.9 313.2,321.1 314.2,321.0 315.3,320.9 316.4,320.8 317.5,320.9 318.6,321.0 319.6,320.8 320.7,320.7 321.8,320.6 322.9,320.5 324.0,320.5 325.0,320.6 326.1,320.7 327.2,320.6 328.3,320.5 329.3,320.4 330.4,320.3 331.5,320.2 332.6,320.2 333.7,320.0 334.7,319.8 335.8,319.7 336.9,319.6 338.0,319.5 339.0,319.5 340.1,319.3 341.2,319.1 342.3,318.8 343.4,318.6 344.4,318.2 345.5,317.6 346.6,316.9 347.7,316.3 348.7,315.7 349.8,315.3 350.9,314.9 352.0,314.2 353.1,313.2 354.1,312.0 355.2,311.0 356.3,309.9 357.4,308.7 358.4,307.4 359.5,305.9 360.6,304.8 361.7,303.6 362.8,302.1 363.8,300.3 364.9,298.7 366.0,297.6 367.1,296.2 368.1,294.3 369.2,293.3 370.3,292.3 371.4,290.5 372.5,289.2 373.5,289.0 374.6,288.6 375.7,287.9 376.8,288.0 377.9,288.6 378.9,288.7 380.0,288.8 381.1,289.8 382.2,291.1 383.2,291.8 384.3,292.3 385.4,293.6 386.5,295.4 387.6,297.0 388.6,298.4 389.7,299.7 390.8,301.2 391.9,302.6 392.9,304.0 394.0,305.5 395.1,307.2 396.2,308.7 397.3,309.8 398.3,310.5 399.4,311.4 400.5,312.6 401.6,313.7 402.6,314.2 403.7,314.8 404.8,315.5 405.9,316.2 407.0,316.8 408.0,317.4 409.1,317.9 410.2,318.3 411.3,318.6 412.3,318.8 413.4,319.1 414.5,319.4 415.6,319.7 416.7,319.9 417.7,319.9 418.8,319.9 419.9,319.9 421.0,320.1 422.1,320.3 423.1,320.4 424.2,320.4 425.3,320.5 426.4,320.5 427.4,320.6 428.5,320.7 429.6,320.7 430.7,320.8 431.8,320.8 432.8,320.9 433.9,321.0 435.0,321.0 436.1,321.0 437.1,321.0 438.2,321.1 439.3,321.1 440.4,321.1 441.5,321.2 442.5,321.3 443.6,321.2 444.7,321.1 445.8,321.0 446.8,321.2 447.9,321.3 449.0,321.3" stroke="#1c1cf0" stroke-width="1.35" fill="none" stroke-linejoin="round" clip-path="url(#cd)"/>
<path d="M287.3,321.4 288.4,321.5 289.5,321.5 290.5,321.4 291.6,321.4 292.7,321.5 293.8,321.4 294.8,321.4 295.9,321.5 297.0,321.4 298.1,321.5 299.2,321.5 300.2,321.4 301.3,321.3 302.4,321.4 303.5,321.5 304.5,321.5 305.6,321.5 306.7,321.5 307.8,321.5 308.9,321.5 309.9,321.4 311.0,321.3 312.1,321.4 313.2,321.4 314.2,321.4 315.3,321.3 316.4,321.4 317.5,321.4 318.6,321.2 319.6,321.2 320.7,321.2 321.8,321.1 322.9,321.1 324.0,321.2 325.0,321.2 326.1,321.3 327.2,321.2 328.3,321.1 329.3,321.0 330.4,320.9 331.5,320.9 332.6,321.0 333.7,320.9 334.7,320.8 335.8,320.5 336.9,320.3 338.0,320.2 339.0,320.1 340.1,320.1 341.2,320.0 342.3,319.9 343.4,319.7 344.4,319.5 345.5,319.2 346.6,318.9 347.7,318.5 348.7,318.0 349.8,317.8 350.9,317.5 352.0,316.9 353.1,316.3 354.1,315.9 355.2,315.6 356.3,314.9 357.4,313.9 358.4,312.9 359.5,312.1 360.6,311.3 361.7,310.3 362.8,309.5 363.8,308.6 364.9,307.4 366.0,306.5 367.1,306.2 368.1,305.4 369.2,304.1 370.3,302.7 371.4,302.1 372.5,301.7 373.5,300.8 374.6,300.1 375.7,299.6 376.8,299.8 377.9,300.1 378.9,299.8 380.0,299.7 381.1,299.9 382.2,300.4 383.2,301.3 384.3,302.2 385.4,302.5 386.5,302.7 387.6,303.7 388.6,305.2 389.7,306.1 390.8,307.0 391.9,308.3 392.9,309.1 394.0,309.6 395.1,310.4 396.2,311.1 397.3,312.0 398.3,313.0 399.4,313.7 400.5,314.2 401.6,315.0 402.6,315.7 403.7,316.4 404.8,317.2 405.9,317.7 407.0,317.9 408.0,318.2 409.1,318.6 410.2,319.0 411.3,319.4 412.3,319.6 413.4,319.8 414.5,319.9 415.6,320.0 416.7,320.1 417.7,320.2 418.8,320.4 419.9,320.4 421.0,320.5 422.1,320.7 423.1,320.8 424.2,320.8 425.3,320.8 426.4,320.8 427.4,320.9 428.5,321.0 429.6,321.0 430.7,321.1 431.8,321.1 432.8,321.1 433.9,321.0 435.0,320.9 436.1,321.0 437.1,321.1 438.2,321.1 439.3,321.2 440.4,321.3 441.5,321.4 442.5,321.4 443.6,321.3 444.7,321.3 445.8,321.3 446.8,321.2 447.9,321.4 449.0,321.6" stroke="#ff22ff" stroke-width="1.35" fill="none" stroke-linejoin="round" clip-path="url(#cd)"/>
<path d="M287.3,321.5 288.4,321.4 289.5,321.3 290.5,321.3 291.6,321.4 292.7,321.5 293.8,321.4 294.8,321.3 295.9,321.3 297.0,321.3 298.1,321.3 299.2,321.2 300.2,321.2 301.3,321.3 302.4,321.4 303.5,321.3 304.5,321.2 305.6,321.1 306.7,321.1 307.8,321.2 308.9,321.3 309.9,321.3 311.0,321.2 312.1,321.2 313.2,321.2 314.2,321.2 315.3,321.1 316.4,321.0 317.5,320.9 318.6,320.9 319.6,320.9 320.7,320.9 321.8,320.9 322.9,320.8 324.0,320.7 325.0,320.6 326.1,320.5 327.2,320.5 328.3,320.5 329.3,320.5 330.4,320.5 331.5,320.4 332.6,320.2 333.7,320.1 334.7,319.9 335.8,319.8 336.9,319.6 338.0,319.5 339.0,319.3 340.1,319.1 341.2,318.9 342.3,318.5 343.4,318.2 344.4,317.9 345.5,317.5 346.6,316.9 347.7,316.2 348.7,315.4 349.8,314.7 350.9,313.7 352.0,312.5 353.1,311.2 354.1,309.8 355.2,308.5 356.3,307.2 357.4,305.4 358.4,303.4 359.5,301.4 360.6,299.4 361.7,297.4 362.8,295.0 363.8,292.4 364.9,290.0 366.0,287.5 367.1,285.2 368.1,283.0 369.2,281.0 370.3,279.1 371.4,277.5 372.5,276.5 373.5,276.0 374.6,275.7 375.7,275.3 376.8,275.0 377.9,275.4 378.9,276.7 380.0,278.5 381.1,280.5 382.2,282.4 383.2,284.4 384.3,286.5 385.4,288.6 386.5,290.7 387.6,292.7 388.6,294.9 389.7,297.4 390.8,299.6 391.9,301.3 392.9,303.2 394.0,305.2 395.1,307.1 396.2,308.7 397.3,310.2 398.3,311.6 399.4,312.7 400.5,313.5 401.6,314.4 402.6,315.4 403.7,316.2 404.8,316.9 405.9,317.5 407.0,318.0 408.0,318.4 409.1,318.7 410.2,319.0 411.3,319.1 412.3,319.3 413.4,319.6 414.5,319.7 415.6,319.9 416.7,320.1 417.7,320.1 418.8,320.2 419.9,320.4 421.0,320.4 422.1,320.6 423.1,320.7 424.2,320.7 425.3,320.7 426.4,320.7 427.4,320.7 428.5,320.8 429.6,320.9 430.7,321.0 431.8,321.0 432.8,320.9 433.9,320.8 435.0,320.8 436.1,321.0 437.1,321.0 438.2,321.0 439.3,321.0 440.4,321.1 441.5,321.1 442.5,321.1 443.6,321.2 444.7,321.3 445.8,321.3 446.8,321.3 447.9,321.2 449.0,321.1" stroke="#1f8f1f" stroke-width="1.35" fill="none" stroke-linejoin="round" clip-path="url(#cd)"/>
<path d="M287.3,320.8 288.4,320.7 289.5,320.6 290.5,320.7 291.6,320.7 292.7,320.7 293.8,320.7 294.8,320.7 295.9,320.6 297.0,320.5 298.1,320.5 299.2,320.5 300.2,320.3 301.3,320.3 302.4,320.3 303.5,320.3 304.5,320.2 305.6,320.1 306.7,320.1 307.8,320.0 308.9,320.0 309.9,320.0 311.0,319.9 312.1,319.8 313.2,319.8 314.2,319.7 315.3,319.6 316.4,319.4 317.5,319.4 318.6,319.4 319.6,319.3 320.7,319.2 321.8,319.0 322.9,318.9 324.0,318.8 325.0,318.7 326.1,318.6 327.2,318.6 328.3,318.4 329.3,318.2 330.4,318.1 331.5,318.0 332.6,317.8 333.7,317.6 334.7,317.4 335.8,317.2 336.9,316.9 338.0,316.6 339.0,316.3 340.1,315.9 341.2,315.5 342.3,315.1 343.4,314.7 344.4,314.1 345.5,313.4 346.6,312.6 347.7,311.7 348.7,310.6 349.8,309.5 350.9,308.2 352.0,306.5 353.1,304.4 354.1,302.2 355.2,299.8 356.3,296.8 357.4,293.6 358.4,289.9 359.5,285.7 360.6,281.2 361.7,276.4 362.8,271.2 363.8,265.5 364.9,259.5 366.0,253.3 367.1,246.8 368.1,240.0 369.2,233.2 370.3,227.1 371.4,221.5 372.5,216.2 373.5,211.5 374.6,208.1 375.7,205.9 376.8,204.6 377.9,205.0 378.9,207.3 380.0,210.5 381.1,214.3 382.2,218.9 383.2,224.8 384.3,231.2 385.4,237.4 386.5,244.0 387.6,250.8 388.6,257.2 389.7,263.0 390.8,268.7 391.9,274.2 392.9,279.3 394.0,284.1 395.1,288.5 396.2,292.3 397.3,295.7 398.3,298.6 399.4,301.2 400.5,303.6 401.6,305.7 402.6,307.4 403.7,308.9 404.8,310.2 405.9,311.3 407.0,312.4 408.0,313.1 409.1,313.8 410.2,314.4 411.3,314.9 412.3,315.4 413.4,315.9 414.5,316.3 415.6,316.5 416.7,316.7 417.7,317.0 418.8,317.3 419.9,317.5 421.0,317.7 422.1,317.9 423.1,318.1 424.2,318.2 425.3,318.3 426.4,318.6 427.4,318.7 428.5,318.7 429.6,318.8 430.7,318.9 431.8,319.0 432.8,319.2 433.9,319.3 435.0,319.4 436.1,319.4 437.1,319.5 438.2,319.6 439.3,319.7 440.4,319.8 441.5,319.8 442.5,319.9 443.6,320.0 444.7,320.1 445.8,320.0 446.8,320.0 447.9,320.1 449.0,320.1" stroke="#2a2aa8" stroke-width="1.35" fill="none" stroke-linejoin="round" clip-path="url(#cd)"/>
<path d="M287.3,320.6 288.4,320.6 289.5,320.6 290.5,320.6 291.6,320.4 292.7,320.3 293.8,320.3 294.8,320.3 295.9,320.2 297.0,320.3 298.1,320.2 299.2,320.2 300.2,320.1 301.3,320.0 302.4,319.9 303.5,319.9 304.5,319.9 305.6,320.0 306.7,319.9 307.8,319.7 308.9,319.6 309.9,319.6 311.0,319.5 312.1,319.4 313.2,319.2 314.2,319.1 315.3,319.1 316.4,319.1 317.5,319.0 318.6,319.0 319.6,318.8 320.7,318.6 321.8,318.5 322.9,318.4 324.0,318.2 325.0,317.9 326.1,317.7 327.2,317.6 328.3,317.4 329.3,317.2 330.4,316.9 331.5,316.6 332.6,316.4 333.7,316.1 334.7,315.7 335.8,315.2 336.9,314.6 338.0,314.0 339.0,313.4 340.1,312.7 341.2,311.9 342.3,310.8 343.4,309.7 344.4,308.5 345.5,307.1 346.6,305.4 347.7,303.5 348.7,301.3 349.8,299.0 350.9,296.5 352.0,293.7 353.1,290.6 354.1,287.1 355.2,283.3 356.3,279.5 357.4,275.5 358.4,271.3 359.5,266.7 360.6,261.7 361.7,256.5 362.8,251.5 363.8,246.4 364.9,241.8 366.0,237.8 367.1,233.9 368.1,229.9 369.2,226.7 370.3,224.2 371.4,222.8 372.5,221.9 373.5,221.2 374.6,221.6 375.7,222.9 376.8,224.8 377.9,227.3 378.9,230.8 380.0,235.2 381.1,239.7 382.2,244.0 383.2,248.3 384.3,253.2 385.4,258.4 386.5,263.6 387.6,268.5 388.6,272.9 389.7,277.5 390.8,282.0 391.9,286.0 392.9,289.4 394.0,292.8 395.1,295.9 396.2,298.7 397.3,301.3 398.3,303.5 399.4,305.3 400.5,306.9 401.6,308.5 402.6,310.0 403.7,311.2 404.8,312.2 405.9,313.0 407.0,313.7 408.0,314.4 409.1,314.9 410.2,315.3 411.3,315.7 412.3,316.1 413.4,316.4 414.5,316.7 415.6,317.1 416.7,317.3 417.7,317.5 418.8,317.7 419.9,317.9 421.0,318.1 422.1,318.3 423.1,318.4 424.2,318.5 425.3,318.5 426.4,318.6 427.4,318.8 428.5,318.9 429.6,319.0 430.7,319.2 431.8,319.4 432.8,319.4 433.9,319.5 435.0,319.6 436.1,319.7 437.1,319.6 438.2,319.6 439.3,319.7 440.4,319.8 441.5,319.8 442.5,319.9 443.6,320.0 444.7,320.0 445.8,320.1 446.8,320.3 447.9,320.3 449.0,320.2" stroke="#9a2cf5" stroke-width="1.35" fill="none" stroke-linejoin="round" clip-path="url(#cd)"/>
<line x1="396.4" y1="190.5" x2="414" y2="190.5" stroke="#a59a1a" stroke-width="1.5"/>
<text x="0" y="0" font-size="8.0" transform="translate(415.2 193.4) scale(0.925 1)" fill="#111">Blank</text>
<line x1="396.4" y1="199.3" x2="414" y2="199.3" stroke="#2ee8f2" stroke-width="1.5"/>
<text x="0" y="0" font-size="8.0" transform="translate(415.2 202.2) scale(0.925 1)" fill="#111">S-1(0.4A/45min)</text>
<line x1="396.4" y1="208.5" x2="414" y2="208.5" stroke="#151515" stroke-width="1.5"/>
<text x="0" y="0" font-size="8.0" transform="translate(415.2 211.4) scale(0.925 1)" fill="#111">S-2(0.4A/60min)</text>
<line x1="396.4" y1="218.1" x2="414" y2="218.1" stroke="#9a3a3a" stroke-width="1.5"/>
<text x="0" y="0" font-size="8.0" transform="translate(415.2 221) scale(0.925 1)" fill="#111">S-3(0.4A/100min)</text>
<line x1="396.4" y1="227.1" x2="414" y2="227.1" stroke="#ff2a2a" stroke-width="1.5"/>
<text x="0" y="0" font-size="8.0" transform="translate(415.2 230) scale(0.925 1)" fill="#111">S-4(0.6A/35min)</text>
<line x1="396.4" y1="236" x2="414" y2="236" stroke="#1c1cf0" stroke-width="1.5"/>
<text x="0" y="0" font-size="8.0" transform="translate(415.2 238.9) scale(0.925 1)" fill="#111">S-5(0.6A/60min)</text>
<line x1="396.4" y1="245.2" x2="414" y2="245.2" stroke="#ff22ff" stroke-width="1.5"/>
<text x="0" y="0" font-size="8.0" transform="translate(415.2 248.1) scale(0.925 1)" fill="#111">S-6(0.6A/90min)</text>
<line x1="396.4" y1="254.6" x2="414" y2="254.6" stroke="#1f8f1f" stroke-width="1.5"/>
<text x="0" y="0" font-size="8.0" transform="translate(415.2 257.5) scale(0.925 1)" fill="#111">S-7(0.8A/35min)</text>
<line x1="396.4" y1="263.8" x2="414" y2="263.8" stroke="#2a2aa8" stroke-width="1.5"/>
<text x="0" y="0" font-size="8.0" transform="translate(415.2 266.7) scale(0.925 1)" fill="#111">S-8(0.8A/60min)</text>
<line x1="396.4" y1="273" x2="414" y2="273" stroke="#9a2cf5" stroke-width="1.5"/>
<text x="0" y="0" font-size="8.0" transform="translate(415.2 275.9) scale(0.925 1)" fill="#111">S-9(0.8A/90min)</text>
<rect x="281.6" y="205.4" width="74.7" height="60.6" fill="#fff" stroke="#888" stroke-width="0.8"/>
<line x1="280.6" y1="266" x2="280.6" y2="267.2" stroke="#888" stroke-width="0.5"/>
<text x="280.6" y="270.2" font-size="3.4" text-anchor="middle" fill="#555">30</text>
<line x1="290.77" y1="266" x2="290.77" y2="267.2" stroke="#888" stroke-width="0.5"/>
<text x="290.77" y="270.2" font-size="3.4" text-anchor="middle" fill="#555">40</text>
<line x1="300.94" y1="266" x2="300.94" y2="267.2" stroke="#888" stroke-width="0.5"/>
<text x="300.94" y="270.2" font-size="3.4" text-anchor="middle" fill="#555">50</text>
<line x1="311.11" y1="266" x2="311.11" y2="267.2" stroke="#888" stroke-width="0.5"/>
<text x="311.11" y="270.2" font-size="3.4" text-anchor="middle" fill="#555">60</text>
<line x1="321.28" y1="266" x2="321.28" y2="267.2" stroke="#888" stroke-width="0.5"/>
<text x="321.28" y="270.2" font-size="3.4" text-anchor="middle" fill="#555">70</text>
<line x1="331.45" y1="266" x2="331.45" y2="267.2" stroke="#888" stroke-width="0.5"/>
<text x="331.45" y="270.2" font-size="3.4" text-anchor="middle" fill="#555">80</text>
<line x1="341.62" y1="266" x2="341.62" y2="267.2" stroke="#888" stroke-width="0.5"/>
<text x="341.62" y="270.2" font-size="3.4" text-anchor="middle" fill="#555">90</text>
<line x1="351.79" y1="266" x2="351.79" y2="267.2" stroke="#888" stroke-width="0.5"/>
<text x="351.79" y="270.2" font-size="3.4" text-anchor="middle" fill="#555">100</text>
<line x1="280.4" y1="254.38" x2="281.6" y2="254.38" stroke="#888" stroke-width="0.5"/>
<text x="280.1" y="255.38" font-size="3.2" text-anchor="end" fill="#555">1x10<tspan font-size="2.4" dy="-1.2">4</tspan></text>
<line x1="280.4" y1="242.26" x2="281.6" y2="242.26" stroke="#888" stroke-width="0.5"/>
<text x="280.1" y="243.26" font-size="3.2" text-anchor="end" fill="#555">2x10<tspan font-size="2.4" dy="-1.2">4</tspan></text>
<line x1="280.4" y1="230.14" x2="281.6" y2="230.14" stroke="#888" stroke-width="0.5"/>
<text x="280.1" y="231.14" font-size="3.2" text-anchor="end" fill="#555">3x10<tspan font-size="2.4" dy="-1.2">4</tspan></text>
<line x1="280.4" y1="218.02" x2="281.6" y2="218.02" stroke="#888" stroke-width="0.5"/>
<text x="280.1" y="219.02" font-size="3.2" text-anchor="end" fill="#555">4x10<tspan font-size="2.4" dy="-1.2">4</tspan></text>
<line x1="280.4" y1="205.9" x2="281.6" y2="205.9" stroke="#888" stroke-width="0.5"/>
<text x="280.1" y="206.9" font-size="3.2" text-anchor="end" fill="#555">5x10<tspan font-size="2.4" dy="-1.2">4</tspan></text>
<text x="318.5" y="275.3" font-size="3.8" text-anchor="middle" fill="#555">Time (min)</text>
<text x="274.5" y="236.7" font-size="3.6" text-anchor="middle" transform="rotate(-90 274.5 236.7)" fill="#555">ZrN (200) Intensity</text>
<path d="M295.9,265.9 311.1,259.2 351.8,264.7" stroke="#222" stroke-width="0.9" fill="none" stroke-linejoin="round"/>
<rect x="294.96" y="264.99" width="1.8" height="1.8" stroke="#222" stroke-width="0" fill="#222"/>
<rect x="310.21" y="258.33" width="1.8" height="1.8" stroke="#222" stroke-width="0" fill="#222"/>
<rect x="350.89" y="263.78" width="1.8" height="1.8" stroke="#222" stroke-width="0" fill="#222"/>
<path d="M285.7,260.4 311.1,250.1 341.6,256.0" stroke="#ff2a2a" stroke-width="0.9" fill="none" stroke-linejoin="round"/>
<rect x="284.79" y="259.54" width="1.8" height="1.8" stroke="#ff2a2a" stroke-width="0" fill="#ff2a2a"/>
<rect x="310.21" y="249.24" width="1.8" height="1.8" stroke="#ff2a2a" stroke-width="0" fill="#ff2a2a"/>
<rect x="340.72" y="255.06" width="1.8" height="1.8" stroke="#ff2a2a" stroke-width="0" fill="#ff2a2a"/>
<path d="M285.7,244.7 311.1,209.9 341.6,218.0" stroke="#3a3aff" stroke-width="0.9" fill="none" stroke-linejoin="round"/>
<rect x="284.79" y="243.78" width="1.8" height="1.8" stroke="#3a3aff" stroke-width="0" fill="#3a3aff"/>
<rect x="310.21" y="209" width="1.8" height="1.8" stroke="#3a3aff" stroke-width="0" fill="#3a3aff"/>
<rect x="340.72" y="217.12" width="1.8" height="1.8" stroke="#3a3aff" stroke-width="0" fill="#3a3aff"/>
<line x1="326.2" y1="225.7" x2="337.1" y2="225.7" stroke="#222" stroke-width="0.9"/>
<rect x="330.7" y="224.8" width="1.8" height="1.8" stroke="#222" stroke-width="0" fill="#222"/>
<text x="339" y="227.5" font-size="5.6" fill="#222">0.4 A</text>
<line x1="326.2" y1="232.3" x2="337.1" y2="232.3" stroke="#ff2a2a" stroke-width="0.9"/>
<rect x="330.7" y="231.4" width="1.8" height="1.8" stroke="#ff2a2a" stroke-width="0" fill="#ff2a2a"/>
<text x="339" y="234.1" font-size="5.6" fill="#222">0.6 A</text>
<line x1="326.2" y1="239.3" x2="337.1" y2="239.3" stroke="#3a3aff" stroke-width="0.9"/>
<rect x="330.7" y="238.4" width="1.8" height="1.8" stroke="#3a3aff" stroke-width="0" fill="#3a3aff"/>
<text x="339" y="241.1" font-size="5.6" fill="#222">0.8 A</text>
<rect x="138.1" y="369.2" width="204.8" height="150.3" stroke="#6a6a6a" stroke-width="1.45" fill="none"/>
<line x1="138.1" y1="519.5" x2="342.9" y2="519.5" stroke="#444" stroke-width="1.2"/>
<line x1="138.1" y1="519.5" x2="138.1" y2="522.1" stroke="#444" stroke-width="1.1"/>
<text x="138.1" y="532.8" font-size="9.3" text-anchor="middle" fill="#111">38.4</text>
<line x1="163.7" y1="519.5" x2="163.7" y2="522.1" stroke="#444" stroke-width="1.1"/>
<text x="163.7" y="532.8" font-size="9.3" text-anchor="middle" fill="#111">38.6</text>
<line x1="189.3" y1="519.5" x2="189.3" y2="522.1" stroke="#444" stroke-width="1.1"/>
<text x="189.3" y="532.8" font-size="9.3" text-anchor="middle" fill="#111">38.8</text>
<line x1="214.9" y1="519.5" x2="214.9" y2="522.1" stroke="#444" stroke-width="1.1"/>
<text x="214.9" y="532.8" font-size="9.3" text-anchor="middle" fill="#111">39.0</text>
<line x1="240.5" y1="519.5" x2="240.5" y2="522.1" stroke="#444" stroke-width="1.1"/>
<text x="240.5" y="532.8" font-size="9.3" text-anchor="middle" fill="#111">39.2</text>
<line x1="266.1" y1="519.5" x2="266.1" y2="522.1" stroke="#444" stroke-width="1.1"/>
<text x="266.1" y="532.8" font-size="9.3" text-anchor="middle" fill="#111">39.4</text>
<line x1="291.7" y1="519.5" x2="291.7" y2="522.1" stroke="#444" stroke-width="1.1"/>
<text x="291.7" y="532.8" font-size="9.3" text-anchor="middle" fill="#111">39.6</text>
<line x1="317.3" y1="519.5" x2="317.3" y2="522.1" stroke="#444" stroke-width="1.1"/>
<text x="317.3" y="532.8" font-size="9.3" text-anchor="middle" fill="#111">39.8</text>
<line x1="342.9" y1="519.5" x2="342.9" y2="522.1" stroke="#444" stroke-width="1.1"/>
<text x="342.9" y="532.8" font-size="9.3" text-anchor="middle" fill="#111">40.0</text>
<line x1="150.9" y1="519.5" x2="150.9" y2="521" stroke="#444" stroke-width="1"/>
<line x1="176.5" y1="519.5" x2="176.5" y2="521" stroke="#444" stroke-width="1"/>
<line x1="202.1" y1="519.5" x2="202.1" y2="521" stroke="#444" stroke-width="1"/>
<line x1="227.7" y1="519.5" x2="227.7" y2="521" stroke="#444" stroke-width="1"/>
<line x1="253.3" y1="519.5" x2="253.3" y2="521" stroke="#444" stroke-width="1"/>
<line x1="278.9" y1="519.5" x2="278.9" y2="521" stroke="#444" stroke-width="1"/>
<line x1="304.5" y1="519.5" x2="304.5" y2="521" stroke="#444" stroke-width="1"/>
<line x1="330.1" y1="519.5" x2="330.1" y2="521" stroke="#444" stroke-width="1"/>
<line x1="135.3" y1="491.92" x2="138.1" y2="491.92" stroke="#444" stroke-width="1.1"/>
<text x="132.2" y="494.42" font-size="7.3" text-anchor="end" fill="#111">0.2</text>
<line x1="135.3" y1="464.34" x2="138.1" y2="464.34" stroke="#444" stroke-width="1.1"/>
<text x="132.2" y="466.84" font-size="7.3" text-anchor="end" fill="#111">0.4</text>
<line x1="135.3" y1="436.76" x2="138.1" y2="436.76" stroke="#444" stroke-width="1.1"/>
<text x="132.2" y="439.26" font-size="7.3" text-anchor="end" fill="#111">0.6</text>
<line x1="135.3" y1="409.18" x2="138.1" y2="409.18" stroke="#444" stroke-width="1.1"/>
<text x="132.2" y="411.68" font-size="7.3" text-anchor="end" fill="#111">0.8</text>
<line x1="135.3" y1="381.6" x2="138.1" y2="381.6" stroke="#444" stroke-width="1.1"/>
<text x="132.2" y="384.1" font-size="7.3" text-anchor="end" fill="#111">1.0</text>
<line x1="136.6" y1="505.71" x2="138.1" y2="505.71" stroke="#444" stroke-width="1"/>
<line x1="136.6" y1="478.13" x2="138.1" y2="478.13" stroke="#444" stroke-width="1"/>
<line x1="136.6" y1="450.55" x2="138.1" y2="450.55" stroke="#444" stroke-width="1"/>
<line x1="136.6" y1="422.97" x2="138.1" y2="422.97" stroke="#444" stroke-width="1"/>
<line x1="136.6" y1="395.39" x2="138.1" y2="395.39" stroke="#444" stroke-width="1"/>
<text x="243.2" y="544.6" font-size="11.6" text-anchor="middle" fill="#111">2θ (°)</text>
<text x="116.3" y="439.3" font-size="11.8" text-anchor="middle" transform="rotate(-90 116.3 439.3)" fill="#111">Normalized Intensity</text>
<path d="M150.9,520.2 152.2,518.6 153.5,517.5 154.7,517.3 156.0,516.7 157.3,518.0 158.6,519.1 159.9,518.5 161.1,518.9 162.4,519.4 163.7,518.3 165.0,517.6 166.3,517.0 167.5,516.0 168.8,516.0 170.1,516.1 171.4,517.0 172.7,517.8 173.9,516.5 175.2,515.3 176.5,515.2 177.8,515.8 179.1,517.2 180.3,518.0 181.6,517.2 182.9,515.2 184.2,513.9 185.5,514.0 186.7,514.4 188.0,515.8 189.3,515.7 190.6,513.5 191.9,512.1 193.1,512.9 194.4,514.3 195.7,514.3 197.0,513.6 198.3,512.3 199.5,511.6 200.8,511.0 202.1,509.9 203.4,509.6 204.7,509.8 205.9,509.8 207.2,509.9 208.5,510.0 209.8,510.2 211.1,508.6 212.3,507.0 213.6,507.7 214.9,507.6 216.2,505.7 217.5,504.4 218.7,504.7 220.0,505.1 221.3,505.1 222.6,504.7 223.9,503.0 225.1,501.0 226.4,499.8 227.7,499.2 229.0,497.7 230.3,495.8 231.5,492.2 232.8,487.4 234.1,484.5 235.4,482.7 236.7,481.0 237.9,478.7 239.2,474.1 240.5,466.9 241.8,459.6 243.1,454.9 244.3,449.6 245.6,442.5 246.9,437.1 248.2,430.8 249.5,422.1 250.7,414.6 252.0,407.4 253.3,399.5 254.6,394.3 255.9,391.0 257.1,388.6 258.4,385.3 259.7,380.7 261.0,379.0 262.3,381.2 263.5,383.9 264.8,385.0 266.1,385.5 267.4,385.2 268.7,384.4 269.9,386.7 271.2,391.2 272.5,394.7 273.8,398.6 275.1,404.0 276.3,411.3 277.6,418.6 278.9,425.2 280.2,432.8 281.5,438.9 282.7,444.4 284.0,451.8 285.3,456.5 286.6,458.2 287.9,462.4 289.1,467.5 290.4,470.9 291.7,473.6 293.0,475.9 294.3,479.6 295.5,482.6 296.8,483.2 298.1,482.8 299.4,483.9 300.7,486.2 301.9,487.4 303.2,489.0 304.5,490.3 305.8,491.4 307.1,492.8 308.3,493.7 309.6,495.5 310.9,497.0 312.2,496.8 313.5,498.2 314.7,499.4 316.0,498.2 317.3,498.6 318.6,500.3 319.9,500.5 321.1,502.0 322.4,505.4 323.7,506.5 325.0,505.7 326.3,505.4 327.5,506.2 328.8,508.2 330.1,509.4 331.4,508.0 332.7,507.7 333.9,508.9 335.2,508.4 336.5,508.9 337.8,511.3 339.1,512.5 340.3,512.1 341.6,512.6 342.9,514.3" stroke="#151515" stroke-width="1.25" fill="none" stroke-linejoin="round" clip-path="url(#ce)"/>
<path d="M157.9,459.8 158.0,458.8 158.2,457.9 158.3,456.9 158.5,456.0 158.7,455.0 158.8,454.0 159.0,453.1 159.1,452.1 159.3,451.1 159.4,450.0 159.6,449.0 159.8,448.0 159.9,446.9 160.1,445.9 160.2,444.8 160.4,443.7 160.5,442.6 160.7,441.5 160.9,440.4 161.0,439.3 161.2,438.2 161.3,437.1 161.5,435.9 161.7,434.7 161.8,433.6 162.0,432.4 162.1,431.2 162.3,430.0 162.4,428.8 162.6,427.6 162.8,426.4 162.9,425.1 163.1,423.9 163.2,422.6 163.4,421.3 163.5,420.1 163.7,418.8 163.9,417.5 164.0,416.2 164.2,414.9 164.3,413.5 164.5,412.2 164.7,410.8 164.8,409.5 165.0,408.1 165.1,406.8 165.3,405.4 165.4,404.0 165.6,402.6 165.8,401.2 165.9,399.8 166.1,398.3 166.2,396.9 166.4,395.5 166.6,394.0 166.7,392.5 166.9,391.1 167.0,389.6 167.2,388.1 167.3,386.6 167.5,385.2 167.7,383.7 167.8,382.1 168.0,380.6 168.1,379.1 168.3,377.6 168.4,376.1 168.6,374.5 168.8,373.0 168.9,371.5 207.9,370.7 208.1,372.1 208.3,373.5 208.4,374.9 208.6,376.3 208.7,377.7 208.9,379.1 209.1,380.5 209.2,381.8 209.4,383.2 209.5,384.5 209.7,385.9 209.8,387.2 210.0,388.5 210.2,389.8 210.3,391.1 210.5,392.4 210.6,393.7 210.8,394.9 210.9,396.2 211.1,397.4 211.3,398.7 211.4,399.9 211.6,401.1 211.7,402.3 211.9,403.5 212.1,404.7 212.2,405.8 212.4,407.0 212.5,408.1 212.7,409.3 212.8,410.4 213.0,411.5 213.2,412.6 213.3,413.7 213.5,414.8 213.6,415.9 213.8,416.9 214.0,418.0 214.1,419.0 214.3,420.0 214.4,421.0 214.6,422.1 214.7,423.0 214.9,424.0 215.1,425.0 215.2,426.0 215.4,426.9 215.5,427.9 215.7,428.8 215.8,429.7 216.0,430.6 216.2,431.5 216.3,432.4 216.5,433.3 216.6,434.2 216.8,435.0 217.0,435.9 217.1,436.7 217.3,437.6 217.4,438.4 217.6,439.2 217.7,440.0 217.9,440.8 218.1,441.6 218.2,442.3 218.4,443.1 218.5,443.9 218.7,444.6 218.8,445.4 219.0,446.1 219.2,446.8 219.3,447.5 219.5,448.2 219.6,448.9 219.8,449.6 220.0,450.3 220.1,451.0 220.3,451.6 220.4,452.3 220.6,453.0 220.7,453.6 220.9,454.2 221.1,454.9 221.2,455.5 221.4,456.1 221.5,456.7 221.7,457.3 221.9,457.9 222.0,458.5 222.2,459.1 222.3,459.6" stroke="#151515" stroke-width="1.25" fill="none" stroke-linejoin="round" clip-path="url(#ci)"/>
<path d="M150.9,519.9 152.2,519.6 153.5,519.7 154.7,518.6 156.0,516.8 157.3,516.5 158.6,516.8 159.9,516.7 161.1,516.5 162.4,516.1 163.7,516.9 165.0,518.0 166.3,517.5 167.5,516.9 168.8,517.3 170.1,517.4 171.4,517.1 172.7,517.7 173.9,518.1 175.2,518.0 176.5,518.1 177.8,517.3 179.1,515.8 180.3,516.0 181.6,517.2 182.9,517.1 184.2,516.8 185.5,516.1 186.7,515.7 188.0,515.1 189.3,514.1 190.6,513.7 191.9,514.4 193.1,515.9 194.4,516.2 195.7,514.9 197.0,513.6 198.3,512.4 199.5,512.7 200.8,514.2 202.1,513.9 203.4,512.8 204.7,512.2 205.9,512.1 207.2,513.2 208.5,512.4 209.8,509.9 211.1,509.1 212.3,510.1 213.6,510.4 214.9,509.5 216.2,508.5 217.5,507.5 218.7,507.3 220.0,506.6 221.3,504.1 222.6,502.0 223.9,500.9 225.1,499.4 226.4,497.4 227.7,496.2 229.0,494.9 230.3,491.2 231.5,486.8 232.8,483.6 234.1,479.6 235.4,476.3 236.7,473.7 237.9,469.0 239.2,464.8 240.5,461.3 241.8,455.8 243.1,449.2 244.3,442.6 245.6,436.4 246.9,430.7 248.2,424.7 249.5,418.4 250.7,411.4 252.0,406.1 253.3,402.1 254.6,397.5 255.9,393.9 257.1,389.7 258.4,385.3 259.7,384.2 261.0,384.6 262.3,383.1 263.5,380.5 264.8,380.1 266.1,382.6 267.4,386.8 268.7,390.5 269.9,394.2 271.2,399.3 272.5,404.5 273.8,410.7 275.1,416.5 276.3,421.9 277.6,427.9 278.9,433.4 280.2,439.7 281.5,446.4 282.7,452.9 284.0,458.4 285.3,463.3 286.6,468.4 287.9,471.9 289.1,475.5 290.4,479.3 291.7,482.7 293.0,486.2 294.3,489.2 295.5,490.6 296.8,491.7 298.1,493.1 299.4,493.6 300.7,495.4 301.9,498.6 303.2,499.3 304.5,498.4 305.8,499.7 307.1,501.7 308.3,501.9 309.6,501.8 310.9,502.5 312.2,503.1 313.5,504.2 314.7,505.7 316.0,505.5 317.3,505.9 318.6,508.3 319.9,510.2 321.1,510.3 322.4,509.2 323.7,509.2 325.0,510.9 326.3,513.0 327.5,513.5 328.8,513.3 330.1,514.0 331.4,514.8 332.7,515.4 333.9,515.0 335.2,513.7 336.5,513.9 337.8,515.8 339.1,516.3 340.3,516.1 341.6,516.4 342.9,516.1" stroke="#ff2a2a" stroke-width="1.25" fill="none" stroke-linejoin="round" clip-path="url(#ce)"/>
<path d="M155.3,459.3 155.5,458.4 155.6,457.5 155.8,456.6 156.0,455.7 156.1,454.8 156.3,453.9 156.4,452.9 156.6,452.0 156.8,451.1 156.9,450.1 157.1,449.2 157.2,448.2 157.4,447.2 157.5,446.3 157.7,445.3 157.9,444.3 158.0,443.3 158.2,442.3 158.3,441.3 158.5,440.3 158.7,439.3 158.8,438.3 159.0,437.3 159.1,436.3 159.3,435.2 159.4,434.2 159.6,433.2 159.8,432.1 159.9,431.1 160.1,430.0 160.2,428.9 160.4,427.9 160.5,426.8 160.7,425.7 160.9,424.6 161.0,423.5 161.2,422.4 161.3,421.3 161.5,420.2 161.7,419.1 161.8,418.0 162.0,416.9 162.1,415.7 162.3,414.6 162.4,413.5 162.6,412.3 162.8,411.2 162.9,410.0 163.1,408.9 163.2,407.7 163.4,406.6 163.5,405.4 163.7,404.2 163.9,403.1 164.0,401.9 164.2,400.7 164.3,399.5 164.5,398.3 164.7,397.1 164.8,395.9 165.0,394.7 165.1,393.5 165.3,392.3 165.4,391.1 165.6,389.9 165.8,388.7 165.9,387.5 166.1,386.3 166.2,385.0 166.4,383.8 166.6,382.6 166.7,381.4 166.9,380.1 167.0,378.9 167.2,377.7 167.3,376.4 167.5,375.2 167.7,374.0 167.8,372.7 168.0,371.5 168.1,370.2 205.6,370.3 205.7,371.7 205.9,373.0 206.1,374.3 206.2,375.7 206.4,377.0 206.5,378.3 206.7,379.7 206.8,381.0 207.0,382.3 207.2,383.7 207.3,385.0 207.5,386.3 207.6,387.6 207.8,388.9 207.9,390.2 208.1,391.5 208.3,392.8 208.4,394.1 208.6,395.4 208.7,396.7 208.9,398.0 209.1,399.3 209.2,400.5 209.4,401.8 209.5,403.1 209.7,404.3 209.8,405.6 210.0,406.8 210.2,408.1 210.3,409.3 210.5,410.5 210.6,411.7 210.8,413.0 210.9,414.2 211.1,415.4 211.3,416.6 211.4,417.7 211.6,418.9 211.7,420.1 211.9,421.3 212.1,422.4 212.2,423.6 212.4,424.7 212.5,425.8 212.7,427.0 212.8,428.1 213.0,429.2 213.2,430.3 213.3,431.4 213.5,432.5 213.6,433.6 213.8,434.6 214.0,435.7 214.1,436.7 214.3,437.8 214.4,438.8 214.6,439.9 214.7,440.9 214.9,441.9 215.1,442.9 215.2,443.9 215.4,444.9 215.5,445.8 215.7,446.8 215.8,447.8 216.0,448.7 216.2,449.7 216.3,450.6 216.5,451.5 216.6,452.4 216.8,453.3 217.0,454.2 217.1,455.1 217.3,456.0 217.4,456.9 217.6,457.7 217.7,458.6 217.9,459.4" stroke="#ff2a2a" stroke-width="1.25" fill="none" stroke-linejoin="round" clip-path="url(#ci)"/>
<path d="M150.9,518.2 152.2,518.5 153.5,518.9 154.7,519.0 156.0,518.4 157.3,518.1 158.6,518.3 159.9,518.5 161.1,518.9 162.4,518.9 163.7,518.8 165.0,518.6 166.3,518.2 167.5,518.0 168.8,518.0 170.1,518.1 171.4,518.5 172.7,518.8 173.9,518.4 175.2,517.9 176.5,518.1 177.8,518.7 179.1,518.8 180.3,518.5 181.6,518.0 182.9,517.7 184.2,518.2 185.5,518.3 186.7,517.4 188.0,516.9 189.3,517.4 190.6,518.0 191.9,518.2 193.1,517.6 194.4,517.2 195.7,517.5 197.0,517.7 198.3,517.1 199.5,516.6 200.8,516.2 202.1,515.8 203.4,515.6 204.7,515.4 205.9,515.2 207.2,514.5 208.5,513.1 209.8,512.3 211.1,512.1 212.3,511.6 213.6,510.5 214.9,509.0 216.2,507.1 217.5,504.9 218.7,502.8 220.0,500.7 221.3,498.1 222.6,494.9 223.9,491.5 225.1,487.5 226.4,483.0 227.7,478.9 229.0,474.4 230.3,468.5 231.5,462.8 232.8,457.4 234.1,451.5 235.4,445.5 236.7,439.1 237.9,432.7 239.2,426.0 240.5,419.3 241.8,413.3 243.1,407.7 244.3,402.0 245.6,396.8 246.9,393.0 248.2,389.4 249.5,386.0 250.7,384.1 252.0,383.0 253.3,382.5 254.6,382.4 255.9,383.4 257.1,385.5 258.4,388.8 259.7,393.0 261.0,397.3 262.3,401.8 263.5,407.3 264.8,413.1 266.1,418.5 267.4,423.5 268.7,428.9 269.9,435.4 271.2,441.8 272.5,447.2 273.8,452.0 275.1,457.1 276.3,462.5 277.6,467.5 278.9,472.0 280.2,475.8 281.5,479.3 282.7,482.9 284.0,486.3 285.3,489.5 286.6,492.2 287.9,494.6 289.1,497.2 290.4,499.5 291.7,501.1 293.0,502.6 294.3,504.2 295.5,505.6 296.8,507.0 298.1,507.6 299.4,507.8 300.7,508.8 301.9,509.6 303.2,510.0 304.5,510.6 305.8,511.5 307.1,511.9 308.3,512.0 309.6,512.5 310.9,513.2 312.2,513.7 313.5,514.3 314.7,514.4 316.0,514.2 317.3,514.1 318.6,514.3 319.9,514.7 321.1,515.0 322.4,515.2 323.7,515.2 325.0,514.9 326.3,515.2 327.5,515.8 328.8,515.7 330.1,515.3 331.4,515.2 332.7,515.4 333.9,515.5 335.2,515.8 336.5,516.4 337.8,516.7 339.1,516.9 340.3,517.1 341.6,516.8 342.9,516.7" stroke="#1c1cf0" stroke-width="1.25" fill="none" stroke-linejoin="round" clip-path="url(#ce)"/>
<path d="M146.0,459.5 146.2,458.5 146.3,457.4 146.5,456.3 146.6,455.2 146.8,454.2 147.0,453.1 147.1,452.0 147.3,450.9 147.4,449.7 147.6,448.6 147.7,447.5 147.9,446.4 148.1,445.2 148.2,444.1 148.4,442.9 148.5,441.8 148.7,440.6 148.9,439.4 149.0,438.3 149.2,437.1 149.3,435.9 149.5,434.7 149.6,433.5 149.8,432.3 150.0,431.1 150.1,429.9 150.3,428.7 150.4,427.4 150.6,426.2 150.8,425.0 150.9,423.7 151.1,422.5 151.2,421.3 151.4,420.0 151.5,418.7 151.7,417.5 151.9,416.2 152.0,414.9 152.2,413.7 152.3,412.4 152.5,411.1 152.6,409.8 152.8,408.5 153.0,407.3 153.1,406.0 153.3,404.7 153.4,403.4 153.6,402.1 153.8,400.7 153.9,399.4 154.1,398.1 154.2,396.8 154.4,395.5 154.5,394.2 154.7,392.9 154.9,391.5 155.0,390.2 155.2,388.9 155.3,387.6 155.5,386.2 155.6,384.9 155.8,383.6 156.0,382.2 156.1,380.9 156.3,379.6 156.4,378.3 156.6,376.9 156.8,375.6 156.9,374.3 157.1,372.9 157.2,371.6 157.4,370.3 194.2,370.4 194.4,371.6 194.5,372.8 194.7,374.0 194.8,375.2 195.0,376.4 195.1,377.6 195.3,378.8 195.5,380.0 195.6,381.2 195.8,382.4 195.9,383.6 196.1,384.8 196.3,386.0 196.4,387.2 196.6,388.4 196.7,389.6 196.9,390.8 197.0,392.0 197.2,393.1 197.4,394.3 197.5,395.5 197.7,396.7 197.8,397.8 198.0,399.0 198.2,400.2 198.3,401.3 198.5,402.5 198.6,403.6 198.8,404.8 198.9,405.9 199.1,407.1 199.3,408.2 199.4,409.3 199.6,410.5 199.7,411.6 199.9,412.7 200.0,413.8 200.2,415.0 200.4,416.1 200.5,417.2 200.7,418.3 200.8,419.4 201.0,420.5 201.2,421.5 201.3,422.6 201.5,423.7 201.6,424.8 201.8,425.9 201.9,426.9 202.1,428.0 202.3,429.0 202.4,430.1 202.6,431.1 202.7,432.2 202.9,433.2 203.0,434.2 203.2,435.3 203.4,436.3 203.5,437.3 203.7,438.3 203.8,439.3 204.0,440.3 204.2,441.3 204.3,442.3 204.5,443.3 204.6,444.3 204.8,445.2 204.9,446.2 205.1,447.2 205.3,448.1 205.4,449.1 205.6,450.0 205.7,450.9 205.9,451.9 206.1,452.8 206.2,453.7 206.4,454.6 206.5,455.5 206.7,456.4 206.8,457.3 207.0,458.2 207.2,459.1" stroke="#1c1cf0" stroke-width="1.25" fill="none" stroke-linejoin="round" clip-path="url(#ci)"/>
<path d="M150.9,518.8 152.2,517.9 153.5,517.9 154.7,518.2 156.0,517.8 157.3,517.5 158.6,517.4 159.9,517.4 161.1,517.3 162.4,517.4 163.7,518.1 165.0,518.1 166.3,517.7 167.5,517.9 168.8,517.4 170.1,516.9 171.4,517.5 172.7,517.9 173.9,517.9 175.2,517.6 176.5,517.2 177.8,517.6 179.1,517.8 180.3,517.4 181.6,517.4 182.9,517.8 184.2,517.4 185.5,516.6 186.7,516.4 188.0,516.4 189.3,516.1 190.6,516.0 191.9,516.4 193.1,515.9 194.4,515.4 195.7,515.8 197.0,515.9 198.3,515.7 199.5,515.2 200.8,514.6 202.1,514.5 203.4,514.5 204.7,514.3 205.9,513.9 207.2,513.4 208.5,513.0 209.8,512.8 211.1,512.5 212.3,511.6 213.6,510.3 214.9,508.9 216.2,508.1 217.5,507.6 218.7,506.1 220.0,503.9 221.3,501.5 222.6,499.4 223.9,497.1 225.1,494.1 226.4,490.7 227.7,487.4 229.0,483.8 230.3,479.9 231.5,475.9 232.8,471.6 234.1,467.1 235.4,462.2 236.7,456.7 237.9,450.8 239.2,444.8 240.5,438.6 241.8,433.0 243.1,427.1 244.3,420.2 245.6,414.4 246.9,408.9 248.2,402.5 249.5,396.8 250.7,392.4 252.0,389.1 253.3,386.6 254.6,384.1 255.9,382.1 257.1,381.3 258.4,382.1 259.7,384.3 261.0,386.6 262.3,389.0 263.5,392.7 264.8,397.9 266.1,404.3 267.4,411.0 268.7,417.1 269.9,422.6 271.2,428.5 272.5,435.4 273.8,442.1 275.1,447.7 276.3,453.7 277.6,459.6 278.9,465.0 280.2,470.2 281.5,475.4 282.7,480.4 284.0,484.1 285.3,487.0 286.6,490.2 287.9,493.4 289.1,496.4 290.4,499.3 291.7,501.3 293.0,502.8 294.3,504.4 295.5,506.0 296.8,507.7 298.1,509.2 299.4,510.0 300.7,510.0 301.9,510.2 303.2,511.1 304.5,512.1 305.8,512.6 307.1,513.0 308.3,513.9 309.6,514.4 310.9,514.1 312.2,514.3 313.5,514.8 314.7,515.2 316.0,515.9 317.3,516.2 318.6,515.8 319.9,515.3 321.1,515.2 322.4,515.4 323.7,515.3 325.0,515.2 326.3,515.3 327.5,515.8 328.8,516.4 330.1,516.3 331.4,516.5 332.7,517.2 333.9,517.6 335.2,517.4 336.5,517.4 337.8,517.8 339.1,517.9 340.3,517.5 341.6,517.0 342.9,517.2" stroke="#ff22ff" stroke-width="1.25" fill="none" stroke-linejoin="round" clip-path="url(#ce)"/>
<path d="M150.3,459.1 150.4,458.1 150.6,457.1 150.8,456.1 150.9,455.1 151.1,454.1 151.2,453.1 151.4,452.0 151.5,451.0 151.7,450.0 151.9,448.9 152.0,447.9 152.2,446.8 152.3,445.8 152.5,444.7 152.6,443.6 152.8,442.5 153.0,441.5 153.1,440.4 153.3,439.3 153.4,438.2 153.6,437.1 153.8,435.9 153.9,434.8 154.1,433.7 154.2,432.6 154.4,431.4 154.5,430.3 154.7,429.1 154.9,428.0 155.0,426.8 155.2,425.6 155.3,424.5 155.5,423.3 155.6,422.1 155.8,420.9 156.0,419.8 156.1,418.6 156.3,417.4 156.4,416.2 156.6,415.0 156.8,413.7 156.9,412.5 157.1,411.3 157.2,410.1 157.4,408.8 157.5,407.6 157.7,406.4 157.9,405.1 158.0,403.9 158.2,402.7 158.3,401.4 158.5,400.2 158.7,398.9 158.8,397.6 159.0,396.4 159.1,395.1 159.3,393.8 159.4,392.6 159.6,391.3 159.8,390.0 159.9,388.7 160.1,387.5 160.2,386.2 160.4,384.9 160.5,383.6 160.7,382.3 160.9,381.1 161.0,379.8 161.2,378.5 161.3,377.2 161.5,375.9 161.7,374.6 161.8,373.3 162.0,372.0 162.1,370.7 197.5,370.9 197.7,372.3 197.8,373.6 198.0,374.9 198.2,376.2 198.3,377.6 198.5,378.9 198.6,380.2 198.8,381.5 198.9,382.8 199.1,384.2 199.3,385.5 199.4,386.8 199.6,388.1 199.7,389.4 199.9,390.7 200.0,392.0 200.2,393.3 200.4,394.6 200.5,395.9 200.7,397.2 200.8,398.5 201.0,399.8 201.2,401.1 201.3,402.4 201.5,403.6 201.6,404.9 201.8,406.2 201.9,407.5 202.1,408.7 202.3,410.0 202.4,411.2 202.6,412.5 202.7,413.7 202.9,414.9 203.0,416.2 203.2,417.4 203.4,418.6 203.5,419.9 203.7,421.1 203.8,422.3 204.0,423.5 204.2,424.7 204.3,425.9 204.5,427.1 204.6,428.2 204.8,429.4 204.9,430.6 205.1,431.7 205.3,432.9 205.4,434.0 205.6,435.2 205.7,436.3 205.9,437.5 206.1,438.6 206.2,439.7 206.4,440.8 206.5,441.9 206.7,443.0 206.8,444.1 207.0,445.2 207.2,446.3 207.3,447.4 207.5,448.4 207.6,449.5 207.8,450.5 207.9,451.6 208.1,452.6 208.3,453.7 208.4,454.7 208.6,455.7 208.7,456.7 208.9,457.7 209.1,458.7 209.2,459.7" stroke="#ff22ff" stroke-width="1.25" fill="none" stroke-linejoin="round" clip-path="url(#ci)"/>
<path d="M150.9,519.0 152.2,519.0 153.5,518.9 154.7,518.9 156.0,518.8 157.3,518.6 158.6,518.6 159.9,518.5 161.1,518.4 162.4,518.8 163.7,518.9 165.0,518.2 166.3,517.6 167.5,517.6 168.8,518.0 170.1,518.6 171.4,518.8 172.7,518.6 173.9,518.6 175.2,518.6 176.5,518.4 177.8,518.3 179.1,518.0 180.3,517.5 181.6,517.5 182.9,518.0 184.2,517.8 185.5,517.6 186.7,517.7 188.0,517.3 189.3,517.2 190.6,517.4 191.9,517.2 193.1,516.8 194.4,516.9 195.7,516.8 197.0,516.6 198.3,516.8 199.5,516.6 200.8,515.9 202.1,515.6 203.4,515.5 204.7,515.5 205.9,515.7 207.2,515.3 208.5,514.6 209.8,513.7 211.1,513.3 212.3,513.1 213.6,512.5 214.9,511.9 216.2,510.9 217.5,509.3 218.7,507.7 220.0,506.5 221.3,505.3 222.6,503.2 223.9,500.2 225.1,497.4 226.4,494.4 227.7,490.7 229.0,486.6 230.3,482.5 231.5,478.1 232.8,473.1 234.1,467.5 235.4,461.5 236.7,455.3 237.9,448.8 239.2,442.3 240.5,435.2 241.8,428.0 243.1,421.5 244.3,415.2 245.6,408.9 246.9,402.7 248.2,396.8 249.5,392.1 250.7,388.5 252.0,385.2 253.3,382.8 254.6,381.8 255.9,381.6 257.1,382.6 258.4,384.7 259.7,387.0 261.0,390.1 262.3,394.5 263.5,398.8 264.8,403.5 266.1,409.2 267.4,415.0 268.7,420.8 269.9,426.5 271.2,432.5 272.5,439.0 273.8,445.2 275.1,450.9 276.3,456.6 277.6,461.9 278.9,467.0 280.2,472.1 281.5,476.7 282.7,480.6 284.0,484.2 285.3,487.8 286.6,491.4 287.9,495.0 289.1,497.7 290.4,499.8 291.7,501.8 293.0,503.6 294.3,505.2 295.5,506.9 296.8,508.5 298.1,509.5 299.4,510.4 300.7,511.2 301.9,511.9 303.2,512.6 304.5,513.2 305.8,513.4 307.1,513.8 308.3,514.5 309.6,514.8 310.9,515.0 312.2,515.3 313.5,515.5 314.7,515.9 316.0,516.3 317.3,516.3 318.6,516.2 319.9,516.5 321.1,516.6 322.4,516.7 323.7,517.0 325.0,517.0 326.3,517.1 327.5,517.4 328.8,517.7 330.1,517.7 331.4,517.8 332.7,517.8 333.9,517.6 335.2,517.7 336.5,518.1 337.8,518.3 339.1,517.8 340.3,517.4 341.6,517.5 342.9,517.7" stroke="#1f8f1f" stroke-width="1.25" fill="none" stroke-linejoin="round" clip-path="url(#ce)"/>
<path d="M150.4,459.5 150.6,458.4 150.8,457.3 150.9,456.2 151.1,455.0 151.2,453.9 151.4,452.7 151.5,451.6 151.7,450.4 151.9,449.2 152.0,448.0 152.2,446.9 152.3,445.7 152.5,444.5 152.6,443.2 152.8,442.0 153.0,440.8 153.1,439.6 153.3,438.3 153.4,437.1 153.6,435.8 153.8,434.6 153.9,433.3 154.1,432.0 154.2,430.8 154.4,429.5 154.5,428.2 154.7,426.9 154.9,425.6 155.0,424.3 155.2,422.9 155.3,421.6 155.5,420.3 155.6,419.0 155.8,417.6 156.0,416.3 156.1,414.9 156.3,413.6 156.4,412.2 156.6,410.9 156.8,409.5 156.9,408.1 157.1,406.8 157.2,405.4 157.4,404.0 157.5,402.6 157.7,401.2 157.9,399.8 158.0,398.4 158.2,397.0 158.3,395.6 158.5,394.2 158.7,392.8 158.8,391.4 159.0,390.0 159.1,388.6 159.3,387.2 159.4,385.8 159.6,384.3 159.8,382.9 159.9,381.5 160.1,380.1 160.2,378.7 160.4,377.2 160.5,375.8 160.7,374.4 160.9,373.0 161.0,371.5 161.2,370.1 196.4,370.4 196.6,371.6 196.7,372.9 196.9,374.1 197.0,375.4 197.2,376.7 197.4,377.9 197.5,379.2 197.7,380.4 197.8,381.7 198.0,383.0 198.2,384.2 198.3,385.5 198.5,386.7 198.6,388.0 198.8,389.2 198.9,390.5 199.1,391.7 199.3,393.0 199.4,394.2 199.6,395.5 199.7,396.7 199.9,397.9 200.0,399.2 200.2,400.4 200.4,401.6 200.5,402.9 200.7,404.1 200.8,405.3 201.0,406.5 201.2,407.7 201.3,408.9 201.5,410.2 201.6,411.4 201.8,412.6 201.9,413.8 202.1,414.9 202.3,416.1 202.4,417.3 202.6,418.5 202.7,419.7 202.9,420.8 203.0,422.0 203.2,423.2 203.4,424.3 203.5,425.5 203.7,426.6 203.8,427.8 204.0,428.9 204.2,430.1 204.3,431.2 204.5,432.3 204.6,433.4 204.8,434.6 204.9,435.7 205.1,436.8 205.3,437.9 205.4,439.0 205.6,440.0 205.7,441.1 205.9,442.2 206.1,443.3 206.2,444.3 206.4,445.4 206.5,446.5 206.7,447.5 206.8,448.6 207.0,449.6 207.2,450.6 207.3,451.6 207.5,452.7 207.6,453.7 207.8,454.7 207.9,455.7 208.1,456.7 208.3,457.7 208.4,458.6 208.6,459.6" stroke="#1f8f1f" stroke-width="1.25" fill="none" stroke-linejoin="round" clip-path="url(#ci)"/>
<path d="M150.9,519.3 152.2,519.2 153.5,519.2 154.7,519.2 156.0,519.2 157.3,519.2 158.6,519.1 159.9,519.2 161.1,519.4 162.4,519.3 163.7,519.2 165.0,519.0 166.3,519.0 167.5,519.2 168.8,519.1 170.1,519.0 171.4,519.1 172.7,519.4 173.9,519.4 175.2,519.2 176.5,519.2 177.8,519.4 179.1,519.3 180.3,519.0 181.6,518.9 182.9,519.0 184.2,519.0 185.5,518.9 186.7,518.7 188.0,518.6 189.3,518.8 190.6,519.0 191.9,518.9 193.1,518.6 194.4,518.4 195.7,518.5 197.0,518.9 198.3,518.9 199.5,518.7 200.8,518.7 202.1,518.7 203.4,518.8 204.7,518.6 205.9,518.2 207.2,518.1 208.5,518.3 209.8,518.2 211.1,517.9 212.3,517.8 213.6,517.8 214.9,517.5 216.2,517.0 217.5,516.2 218.7,515.6 220.0,515.0 221.3,513.8 222.6,512.2 223.9,510.6 225.1,508.7 226.4,506.5 227.7,503.7 229.0,500.3 230.3,496.7 231.5,492.6 232.8,487.6 234.1,481.9 235.4,475.7 236.7,469.0 237.9,461.5 239.2,453.7 240.5,445.9 241.8,437.8 243.1,429.4 244.3,420.9 245.6,412.6 246.9,405.0 248.2,398.5 249.5,392.9 250.7,388.0 252.0,384.4 253.3,382.5 254.6,381.8 255.9,382.2 257.1,383.9 258.4,386.6 259.7,390.1 261.0,394.4 262.3,399.5 263.5,405.2 264.8,411.6 266.1,418.4 267.4,425.1 268.7,432.0 269.9,438.7 271.2,445.3 272.5,451.6 273.8,458.0 275.1,464.1 276.3,469.8 277.6,474.9 278.9,479.8 280.2,484.3 281.5,488.1 282.7,491.9 284.0,495.3 285.3,498.2 286.6,500.8 287.9,503.0 289.1,504.9 290.4,506.6 291.7,508.2 293.0,509.3 294.3,510.3 295.5,511.4 296.8,512.3 298.1,513.1 299.4,513.6 300.7,514.1 301.9,514.3 303.2,514.7 304.5,515.0 305.8,515.3 307.1,515.8 308.3,516.1 309.6,516.4 310.9,516.7 312.2,516.6 313.5,516.4 314.7,516.6 316.0,516.8 317.3,516.9 318.6,517.2 319.9,517.5 321.1,517.6 322.4,517.6 323.7,517.6 325.0,517.6 326.3,517.6 327.5,517.5 328.8,517.4 330.1,517.5 331.4,517.5 332.7,517.6 333.9,517.7 335.2,517.7 336.5,517.9 337.8,517.8 339.1,517.8 340.3,518.3 341.6,518.5 342.9,518.4" stroke="#2a2aa8" stroke-width="1.25" fill="none" stroke-linejoin="round" clip-path="url(#ce)"/>
<path d="M154.1,459.7 154.2,458.3 154.4,456.9 154.5,455.5 154.7,454.0 154.9,452.6 155.0,451.1 155.2,449.6 155.3,448.2 155.5,446.7 155.6,445.2 155.8,443.7 156.0,442.1 156.1,440.6 156.3,439.1 156.4,437.5 156.6,436.0 156.8,434.4 156.9,432.8 157.1,431.2 157.2,429.6 157.4,428.0 157.5,426.4 157.7,424.8 157.9,423.2 158.0,421.5 158.2,419.9 158.3,418.3 158.5,416.6 158.7,414.9 158.8,413.3 159.0,411.6 159.1,409.9 159.3,408.3 159.4,406.6 159.6,404.9 159.8,403.2 159.9,401.5 160.1,399.8 160.2,398.1 160.4,396.4 160.5,394.6 160.7,392.9 160.9,391.2 161.0,389.5 161.2,387.8 161.3,386.0 161.5,384.3 161.7,382.6 161.8,380.9 162.0,379.2 162.1,377.4 162.3,375.7 162.4,374.0 162.6,372.3 162.8,370.5 193.7,370.8 193.9,372.2 194.0,373.6 194.2,375.0 194.4,376.4 194.5,377.8 194.7,379.2 194.8,380.6 195.0,382.0 195.1,383.4 195.3,384.8 195.5,386.2 195.6,387.6 195.8,389.0 195.9,390.4 196.1,391.8 196.3,393.2 196.4,394.6 196.6,395.9 196.7,397.3 196.9,398.7 197.0,400.1 197.2,401.5 197.4,402.8 197.5,404.2 197.7,405.5 197.8,406.9 198.0,408.3 198.2,409.6 198.3,410.9 198.5,412.3 198.6,413.6 198.8,414.9 198.9,416.3 199.1,417.6 199.3,418.9 199.4,420.2 199.6,421.5 199.7,422.8 199.9,424.1 200.0,425.4 200.2,426.7 200.4,428.0 200.5,429.2 200.7,430.5 200.8,431.8 201.0,433.0 201.2,434.2 201.3,435.5 201.5,436.7 201.6,437.9 201.8,439.2 201.9,440.4 202.1,441.6 202.3,442.8 202.4,444.0 202.6,445.1 202.7,446.3 202.9,447.5 203.0,448.7 203.2,449.8 203.4,451.0 203.5,452.1 203.7,453.2 203.8,454.4 204.0,455.5 204.2,456.6 204.3,457.7 204.5,458.8 204.6,459.9" stroke="#2a2aa8" stroke-width="1.25" fill="none" stroke-linejoin="round" clip-path="url(#ci)"/>
<path d="M150.9,519.1 152.2,518.8 153.5,518.5 154.7,518.3 156.0,518.2 157.3,518.3 158.6,518.7 159.9,518.7 161.1,518.5 162.4,518.5 163.7,518.5 165.0,518.4 166.3,518.4 167.5,518.3 168.8,518.2 170.1,518.4 171.4,518.3 172.7,518.1 173.9,518.1 175.2,518.1 176.5,517.9 177.8,518.0 179.1,518.2 180.3,518.1 181.6,517.7 182.9,517.5 184.2,517.6 185.5,517.7 186.7,517.9 188.0,517.9 189.3,517.5 190.6,517.0 191.9,517.0 193.1,517.4 194.4,517.5 195.7,517.4 197.0,517.1 198.3,516.6 199.5,516.3 200.8,516.2 202.1,516.2 203.4,516.0 204.7,515.4 205.9,515.1 207.2,515.1 208.5,515.0 209.8,514.4 211.1,513.5 212.3,512.5 213.6,511.6 214.9,510.8 216.2,509.6 217.5,507.8 218.7,505.6 220.0,503.7 221.3,501.8 222.6,499.3 223.9,496.1 225.1,492.3 226.4,488.1 227.7,483.6 229.0,478.7 230.3,473.1 231.5,467.3 232.8,461.2 234.1,454.5 235.4,447.7 236.7,440.8 237.9,433.3 239.2,425.8 240.5,418.6 241.8,411.7 243.1,405.1 244.3,398.9 245.6,393.6 246.9,389.3 248.2,385.6 249.5,383.1 250.7,381.8 252.0,381.8 253.3,382.7 254.6,384.4 255.9,387.4 257.1,391.3 258.4,395.8 259.7,400.8 261.0,406.3 262.3,412.3 263.5,418.7 264.8,425.2 266.1,431.6 267.4,438.1 268.7,444.7 269.9,451.1 271.2,457.4 272.5,463.6 273.8,469.2 275.1,474.2 276.3,478.9 277.6,483.7 278.9,488.2 280.2,492.0 281.5,495.5 282.7,498.6 284.0,501.2 285.3,503.4 286.6,505.5 287.9,507.2 289.1,508.9 290.4,510.6 291.7,511.7 293.0,512.4 294.3,513.1 295.5,513.9 296.8,514.6 298.1,515.0 299.4,515.3 300.7,515.7 301.9,515.9 303.2,516.3 304.5,516.7 305.8,516.7 307.1,516.9 308.3,517.0 309.6,516.9 310.9,517.1 312.2,517.4 313.5,517.5 314.7,517.4 316.0,517.5 317.3,517.8 318.6,517.7 319.9,517.7 321.1,518.0 322.4,518.2 323.7,518.0 325.0,518.0 326.3,518.1 327.5,518.1 328.8,518.1 330.1,518.1 331.4,518.3 332.7,518.6 333.9,518.8 335.2,518.9 336.5,518.8 337.8,518.6 339.1,518.8 340.3,518.8 341.6,518.5 342.9,518.4" stroke="#9a2cf5" stroke-width="1.25" fill="none" stroke-linejoin="round" clip-path="url(#ce)"/>
<path d="M147.3,459.6 147.4,458.5 147.6,457.3 147.7,456.1 147.9,454.9 148.1,453.6 148.2,452.4 148.4,451.2 148.5,449.9 148.7,448.7 148.9,447.4 149.0,446.2 149.2,444.9 149.3,443.6 149.5,442.3 149.6,441.0 149.8,439.7 150.0,438.4 150.1,437.1 150.3,435.7 150.4,434.4 150.6,433.1 150.8,431.7 150.9,430.3 151.1,429.0 151.2,427.6 151.4,426.2 151.5,424.8 151.7,423.4 151.9,422.0 152.0,420.6 152.2,419.2 152.3,417.8 152.5,416.4 152.6,414.9 152.8,413.5 153.0,412.1 153.1,410.6 153.3,409.2 153.4,407.7 153.6,406.3 153.8,404.8 153.9,403.3 154.1,401.8 154.2,400.4 154.4,398.9 154.5,397.4 154.7,395.9 154.9,394.4 155.0,392.9 155.2,391.4 155.3,389.9 155.5,388.4 155.6,386.9 155.8,385.4 156.0,383.9 156.1,382.4 156.3,380.9 156.4,379.4 156.6,377.9 156.8,376.4 156.9,374.9 157.1,373.3 157.2,371.8 157.4,370.3 190.6,370.4 190.7,371.7 190.9,373.1 191.0,374.5 191.2,375.8 191.4,377.2 191.5,378.6 191.7,379.9 191.8,381.3 192.0,382.7 192.1,384.0 192.3,385.4 192.5,386.8 192.6,388.1 192.8,389.5 192.9,390.9 193.1,392.2 193.3,393.6 193.4,394.9 193.6,396.3 193.7,397.6 193.9,399.0 194.0,400.3 194.2,401.7 194.4,403.0 194.5,404.4 194.7,405.7 194.8,407.0 195.0,408.4 195.1,409.7 195.3,411.0 195.5,412.3 195.6,413.6 195.8,414.9 195.9,416.3 196.1,417.6 196.3,418.8 196.4,420.1 196.6,421.4 196.7,422.7 196.9,424.0 197.0,425.3 197.2,426.5 197.4,427.8 197.5,429.0 197.7,430.3 197.8,431.5 198.0,432.8 198.2,434.0 198.3,435.2 198.5,436.5 198.6,437.7 198.8,438.9 198.9,440.1 199.1,441.3 199.3,442.5 199.4,443.7 199.6,444.9 199.7,446.0 199.9,447.2 200.0,448.4 200.2,449.5 200.4,450.7 200.5,451.8 200.7,452.9 200.8,454.0 201.0,455.2 201.2,456.3 201.3,457.4 201.5,458.5 201.6,459.6" stroke="#9a2cf5" stroke-width="1.25" fill="none" stroke-linejoin="round" clip-path="url(#ci)"/>
<line x1="305.5" y1="376.7" x2="324.4" y2="376.7" stroke="#151515" stroke-width="1.5"/>
<text x="325.6" y="379.6" font-size="8.1" fill="#111">S-2</text>
<line x1="305.5" y1="386.8" x2="324.4" y2="386.8" stroke="#ff2a2a" stroke-width="1.5"/>
<text x="325.6" y="389.7" font-size="8.1" fill="#111">S-4</text>
<line x1="305.5" y1="397" x2="324.4" y2="397" stroke="#1c1cf0" stroke-width="1.5"/>
<text x="325.6" y="399.9" font-size="8.1" fill="#111">S-5</text>
<line x1="305.5" y1="406.4" x2="324.4" y2="406.4" stroke="#ff22ff" stroke-width="1.5"/>
<text x="325.6" y="409.3" font-size="8.1" fill="#111">S-6</text>
<line x1="305.5" y1="416.5" x2="324.4" y2="416.5" stroke="#1f8f1f" stroke-width="1.5"/>
<text x="325.6" y="419.4" font-size="8.1" fill="#111">S-7</text>
<line x1="305.5" y1="426.5" x2="324.4" y2="426.5" stroke="#2a2aa8" stroke-width="1.5"/>
<text x="325.6" y="429.4" font-size="8.1" fill="#111">S-8</text>
<line x1="305.5" y1="436.8" x2="324.4" y2="436.8" stroke="#9a2cf5" stroke-width="1.5"/>
<text x="325.6" y="439.7" font-size="8.1" fill="#111">S-9</text>
<rect x="227.4" y="436.5" width="68.3" height="28" stroke="#ff5050" stroke-width="0.9" fill="none"/>
<line x1="138.1" y1="386.5" x2="231.1" y2="386.5" stroke="#777" stroke-width="1.3"/>
<line x1="138.1" y1="443.4" x2="231.1" y2="443.4" stroke="#777" stroke-width="1.3"/>
<line x1="138.1" y1="414.5" x2="228.4" y2="414.5" stroke="#ff5050" stroke-width="1"/>
<text x="219.3" y="412.7" font-size="11.5" font-weight="bold" fill="#111">0.5</text>
<line x1="159.6" y1="443.4" x2="159.6" y2="445.8" stroke="#666" stroke-width="0.9"/>
<text x="159.6" y="455.8" font-size="9.2" text-anchor="middle" fill="#111">39.2</text>
<line x1="191.2" y1="443.4" x2="191.2" y2="445.8" stroke="#666" stroke-width="0.9"/>
<text x="191.2" y="455.8" font-size="9.2" text-anchor="middle" fill="#111">39.4</text>
<line x1="222.8" y1="443.4" x2="222.8" y2="445.8" stroke="#666" stroke-width="0.9"/>
<text x="222.8" y="455.8" font-size="9.2" text-anchor="middle" fill="#111">39.6</text>
<line x1="143.8" y1="443.4" x2="143.8" y2="445" stroke="#666" stroke-width="0.9"/>
<line x1="175.4" y1="443.4" x2="175.4" y2="445" stroke="#666" stroke-width="0.9"/>
<line x1="207" y1="443.4" x2="207" y2="445" stroke="#666" stroke-width="0.9"/>
<text x="138.6" y="380.2" font-size="13" fill="#111">(e) normalized ZrN(200)</text>
</svg></body></html>
